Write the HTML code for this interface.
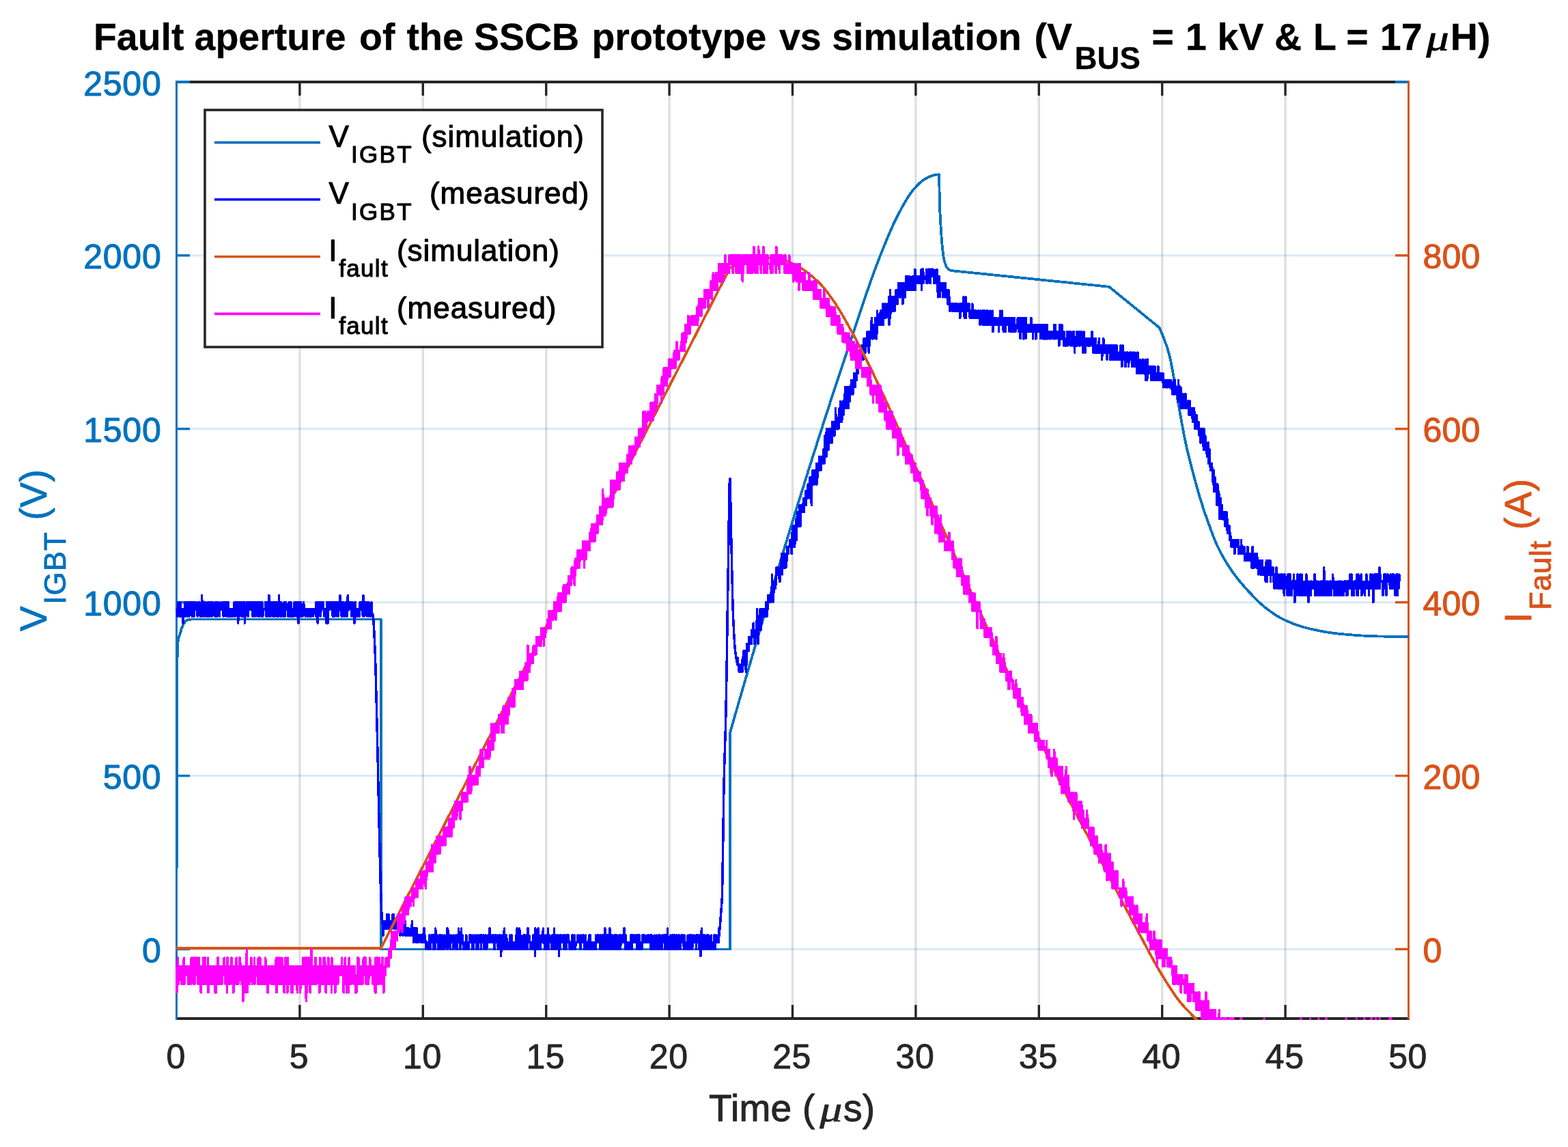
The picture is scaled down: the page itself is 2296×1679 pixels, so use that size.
<!DOCTYPE html>
<html lang="en"><head><meta charset="utf-8">
<title>Fault aperture of the SSCB prototype vs simulation</title>
<style>
html,body{margin:0;padding:0;background:#fff;}
body{width:2296px;height:1679px;overflow:hidden;}
svg{display:block;}
text{font-family:'Liberation Sans', Arial, Helvetica, sans-serif;stroke-linejoin:round;}
.mu{font-family:'Liberation Serif', 'DejaVu Serif', serif;font-style:italic;font-weight:normal;stroke-width:0.6px;}
</style></head><body>
<svg xmlns="http://www.w3.org/2000/svg" width="2296" height="1679" viewBox="0 0 2296 1679">
<rect x="0" y="0" width="2296" height="1679" fill="#ffffff"/>
<defs><clipPath id="ax"><rect x="257" y="118" width="1807" height="1375"/></clipPath></defs>
<g stroke="#262626" stroke-opacity="0.15" stroke-width="3.4">
<line x1="438.9" y1="120" x2="438.9" y2="1491"/>
<line x1="619.3" y1="120" x2="619.3" y2="1491"/>
<line x1="799.7" y1="120" x2="799.7" y2="1491"/>
<line x1="980.1" y1="120" x2="980.1" y2="1491"/>
<line x1="1160.5" y1="120" x2="1160.5" y2="1491"/>
<line x1="1340.9" y1="120" x2="1340.9" y2="1491"/>
<line x1="1521.3" y1="120" x2="1521.3" y2="1491"/>
<line x1="1701.7" y1="120" x2="1701.7" y2="1491"/>
<line x1="1882.1" y1="120" x2="1882.1" y2="1491"/>
</g>
<g stroke="#0072bd" stroke-opacity="0.15" stroke-width="3.0">
<line x1="258.5" y1="1389.4" x2="2062.5" y2="1389.4"/>
<line x1="258.5" y1="1135.6" x2="2062.5" y2="1135.6"/>
<line x1="258.5" y1="881.7" x2="2062.5" y2="881.7"/>
<line x1="258.5" y1="627.8" x2="2062.5" y2="627.8"/>
<line x1="258.5" y1="373.9" x2="2062.5" y2="373.9"/>
</g>
<g>
<rect x="257" y="118" width="1807" height="4" fill="#262626"/>
<rect x="257" y="1489" width="1807" height="4" fill="#262626"/>
<g stroke="#262626" stroke-width="3.4">
<line x1="438.9" y1="1491" x2="438.9" y2="1471"/>
<line x1="438.9" y1="120" x2="438.9" y2="140"/>
<line x1="619.3" y1="1491" x2="619.3" y2="1471"/>
<line x1="619.3" y1="120" x2="619.3" y2="140"/>
<line x1="799.7" y1="1491" x2="799.7" y2="1471"/>
<line x1="799.7" y1="120" x2="799.7" y2="140"/>
<line x1="980.1" y1="1491" x2="980.1" y2="1471"/>
<line x1="980.1" y1="120" x2="980.1" y2="140"/>
<line x1="1160.5" y1="1491" x2="1160.5" y2="1471"/>
<line x1="1160.5" y1="120" x2="1160.5" y2="140"/>
<line x1="1340.9" y1="1491" x2="1340.9" y2="1471"/>
<line x1="1340.9" y1="120" x2="1340.9" y2="140"/>
<line x1="1521.3" y1="1491" x2="1521.3" y2="1471"/>
<line x1="1521.3" y1="120" x2="1521.3" y2="140"/>
<line x1="1701.7" y1="1491" x2="1701.7" y2="1471"/>
<line x1="1701.7" y1="120" x2="1701.7" y2="140"/>
<line x1="1882.1" y1="1491" x2="1882.1" y2="1471"/>
<line x1="1882.1" y1="120" x2="1882.1" y2="140"/>
</g>
<rect x="257" y="118" width="3" height="1375" fill="#0072bd"/>
<rect x="257" y="118" width="21" height="4" fill="#0072bd"/>
<g stroke="#0072bd" stroke-width="3.4">
<line x1="258.5" y1="1389.4" x2="278" y2="1389.4"/>
<line x1="258.5" y1="1135.6" x2="278" y2="1135.6"/>
<line x1="258.5" y1="881.7" x2="278" y2="881.7"/>
<line x1="258.5" y1="627.8" x2="278" y2="627.8"/>
<line x1="258.5" y1="373.9" x2="278" y2="373.9"/>
</g>
<rect x="2043" y="118" width="18" height="4" fill="#0072bd"/>
<rect x="2061" y="118" width="3" height="1374" fill="#d95319"/>
<g stroke="#d95319" stroke-width="3.4">
<line x1="2062.5" y1="1389.4" x2="2043" y2="1389.4"/>
<line x1="2062.5" y1="1135.6" x2="2043" y2="1135.6"/>
<line x1="2062.5" y1="881.7" x2="2043" y2="881.7"/>
<line x1="2062.5" y1="627.8" x2="2043" y2="627.8"/>
<line x1="2062.5" y1="373.9" x2="2043" y2="373.9"/>
</g>
</g>
<g clip-path="url(#ax)" fill="none" stroke-linejoin="round" stroke-linecap="butt">
<path stroke="#0072bd" stroke-width="3.8" shape-rendering="crispEdges" d="M258.5,1389.4L258.8,1100L259.2,990L259.8,950L260.6,938.5L261.8,933L263.3,929L265.9,920L268.6,913.7L272.1,908.6L275.7,906.8L282,906.5L300,906.5L557.7,906.5L557.7,1389.4L1069,1389.4L1069,1072.5L1071,1065.5L1074,1055.1L1077,1044.7L1080,1034.3L1083,1023.9L1086,1013.6L1089,1003.3L1092,992.9L1095,982.7L1098,972.4L1101,962.2L1104,952L1107,941.8L1110,931.6L1113,921.5L1116,911.3L1119,901.2L1122,891.1L1125,881L1128,871L1131,860.9L1134,850.9L1137,840.9L1140,830.9L1143,820.9L1146,811L1149,801.1L1152,791.2L1155,781.3L1158,771.5L1161,761.7L1164,752L1167,742.3L1170,732.6L1173,723L1176,713.3L1179,703.8L1182,694.2L1185,684.7L1188,675.2L1191,665.7L1194,656.3L1197,646.9L1200,637.5L1203,628.2L1206,618.9L1209,609.6L1212,600.4L1215,591.1L1218,581.9L1221,572.7L1224,563.6L1227,554.4L1230,545.3L1233,536.3L1236,527.2L1239,518.2L1242,509.3L1245,500.4L1248,491.5L1251,482.6L1254,473.6L1257,464.7L1260,455.7L1263,446.7L1266,437.8L1269,428.9L1272,420.2L1275,411.6L1278,403.2L1281,395L1284,387L1287,379.2L1290,371.6L1293,364.1L1296,356.7L1299,349.4L1302,342.4L1305,335.5L1308,328.8L1311,322.5L1314,316.4L1317,310.7L1320,305.1L1323,299.7L1326,294.5L1329,289.6L1332,285L1335,280.8L1338,277.1L1341,273.7L1344,270.6L1347,267.7L1350,265.1L1353,262.9L1356,261.2L1359,259.6L1362,258.2L1365,257.1L1368,256.3L1371,255.7L1374,255.4L1374.9,255.3L1375.6,280L1376.3,309L1377.6,332L1379,352.5L1380.3,366L1381.7,377L1383.6,385L1385.8,390.6L1389,394.5L1392.6,396.1L1624.1,419.8L1697.6,479.6L1699,482.6L1702,489.6L1705,497.4L1708,505.8L1711,515.1L1714,527L1717,542.7L1720,559.3L1723,576.5L1726,594L1729,610.8L1732,627.4L1735,642.9L1738,656.6L1741,669.1L1744,680.9L1747,692.4L1750,703.7L1753,714.5L1756,724.9L1759,734.7L1762,744.1L1765,753.1L1768,761.6L1771,769.9L1774,778L1777,785.9L1780,793.3L1783,800L1786,806.1L1789,811.8L1792,817.1L1795,822.2L1798,827L1801,831.6L1804,836L1807,840.2L1810,844.2L1813,848.1L1816,851.8L1819,855.3L1822,858.8L1825,862.1L1828,865.4L1831,868.6L1834,871.7L1837,874.8L1840,877.8L1843,880.8L1846,883.6L1849,886.2L1852,888.8L1855,891.1L1858,893.4L1861,895.5L1864,897.6L1867,899.7L1870,901.6L1873,903.4L1876,905L1879,906.6L1882,908L1885,909.3L1888,910.6L1891,911.9L1894,913.1L1897,914.2L1900,915.3L1903,916.3L1906,917.2L1909,918.1L1912,918.9L1915,919.6L1918,920.4L1921,921L1924,921.7L1927,922.3L1930,923L1933,923.6L1936,924.1L1939,924.7L1942,925.2L1945,925.7L1948,926.1L1951,926.6L1954,927L1957,927.3L1960,927.7L1963,928L1966,928.3L1969,928.5L1972,928.8L1975,929.1L1978,929.3L1981,929.5L1984,929.8L1987,930L1990,930.2L1993,930.4L1996,930.5L1999,930.7L2002,930.8L2005,931L2008,931.1L2011,931.2L2014,931.3L2017,931.4L2020,931.5L2023,931.5L2026,931.6L2029,931.7L2032,931.8L2035,931.8L2038,931.9L2041,932L2044,932L2047,932.1L2050,932.1L2053,932.2L2056,932.2L2059,932.2L2062,932.2L2062.5,932.2"/>
<path stroke="#0000ff" stroke-width="3.5" shape-rendering="crispEdges" d="M258.5,891.8L258.9,891.8L259.2,891.8L259.6,902L259.9,891.8L260.3,902L260.7,891.8L261,881.7L261.4,891.8L261.7,891.8L262.1,891.8L262.5,891.8L262.8,891.8L263.2,902L263.6,891.8L263.9,881.7L264.3,902L264.6,891.8L265,902L265.4,902L265.7,902L266.1,891.8L266.4,902L266.8,891.8L267.2,891.8L267.5,891.8L267.9,912.1L268.2,891.8L268.6,891.8L269,891.8L269.3,902L269.7,891.8L270,902L270.4,902L270.8,881.7L271.1,902L271.5,891.8L271.8,881.7L272.2,891.8L272.6,891.8L272.9,891.8L273.3,891.8L273.7,902L274,891.8L274.4,881.7L274.7,902L275.1,881.7L275.5,891.8L275.8,891.8L276.2,881.7L276.5,881.7L276.9,902L277.3,891.8L277.6,891.8L278,891.8L278.3,881.7L278.7,891.8L279.1,881.7L279.4,881.7L279.8,891.8L280.1,891.8L280.5,891.8L280.9,891.8L281.2,902L281.6,891.8L282,891.8L282.3,881.7L282.7,881.7L283,902L283.4,902L283.8,881.7L284.1,902L284.5,891.8L284.8,891.8L285.2,881.7L285.6,881.7L285.9,891.8L286.3,891.8L286.6,891.8L287,881.7L287.4,891.8L287.7,891.8L288.1,891.8L288.4,891.8L288.8,891.8L289.2,902L289.5,891.8L289.9,891.8L290.3,881.7L290.6,881.7L291,891.8L291.3,881.7L291.7,891.8L292.1,881.7L292.4,891.8L292.8,891.8L293.1,902L293.5,891.8L293.9,902L294.2,902L294.6,891.8L294.9,902L295.3,891.8L295.7,871.5L296,902L296.4,891.8L296.7,891.8L297.1,891.8L297.5,891.8L297.8,891.8L298.2,881.7L298.5,891.8L298.9,902L299.3,891.8L299.6,891.8L300,902L300.4,891.8L300.7,902L301.1,881.7L301.4,891.8L301.8,891.8L302.2,891.8L302.5,891.8L302.9,902L303.2,902L303.6,891.8L304,902L304.3,881.7L304.7,902L305,881.7L305.4,902L305.8,881.7L306.1,891.8L306.5,902L306.8,881.7L307.2,881.7L307.6,891.8L307.9,891.8L308.3,891.8L308.7,902L309,881.7L309.4,891.8L309.7,891.8L310.1,902L310.5,891.8L310.8,902L311.2,881.7L311.5,891.8L311.9,881.7L312.3,891.8L312.6,891.8L313,891.8L313.3,891.8L313.7,891.8L314.1,891.8L314.4,891.8L314.8,902L315.1,902L315.5,881.7L315.9,891.8L316.2,902L316.6,891.8L316.9,881.7L317.3,902L317.7,891.8L318,891.8L318.4,902L318.8,881.7L319.1,891.8L319.5,891.8L319.8,891.8L320.2,891.8L320.6,891.8L320.9,891.8L321.3,902L321.6,902L322,881.7L322.4,891.8L322.7,891.8L323.1,891.8L323.4,891.8L323.8,891.8L324.2,891.8L324.5,891.8L324.9,891.8L325.2,891.8L325.6,881.7L326,881.7L326.3,891.8L326.7,891.8L327.1,902L327.4,881.7L327.8,881.7L328.1,891.8L328.5,891.8L328.9,881.7L329.2,881.7L329.6,881.7L329.9,891.8L330.3,881.7L330.7,902L331,881.7L331.4,891.8L331.7,881.7L332.1,881.7L332.5,881.7L332.8,902L333.2,902L333.5,881.7L333.9,902L334.3,891.8L334.6,881.7L335,902L335.4,902L335.7,891.8L336.1,891.8L336.4,891.8L336.8,891.8L337.2,902L337.5,902L337.9,891.8L338.2,902L338.6,902L339,891.8L339.3,891.8L339.7,891.8L340,902L340.4,891.8L340.8,902L341.1,902L341.5,891.8L341.8,891.8L342.2,891.8L342.6,891.8L342.9,881.7L343.3,902L343.6,881.7L344,891.8L344.4,891.8L344.7,902L345.1,891.8L345.5,881.7L345.8,891.8L346.2,891.8L346.5,891.8L346.9,881.7L347.3,891.8L347.6,902L348,891.8L348.3,902L348.7,912.1L349.1,891.8L349.4,881.7L349.8,891.8L350.1,902L350.5,902L350.9,881.7L351.2,891.8L351.6,891.8L351.9,891.8L352.3,891.8L352.7,881.7L353,891.8L353.4,891.8L353.8,902L354.1,891.8L354.5,891.8L354.8,881.7L355.2,902L355.6,891.8L355.9,891.8L356.3,902L356.6,881.7L357,881.7L357.4,891.8L357.7,881.7L358.1,891.8L358.4,912.1L358.8,891.8L359.2,891.8L359.5,891.8L359.9,902L360.2,891.8L360.6,891.8L361,881.7L361.3,891.8L361.7,891.8L362,881.7L362.4,891.8L362.8,891.8L363.1,902L363.5,881.7L363.9,881.7L364.2,881.7L364.6,881.7L364.9,891.8L365.3,891.8L365.7,891.8L366,891.8L366.4,891.8L366.7,881.7L367.1,891.8L367.5,891.8L367.8,891.8L368.2,891.8L368.5,881.7L368.9,891.8L369.3,891.8L369.6,891.8L370,902L370.3,891.8L370.7,881.7L371.1,891.8L371.4,891.8L371.8,891.8L372.2,891.8L372.5,902L372.9,891.8L373.2,902L373.6,881.7L374,891.8L374.3,891.8L374.7,881.7L375,891.8L375.4,891.8L375.8,891.8L376.1,891.8L376.5,902L376.8,891.8L377.2,881.7L377.6,891.8L377.9,891.8L378.3,902L378.6,891.8L379,902L379.4,902L379.7,881.7L380.1,902L380.5,881.7L380.8,881.7L381.2,891.8L381.5,891.8L381.9,881.7L382.3,891.8L382.6,891.8L383,902L383.3,891.8L383.7,881.7L384.1,881.7L384.4,902L384.8,902L385.1,891.8L385.5,891.8L385.9,891.8L386.2,891.8L386.6,891.8L386.9,891.8L387.3,891.8L387.7,891.8L388,891.8L388.4,891.8L388.7,881.7L389.1,891.8L389.5,891.8L389.8,902L390.2,891.8L390.6,902L390.9,902L391.3,881.7L391.6,881.7L392,891.8L392.4,902L392.7,891.8L393.1,891.8L393.4,891.8L393.8,871.5L394.2,891.8L394.5,891.8L394.9,902L395.2,891.8L395.6,891.8L396,902L396.3,891.8L396.7,902L397,881.7L397.4,881.7L397.8,881.7L398.1,891.8L398.5,891.8L398.9,891.8L399.2,891.8L399.6,891.8L399.9,902L400.3,902L400.7,881.7L401,891.8L401.4,891.8L401.7,881.7L402.1,902L402.5,891.8L402.8,891.8L403.2,891.8L403.5,891.8L403.9,881.7L404.3,891.8L404.6,902L405,902L405.3,881.7L405.7,891.8L406.1,902L406.4,881.7L406.8,891.8L407.1,881.7L407.5,891.8L407.9,891.8L408.2,902L408.6,871.5L409,891.8L409.3,881.7L409.7,891.8L410,891.8L410.4,902L410.8,891.8L411.1,881.7L411.5,902L411.8,881.7L412.2,891.8L412.6,902L412.9,891.8L413.3,891.8L413.6,891.8L414,891.8L414.4,902L414.7,891.8L415.1,902L415.4,902L415.8,891.8L416.2,881.7L416.5,902L416.9,891.8L417.3,891.8L417.6,902L418,881.7L418.3,891.8L418.7,881.7L419.1,891.8L419.4,891.8L419.8,891.8L420.1,891.8L420.5,891.8L420.9,891.8L421.2,891.8L421.6,891.8L421.9,902L422.3,891.8L422.7,891.8L423,881.7L423.4,902L423.7,891.8L424.1,902L424.5,881.7L424.8,902L425.2,902L425.6,891.8L425.9,881.7L426.3,902L426.6,902L427,891.8L427.4,902L427.7,891.8L428.1,902L428.4,891.8L428.8,891.8L429.2,891.8L429.5,891.8L429.9,902L430.2,902L430.6,902L431,881.7L431.3,891.8L431.7,891.8L432,891.8L432.4,891.8L432.8,891.8L433.1,881.7L433.5,902L433.8,902L434.2,902L434.6,902L434.9,881.7L435.3,881.7L435.7,902L436,902L436.4,891.8L436.7,881.7L437.1,912.1L437.5,891.8L437.8,902L438.2,881.7L438.5,902L438.9,891.8L439.3,902L439.6,902L440,881.7L440.3,881.7L440.7,891.8L441.1,902L441.4,902L441.8,891.8L442.1,891.8L442.5,891.8L442.9,891.8L443.2,902L443.6,891.8L444,891.8L444.3,881.7L444.7,881.7L445,891.8L445.4,891.8L445.8,891.8L446.1,891.8L446.5,891.8L446.8,891.8L447.2,902L447.6,891.8L447.9,891.8L448.3,891.8L448.6,891.8L449,891.8L449.4,902L449.7,891.8L450.1,891.8L450.4,891.8L450.8,891.8L451.2,902L451.5,891.8L451.9,902L452.2,891.8L452.6,891.8L453,902L453.3,891.8L453.7,891.8L454.1,891.8L454.4,891.8L454.8,891.8L455.1,902L455.5,891.8L455.9,891.8L456.2,891.8L456.6,902L456.9,891.8L457.3,891.8L457.7,891.8L458,891.8L458.4,891.8L458.7,902L459.1,891.8L459.5,891.8L459.8,891.8L460.2,891.8L460.5,891.8L460.9,891.8L461.3,891.8L461.6,891.8L462,891.8L462.4,902L462.7,891.8L463.1,881.7L463.4,881.7L463.8,891.8L464.2,902L464.5,881.7L464.9,891.8L465.2,912.1L465.6,891.8L466,902L466.3,902L466.7,891.8L467,881.7L467.4,891.8L467.8,891.8L468.1,881.7L468.5,881.7L468.8,891.8L469.2,891.8L469.6,902L469.9,891.8L470.3,891.8L470.7,891.8L471,891.8L471.4,881.7L471.7,891.8L472.1,891.8L472.5,881.7L472.8,891.8L473.2,881.7L473.5,891.8L473.9,891.8L474.3,891.8L474.6,902L475,902L475.3,891.8L475.7,891.8L476.1,891.8L476.4,902L476.8,891.8L477.1,891.8L477.5,902L477.9,912.1L478.2,891.8L478.6,881.7L478.9,891.8L479.3,891.8L479.7,891.8L480,881.7L480.4,912.1L480.8,891.8L481.1,891.8L481.5,881.7L481.8,881.7L482.2,881.7L482.6,891.8L482.9,891.8L483.3,881.7L483.6,891.8L484,891.8L484.4,881.7L484.7,881.7L485.1,891.8L485.4,891.8L485.8,891.8L486.2,881.7L486.5,891.8L486.9,881.7L487.2,902L487.6,891.8L488,891.8L488.3,881.7L488.7,881.7L489.1,902L489.4,902L489.8,891.8L490.1,891.8L490.5,902L490.9,881.7L491.2,891.8L491.6,891.8L491.9,891.8L492.3,881.7L492.7,891.8L493,881.7L493.4,902L493.7,902L494.1,891.8L494.5,891.8L494.8,881.7L495.2,891.8L495.5,902L495.9,891.8L496.3,891.8L496.6,881.7L497,891.8L497.3,891.8L497.7,881.7L498.1,871.5L498.4,881.7L498.8,891.8L499.2,891.8L499.5,881.7L499.9,891.8L500.2,902L500.6,891.8L501,891.8L501.3,902L501.7,902L502,902L502.4,881.7L502.8,891.8L503.1,891.8L503.5,891.8L503.8,891.8L504.2,891.8L504.6,891.8L504.9,902L505.3,891.8L505.6,902L506,881.7L506.4,891.8L506.7,891.8L507.1,891.8L507.5,891.8L507.8,881.7L508.2,902L508.5,902L508.9,891.8L509.3,871.5L509.6,881.7L510,891.8L510.3,881.7L510.7,881.7L511.1,891.8L511.4,891.8L511.8,881.7L512.1,891.8L512.5,881.7L512.9,891.8L513.2,881.7L513.6,881.7L513.9,891.8L514.3,881.7L514.7,902L515,891.8L515.4,891.8L515.8,891.8L516.1,881.7L516.5,891.8L516.8,902L517.2,891.8L517.6,891.8L517.9,891.8L518.3,891.8L518.6,891.8L519,912.1L519.4,881.7L519.7,891.8L520.1,881.7L520.4,881.7L520.8,891.8L521.2,902L521.5,902L521.9,902L522.2,891.8L522.6,891.8L523,902L523.3,891.8L523.7,902L524,891.8L524.4,891.8L524.8,891.8L525.1,891.8L525.5,891.8L525.9,891.8L526.2,902L526.6,891.8L526.9,881.7L527.3,881.7L527.7,881.7L528,881.7L528.4,891.8L528.7,881.7L529.1,891.8L529.5,891.8L529.8,891.8L530.2,891.8L530.5,891.8L530.9,891.8L531.3,902L531.6,891.8L532,871.5L532.3,891.8L532.7,891.8L533.1,891.8L533.4,881.7L533.8,902L534.2,891.8L534.5,881.7L534.9,891.8L535.2,891.8L535.6,881.7L536,891.8L536.3,891.8L536.7,891.8L537,881.7L537.4,902L537.8,891.8L538.1,891.8L538.5,881.7L538.8,891.8L539.2,881.7L539.6,902L539.9,881.7L540.3,891.8L540.6,891.8L541,891.8L541.4,902L541.7,902L542.1,891.8L542.4,902L542.8,891.8L543.2,891.8L543.5,891.8L543.9,881.7L544.3,891.8L544.6,902L545,902L545.3,898.1L545.7,899.1L546.1,900.3L546.4,903L546.8,907L547.1,912.2L547.5,918.3L547.9,925.1L548.2,932.6L548.6,940.5L548.9,948.7L549.3,957.7L549.7,968.4L550,980.5L550.4,993.8L550.7,1008L551.1,1022.8L551.5,1037.9L551.8,1053L552.2,1068L552.6,1084L552.9,1100.8L553.3,1118.2L553.6,1135.9L554,1153.5L554.4,1170.8L554.7,1187.5L555.1,1203.4L555.4,1219.2L555.8,1235.3L556.2,1251L556.5,1266.1L556.9,1280L557.2,1292.4L557.6,1302.9L558,1313.1L558.3,1323.4L558.7,1333L559,1341.2L559.4,1347.6L559.8,1351.3L560.1,1352L560.5,1352L560.9,1352L561.2,1369.1L561.6,1359L561.9,1359L562.3,1348.8L562.7,1348.8L563,1359L563.4,1359L563.7,1348.8L564.1,1348.8L564.5,1348.8L564.8,1359L565.2,1348.8L565.5,1359L565.9,1359L566.3,1359L566.6,1338.7L567,1348.8L567.3,1348.8L567.7,1359L568.1,1348.8L568.4,1359L568.8,1348.8L569.1,1338.7L569.5,1348.8L569.9,1359L570.2,1348.8L570.6,1348.8L571,1348.8L571.3,1359L571.7,1359L572,1359L572.4,1348.8L572.8,1348.8L573.1,1348.8L573.5,1348.8L573.8,1348.8L574.2,1359L574.6,1348.8L574.9,1338.7L575.3,1348.8L575.6,1348.8L576,1348.8L576.4,1338.7L576.7,1359L577.1,1359L577.4,1348.8L577.8,1348.8L578.2,1359L578.5,1348.8L578.9,1359L579.3,1348.8L579.6,1359L580,1359L580.3,1359L580.7,1348.8L581.1,1359L581.4,1359L581.8,1348.8L582.1,1359L582.5,1359L582.9,1359L583.2,1348.8L583.6,1338.7L583.9,1338.7L584.3,1359L584.7,1348.8L585,1359L585.4,1359L585.7,1348.8L586.1,1369.1L586.5,1348.8L586.8,1359L587.2,1348.8L587.5,1359L587.9,1359L588.3,1359L588.6,1348.8L589,1359L589.4,1359L589.7,1359L590.1,1369.1L590.4,1348.8L590.8,1359L591.2,1359L591.5,1359L591.9,1348.8L592.2,1359L592.6,1369.1L593,1359L593.3,1348.8L593.7,1369.1L594,1359L594.4,1369.1L594.8,1369.1L595.1,1359L595.5,1359L595.8,1369.1L596.2,1369.1L596.6,1359L596.9,1359L597.3,1369.1L597.7,1359L598,1359L598.4,1369.1L598.7,1359L599.1,1369.1L599.5,1369.1L599.8,1369.1L600.2,1369.1L600.5,1369.1L600.9,1369.1L601.3,1369.1L601.6,1359L602,1369.1L602.3,1359L602.7,1359L603.1,1359L603.4,1348.8L603.8,1369.1L604.1,1359L604.5,1369.1L604.9,1359L605.2,1359L605.6,1379.3L606,1369.1L606.3,1359L606.7,1359L607,1359L607.4,1369.1L607.8,1369.1L608.1,1369.1L608.5,1369.1L608.8,1359L609.2,1379.3L609.6,1369.1L609.9,1379.3L610.3,1359L610.6,1369.1L611,1379.3L611.4,1369.1L611.7,1379.3L612.1,1379.3L612.4,1379.3L612.8,1369.1L613.2,1369.1L613.5,1369.1L613.9,1369.1L614.2,1369.1L614.6,1369.1L615,1369.1L615.3,1369.1L615.7,1369.1L616.1,1379.3L616.4,1379.3L616.8,1369.1L617.1,1369.1L617.5,1379.3L617.9,1369.1L618.2,1379.3L618.6,1369.1L618.9,1379.3L619.3,1369.1L619.7,1369.1L620,1379.3L620.4,1359L620.7,1369.1L621.1,1359L621.5,1369.1L621.8,1379.3L622.2,1379.3L622.5,1369.1L622.9,1379.3L623.3,1379.3L623.6,1379.3L624,1389.4L624.4,1379.3L624.7,1389.4L625.1,1379.3L625.4,1379.3L625.8,1379.3L626.2,1379.3L626.5,1379.3L626.9,1389.4L627.2,1389.4L627.6,1379.3L628,1389.4L628.3,1379.3L628.7,1369.1L629,1379.3L629.4,1369.1L629.8,1389.4L630.1,1379.3L630.5,1379.3L630.8,1379.3L631.2,1369.1L631.6,1369.1L631.9,1379.3L632.3,1379.3L632.6,1379.3L633,1369.1L633.4,1379.3L633.7,1369.1L634.1,1379.3L634.5,1369.1L634.8,1389.4L635.2,1379.3L635.5,1369.1L635.9,1379.3L636.3,1379.3L636.6,1379.3L637,1389.4L637.3,1379.3L637.7,1359L638.1,1369.1L638.4,1379.3L638.8,1379.3L639.1,1379.3L639.5,1369.1L639.9,1379.3L640.2,1379.3L640.6,1369.1L640.9,1369.1L641.3,1379.3L641.7,1389.4L642,1389.4L642.4,1379.3L642.8,1389.4L643.1,1369.1L643.5,1379.3L643.8,1379.3L644.2,1369.1L644.6,1369.1L644.9,1389.4L645.3,1369.1L645.6,1369.1L646,1379.3L646.4,1379.3L646.7,1379.3L647.1,1389.4L647.4,1369.1L647.8,1389.4L648.2,1389.4L648.5,1379.3L648.9,1379.3L649.2,1379.3L649.6,1379.3L650,1379.3L650.3,1369.1L650.7,1389.4L651.1,1379.3L651.4,1379.3L651.8,1379.3L652.1,1379.3L652.5,1379.3L652.9,1379.3L653.2,1369.1L653.6,1379.3L653.9,1379.3L654.3,1369.1L654.7,1359L655,1389.4L655.4,1379.3L655.7,1359L656.1,1369.1L656.5,1379.3L656.8,1379.3L657.2,1379.3L657.5,1379.3L657.9,1379.3L658.3,1369.1L658.6,1379.3L659,1379.3L659.3,1389.4L659.7,1379.3L660.1,1379.3L660.4,1379.3L660.8,1369.1L661.2,1379.3L661.5,1379.3L661.9,1379.3L662.2,1379.3L662.6,1379.3L663,1379.3L663.3,1369.1L663.7,1389.4L664,1369.1L664.4,1379.3L664.8,1379.3L665.1,1379.3L665.5,1379.3L665.8,1379.3L666.2,1379.3L666.6,1369.1L666.9,1379.3L667.3,1389.4L667.6,1379.3L668,1389.4L668.4,1379.3L668.7,1369.1L669.1,1369.1L669.5,1389.4L669.8,1379.3L670.2,1369.1L670.5,1379.3L670.9,1379.3L671.3,1369.1L671.6,1359L672,1369.1L672.3,1379.3L672.7,1379.3L673.1,1369.1L673.4,1379.3L673.8,1389.4L674.1,1379.3L674.5,1379.3L674.9,1379.3L675.2,1379.3L675.6,1359L675.9,1379.3L676.3,1379.3L676.7,1379.3L677,1379.3L677.4,1369.1L677.7,1379.3L678.1,1379.3L678.5,1389.4L678.8,1379.3L679.2,1379.3L679.6,1379.3L679.9,1389.4L680.3,1379.3L680.6,1379.3L681,1379.3L681.4,1379.3L681.7,1379.3L682.1,1389.4L682.4,1389.4L682.8,1369.1L683.2,1389.4L683.5,1379.3L683.9,1379.3L684.2,1379.3L684.6,1379.3L685,1379.3L685.3,1379.3L685.7,1379.3L686,1389.4L686.4,1379.3L686.8,1379.3L687.1,1379.3L687.5,1379.3L687.9,1369.1L688.2,1369.1L688.6,1379.3L688.9,1369.1L689.3,1369.1L689.7,1369.1L690,1369.1L690.4,1379.3L690.7,1379.3L691.1,1369.1L691.5,1389.4L691.8,1379.3L692.2,1379.3L692.5,1379.3L692.9,1389.4L693.3,1379.3L693.6,1379.3L694,1369.1L694.3,1369.1L694.7,1379.3L695.1,1379.3L695.4,1379.3L695.8,1379.3L696.2,1379.3L696.5,1379.3L696.9,1369.1L697.2,1379.3L697.6,1389.4L698,1379.3L698.3,1389.4L698.7,1389.4L699,1369.1L699.4,1379.3L699.8,1389.4L700.1,1369.1L700.5,1369.1L700.8,1379.3L701.2,1379.3L701.6,1379.3L701.9,1379.3L702.3,1369.1L702.6,1369.1L703,1369.1L703.4,1369.1L703.7,1369.1L704.1,1369.1L704.4,1389.4L704.8,1379.3L705.2,1379.3L705.5,1379.3L705.9,1369.1L706.3,1379.3L706.6,1379.3L707,1369.1L707.3,1369.1L707.7,1379.3L708.1,1369.1L708.4,1369.1L708.8,1379.3L709.1,1389.4L709.5,1379.3L709.9,1379.3L710.2,1389.4L710.6,1379.3L710.9,1369.1L711.3,1379.3L711.7,1389.4L712,1369.1L712.4,1379.3L712.7,1389.4L713.1,1379.3L713.5,1379.3L713.8,1379.3L714.2,1369.1L714.6,1379.3L714.9,1379.3L715.3,1379.3L715.6,1369.1L716,1379.3L716.4,1379.3L716.7,1379.3L717.1,1359L717.4,1379.3L717.8,1369.1L718.2,1379.3L718.5,1379.3L718.9,1369.1L719.2,1369.1L719.6,1369.1L720,1379.3L720.3,1379.3L720.7,1379.3L721,1379.3L721.4,1379.3L721.8,1369.1L722.1,1379.3L722.5,1369.1L722.8,1369.1L723.2,1379.3L723.6,1389.4L723.9,1389.4L724.3,1389.4L724.7,1369.1L725,1379.3L725.4,1369.1L725.7,1379.3L726.1,1369.1L726.5,1369.1L726.8,1379.3L727.2,1379.3L727.5,1379.3L727.9,1379.3L728.3,1379.3L728.6,1379.3L729,1369.1L729.3,1389.4L729.7,1379.3L730.1,1379.3L730.4,1379.3L730.8,1369.1L731.1,1379.3L731.5,1369.1L731.9,1389.4L732.2,1369.1L732.6,1379.3L733,1379.3L733.3,1379.3L733.7,1399.6L734,1379.3L734.4,1379.3L734.8,1369.1L735.1,1379.3L735.5,1379.3L735.8,1389.4L736.2,1369.1L736.6,1369.1L736.9,1379.3L737.3,1379.3L737.6,1389.4L738,1369.1L738.4,1359L738.7,1369.1L739.1,1369.1L739.4,1379.3L739.8,1389.4L740.2,1369.1L740.5,1389.4L740.9,1379.3L741.3,1379.3L741.6,1369.1L742,1379.3L742.3,1379.3L742.7,1379.3L743.1,1389.4L743.4,1379.3L743.8,1379.3L744.1,1389.4L744.5,1389.4L744.9,1379.3L745.2,1389.4L745.6,1389.4L745.9,1389.4L746.3,1379.3L746.7,1379.3L747,1369.1L747.4,1389.4L747.7,1379.3L748.1,1369.1L748.5,1379.3L748.8,1379.3L749.2,1369.1L749.5,1379.3L749.9,1389.4L750.3,1389.4L750.6,1379.3L751,1379.3L751.4,1389.4L751.7,1389.4L752.1,1379.3L752.4,1379.3L752.8,1379.3L753.2,1379.3L753.5,1379.3L753.9,1389.4L754.2,1379.3L754.6,1379.3L755,1379.3L755.3,1389.4L755.7,1379.3L756,1369.1L756.4,1369.1L756.8,1389.4L757.1,1359L757.5,1389.4L757.8,1369.1L758.2,1369.1L758.6,1369.1L758.9,1379.3L759.3,1389.4L759.7,1369.1L760,1379.3L760.4,1389.4L760.7,1359L761.1,1369.1L761.5,1369.1L761.8,1379.3L762.2,1369.1L762.5,1369.1L762.9,1369.1L763.3,1379.3L763.6,1389.4L764,1379.3L764.3,1389.4L764.7,1389.4L765.1,1379.3L765.4,1389.4L765.8,1379.3L766.1,1379.3L766.5,1369.1L766.9,1369.1L767.2,1379.3L767.6,1369.1L767.9,1379.3L768.3,1379.3L768.7,1369.1L769,1389.4L769.4,1379.3L769.8,1389.4L770.1,1379.3L770.5,1369.1L770.8,1379.3L771.2,1379.3L771.6,1379.3L771.9,1389.4L772.3,1389.4L772.6,1369.1L773,1359L773.4,1379.3L773.7,1379.3L774.1,1369.1L774.4,1379.3L774.8,1369.1L775.2,1379.3L775.5,1379.3L775.9,1379.3L776.2,1379.3L776.6,1379.3L777,1389.4L777.3,1379.3L777.7,1389.4L778.1,1379.3L778.4,1379.3L778.8,1379.3L779.1,1379.3L779.5,1389.4L779.9,1379.3L780.2,1379.3L780.6,1369.1L780.9,1369.1L781.3,1369.1L781.7,1379.3L782,1369.1L782.4,1389.4L782.7,1369.1L783.1,1379.3L783.5,1399.6L783.8,1359L784.2,1369.1L784.5,1389.4L784.9,1379.3L785.3,1379.3L785.6,1379.3L786,1389.4L786.4,1379.3L786.7,1379.3L787.1,1379.3L787.4,1369.1L787.8,1379.3L788.2,1359L788.5,1379.3L788.9,1379.3L789.2,1389.4L789.6,1389.4L790,1369.1L790.3,1379.3L790.7,1379.3L791,1379.3L791.4,1389.4L791.8,1379.3L792.1,1379.3L792.5,1379.3L792.8,1369.1L793.2,1369.1L793.6,1379.3L793.9,1379.3L794.3,1379.3L794.6,1379.3L795,1369.1L795.4,1359L795.7,1369.1L796.1,1379.3L796.5,1379.3L796.8,1379.3L797.2,1379.3L797.5,1389.4L797.9,1379.3L798.3,1379.3L798.6,1369.1L799,1379.3L799.3,1379.3L799.7,1389.4L800.1,1369.1L800.4,1379.3L800.8,1369.1L801.1,1369.1L801.5,1369.1L801.9,1379.3L802.2,1369.1L802.6,1359L802.9,1389.4L803.3,1369.1L803.7,1369.1L804,1379.3L804.4,1369.1L804.8,1369.1L805.1,1379.3L805.5,1379.3L805.8,1379.3L806.2,1379.3L806.6,1379.3L806.9,1379.3L807.3,1379.3L807.6,1379.3L808,1389.4L808.4,1369.1L808.7,1369.1L809.1,1369.1L809.4,1379.3L809.8,1379.3L810.2,1379.3L810.5,1379.3L810.9,1389.4L811.2,1369.1L811.6,1359L812,1389.4L812.3,1369.1L812.7,1379.3L813,1379.3L813.4,1369.1L813.8,1389.4L814.1,1379.3L814.5,1369.1L814.9,1379.3L815.2,1379.3L815.6,1379.3L815.9,1379.3L816.3,1369.1L816.7,1379.3L817,1369.1L817.4,1389.4L817.7,1369.1L818.1,1379.3L818.5,1399.6L818.8,1379.3L819.2,1389.4L819.5,1379.3L819.9,1369.1L820.3,1389.4L820.6,1389.4L821,1369.1L821.3,1379.3L821.7,1369.1L822.1,1379.3L822.4,1379.3L822.8,1379.3L823.2,1369.1L823.5,1369.1L823.9,1379.3L824.2,1379.3L824.6,1379.3L825,1379.3L825.3,1369.1L825.7,1379.3L826,1389.4L826.4,1379.3L826.8,1369.1L827.1,1369.1L827.5,1379.3L827.8,1379.3L828.2,1379.3L828.6,1389.4L828.9,1389.4L829.3,1369.1L829.6,1379.3L830,1379.3L830.4,1369.1L830.7,1369.1L831.1,1379.3L831.5,1369.1L831.8,1369.1L832.2,1379.3L832.5,1369.1L832.9,1379.3L833.3,1379.3L833.6,1379.3L834,1379.3L834.3,1389.4L834.7,1379.3L835.1,1379.3L835.4,1379.3L835.8,1389.4L836.1,1379.3L836.5,1379.3L836.9,1379.3L837.2,1389.4L837.6,1369.1L837.9,1389.4L838.3,1379.3L838.7,1369.1L839,1379.3L839.4,1379.3L839.7,1369.1L840.1,1379.3L840.5,1379.3L840.8,1379.3L841.2,1369.1L841.6,1389.4L841.9,1379.3L842.3,1389.4L842.6,1389.4L843,1379.3L843.4,1379.3L843.7,1379.3L844.1,1379.3L844.4,1379.3L844.8,1379.3L845.2,1379.3L845.5,1379.3L845.9,1369.1L846.2,1379.3L846.6,1379.3L847,1379.3L847.3,1379.3L847.7,1379.3L848,1369.1L848.4,1379.3L848.8,1379.3L849.1,1369.1L849.5,1379.3L849.9,1379.3L850.2,1389.4L850.6,1379.3L850.9,1379.3L851.3,1369.1L851.7,1379.3L852,1379.3L852.4,1379.3L852.7,1379.3L853.1,1369.1L853.5,1379.3L853.8,1369.1L854.2,1379.3L854.5,1369.1L854.9,1379.3L855.3,1379.3L855.6,1389.4L856,1379.3L856.3,1379.3L856.7,1379.3L857.1,1389.4L857.4,1369.1L857.8,1379.3L858.1,1379.3L858.5,1379.3L858.9,1379.3L859.2,1379.3L859.6,1389.4L860,1379.3L860.3,1379.3L860.7,1379.3L861,1379.3L861.4,1379.3L861.8,1379.3L862.1,1379.3L862.5,1369.1L862.8,1389.4L863.2,1369.1L863.6,1369.1L863.9,1379.3L864.3,1369.1L864.6,1389.4L865,1389.4L865.4,1389.4L865.7,1379.3L866.1,1379.3L866.4,1379.3L866.8,1379.3L867.2,1389.4L867.5,1379.3L867.9,1389.4L868.3,1379.3L868.6,1379.3L869,1389.4L869.3,1389.4L869.7,1389.4L870.1,1379.3L870.4,1379.3L870.8,1379.3L871.1,1389.4L871.5,1379.3L871.9,1379.3L872.2,1379.3L872.6,1389.4L872.9,1369.1L873.3,1379.3L873.7,1379.3L874,1379.3L874.4,1369.1L874.7,1379.3L875.1,1369.1L875.5,1379.3L875.8,1369.1L876.2,1369.1L876.6,1379.3L876.9,1369.1L877.3,1379.3L877.6,1379.3L878,1379.3L878.4,1379.3L878.7,1369.1L879.1,1389.4L879.4,1369.1L879.8,1379.3L880.2,1379.3L880.5,1389.4L880.9,1379.3L881.2,1369.1L881.6,1379.3L882,1379.3L882.3,1389.4L882.7,1369.1L883,1379.3L883.4,1369.1L883.8,1389.4L884.1,1369.1L884.5,1379.3L884.8,1369.1L885.2,1379.3L885.6,1379.3L885.9,1359L886.3,1379.3L886.7,1379.3L887,1379.3L887.4,1389.4L887.7,1369.1L888.1,1369.1L888.5,1379.3L888.8,1389.4L889.2,1369.1L889.5,1369.1L889.9,1369.1L890.3,1369.1L890.6,1379.3L891,1379.3L891.3,1389.4L891.7,1389.4L892.1,1369.1L892.4,1379.3L892.8,1359L893.1,1379.3L893.5,1379.3L893.9,1369.1L894.2,1369.1L894.6,1379.3L895,1389.4L895.3,1379.3L895.7,1369.1L896,1379.3L896.4,1379.3L896.8,1369.1L897.1,1379.3L897.5,1389.4L897.8,1379.3L898.2,1379.3L898.6,1379.3L898.9,1379.3L899.3,1369.1L899.6,1369.1L900,1389.4L900.4,1379.3L900.7,1369.1L901.1,1379.3L901.4,1369.1L901.8,1379.3L902.2,1379.3L902.5,1369.1L902.9,1389.4L903.2,1389.4L903.6,1369.1L904,1379.3L904.3,1379.3L904.7,1389.4L905.1,1389.4L905.4,1389.4L905.8,1379.3L906.1,1379.3L906.5,1389.4L906.9,1369.1L907.2,1389.4L907.6,1389.4L907.9,1369.1L908.3,1379.3L908.7,1389.4L909,1369.1L909.4,1379.3L909.7,1379.3L910.1,1379.3L910.5,1369.1L910.8,1379.3L911.2,1369.1L911.5,1379.3L911.9,1369.1L912.3,1379.3L912.6,1379.3L913,1369.1L913.4,1379.3L913.7,1379.3L914.1,1359L914.4,1379.3L914.8,1379.3L915.2,1369.1L915.5,1389.4L915.9,1369.1L916.2,1369.1L916.6,1379.3L917,1379.3L917.3,1379.3L917.7,1379.3L918,1389.4L918.4,1379.3L918.8,1389.4L919.1,1379.3L919.5,1379.3L919.8,1379.3L920.2,1379.3L920.6,1389.4L920.9,1379.3L921.3,1379.3L921.7,1379.3L922,1389.4L922.4,1389.4L922.7,1379.3L923.1,1389.4L923.5,1379.3L923.8,1369.1L924.2,1369.1L924.5,1369.1L924.9,1379.3L925.3,1389.4L925.6,1369.1L926,1379.3L926.3,1369.1L926.7,1379.3L927.1,1369.1L927.4,1369.1L927.8,1369.1L928.1,1379.3L928.5,1379.3L928.9,1379.3L929.2,1379.3L929.6,1369.1L929.9,1379.3L930.3,1369.1L930.7,1379.3L931,1369.1L931.4,1379.3L931.8,1379.3L932.1,1369.1L932.5,1379.3L932.8,1389.4L933.2,1379.3L933.6,1379.3L933.9,1369.1L934.3,1379.3L934.6,1369.1L935,1389.4L935.4,1379.3L935.7,1369.1L936.1,1369.1L936.4,1379.3L936.8,1379.3L937.2,1379.3L937.5,1389.4L937.9,1379.3L938.2,1379.3L938.6,1389.4L939,1379.3L939.3,1379.3L939.7,1379.3L940.1,1389.4L940.4,1369.1L940.8,1379.3L941.1,1369.1L941.5,1369.1L941.9,1379.3L942.2,1369.1L942.6,1379.3L942.9,1379.3L943.3,1379.3L943.7,1379.3L944,1369.1L944.4,1379.3L944.7,1379.3L945.1,1379.3L945.5,1379.3L945.8,1379.3L946.2,1379.3L946.5,1379.3L946.9,1379.3L947.3,1379.3L947.6,1379.3L948,1369.1L948.3,1369.1L948.7,1379.3L949.1,1379.3L949.4,1369.1L949.8,1379.3L950.2,1379.3L950.5,1379.3L950.9,1379.3L951.2,1369.1L951.6,1379.3L952,1369.1L952.3,1379.3L952.7,1369.1L953,1389.4L953.4,1369.1L953.8,1379.3L954.1,1379.3L954.5,1369.1L954.8,1369.1L955.2,1389.4L955.6,1379.3L955.9,1389.4L956.3,1379.3L956.6,1379.3L957,1379.3L957.4,1379.3L957.7,1379.3L958.1,1379.3L958.5,1379.3L958.8,1369.1L959.2,1389.4L959.5,1379.3L959.9,1379.3L960.3,1379.3L960.6,1379.3L961,1379.3L961.3,1389.4L961.7,1369.1L962.1,1379.3L962.4,1379.3L962.8,1379.3L963.1,1379.3L963.5,1389.4L963.9,1379.3L964.2,1379.3L964.6,1379.3L964.9,1369.1L965.3,1369.1L965.7,1389.4L966,1379.3L966.4,1369.1L966.8,1369.1L967.1,1379.3L967.5,1389.4L967.8,1379.3L968.2,1379.3L968.6,1389.4L968.9,1379.3L969.3,1389.4L969.6,1389.4L970,1369.1L970.4,1379.3L970.7,1379.3L971.1,1369.1L971.4,1369.1L971.8,1379.3L972.2,1379.3L972.5,1379.3L972.9,1369.1L973.2,1369.1L973.6,1389.4L974,1379.3L974.3,1369.1L974.7,1379.3L975,1369.1L975.4,1369.1L975.8,1379.3L976.1,1379.3L976.5,1389.4L976.9,1379.3L977.2,1379.3L977.6,1359L977.9,1379.3L978.3,1389.4L978.7,1379.3L979,1379.3L979.4,1389.4L979.7,1379.3L980.1,1379.3L980.5,1379.3L980.8,1379.3L981.2,1379.3L981.5,1369.1L981.9,1379.3L982.3,1379.3L982.6,1389.4L983,1379.3L983.3,1369.1L983.7,1389.4L984.1,1379.3L984.4,1369.1L984.8,1379.3L985.2,1379.3L985.5,1389.4L985.9,1369.1L986.2,1369.1L986.6,1379.3L987,1389.4L987.3,1389.4L987.7,1369.1L988,1369.1L988.4,1379.3L988.8,1369.1L989.1,1379.3L989.5,1379.3L989.8,1379.3L990.2,1379.3L990.6,1389.4L990.9,1369.1L991.3,1369.1L991.6,1389.4L992,1389.4L992.4,1379.3L992.7,1379.3L993.1,1389.4L993.4,1369.1L993.8,1379.3L994.2,1379.3L994.5,1369.1L994.9,1379.3L995.3,1379.3L995.6,1379.3L996,1389.4L996.3,1379.3L996.7,1379.3L997.1,1379.3L997.4,1379.3L997.8,1369.1L998.1,1369.1L998.5,1369.1L998.9,1379.3L999.2,1379.3L999.6,1369.1L999.9,1379.3L1000.3,1369.1L1000.7,1379.3L1001,1379.3L1001.4,1389.4L1001.7,1379.3L1002.1,1379.3L1002.5,1369.1L1002.8,1379.3L1003.2,1379.3L1003.6,1379.3L1003.9,1379.3L1004.3,1389.4L1004.6,1379.3L1005,1389.4L1005.4,1379.3L1005.7,1379.3L1006.1,1379.3L1006.4,1389.4L1006.8,1389.4L1007.2,1369.1L1007.5,1389.4L1007.9,1369.1L1008.2,1379.3L1008.6,1379.3L1009,1389.4L1009.3,1369.1L1009.7,1369.1L1010,1379.3L1010.4,1379.3L1010.8,1369.1L1011.1,1379.3L1011.5,1369.1L1011.9,1379.3L1012.2,1379.3L1012.6,1389.4L1012.9,1369.1L1013.3,1379.3L1013.7,1389.4L1014,1379.3L1014.4,1379.3L1014.7,1369.1L1015.1,1379.3L1015.5,1379.3L1015.8,1379.3L1016.2,1369.1L1016.5,1379.3L1016.9,1369.1L1017.3,1379.3L1017.6,1379.3L1018,1379.3L1018.3,1379.3L1018.7,1379.3L1019.1,1369.1L1019.4,1389.4L1019.8,1369.1L1020.1,1369.1L1020.5,1379.3L1020.9,1379.3L1021.2,1379.3L1021.6,1379.3L1022,1369.1L1022.3,1379.3L1022.7,1369.1L1023,1379.3L1023.4,1379.3L1023.8,1389.4L1024.1,1369.1L1024.5,1379.3L1024.8,1379.3L1025.2,1369.1L1025.6,1369.1L1025.9,1399.6L1026.3,1379.3L1026.6,1389.4L1027,1369.1L1027.4,1359L1027.7,1379.3L1028.1,1379.3L1028.4,1379.3L1028.8,1379.3L1029.2,1369.1L1029.5,1369.1L1029.9,1389.4L1030.3,1369.1L1030.6,1379.3L1031,1379.3L1031.3,1369.1L1031.7,1369.1L1032.1,1379.3L1032.4,1379.3L1032.8,1379.3L1033.1,1379.3L1033.5,1369.1L1033.9,1389.4L1034.2,1379.3L1034.6,1379.3L1034.9,1379.3L1035.3,1379.3L1035.7,1369.1L1036,1379.3L1036.4,1369.1L1036.7,1379.3L1037.1,1369.1L1037.5,1389.4L1037.8,1369.1L1038.2,1379.3L1038.5,1379.3L1038.9,1389.4L1039.3,1389.4L1039.6,1379.3L1040,1379.3L1040.4,1379.3L1040.7,1389.4L1041.1,1369.1L1041.4,1379.3L1041.8,1379.3L1042.2,1379.3L1042.5,1379.3L1042.9,1389.4L1043.2,1379.3L1043.6,1379.3L1044,1379.3L1044.3,1389.4L1044.7,1379.3L1045,1379.3L1045.4,1379.3L1045.8,1369.1L1046.1,1369.1L1046.5,1379.3L1046.8,1389.4L1047.2,1389.4L1047.6,1389.4L1047.9,1369.1L1048.3,1379.3L1048.7,1379.3L1049,1379.3L1049.4,1379.3L1049.7,1369.1L1050.1,1379.3L1050.5,1379.3L1050.8,1379.3L1051.2,1369.1L1051.5,1379.3L1051.9,1379.3L1052.3,1379.3L1052.6,1379.3L1053,1359L1053.3,1364L1053.7,1361.8L1054.1,1359.1L1054.4,1354.2L1054.8,1349.2L1055.1,1344.3L1055.5,1339.3L1055.9,1334.4L1056.2,1329.4L1056.6,1324.5L1057,1319.5L1057.3,1314.6L1057.7,1300.8L1058,1277.3L1058.4,1253.7L1058.8,1230.2L1059.1,1206.7L1059.5,1183.2L1059.8,1159.6L1060.2,1140.1L1060.6,1125.6L1060.9,1112.8L1061.3,1101.1L1061.6,1089.8L1062,1078.3L1062.4,1065.9L1062.7,1052.1L1063.1,1036L1063.4,1017.1L1063.8,995.7L1064.2,972.4L1064.5,948L1064.9,923L1065.2,898.2L1065.6,874.2L1066,851.8L1066.3,828.7L1066.7,802.9L1067.1,776.2L1067.4,750.7L1067.8,728.5L1068.1,711.4L1068.5,701.6L1068.9,700.9L1069.2,709.2L1069.6,724L1069.9,743L1070.3,763.7L1070.7,783.8L1071,800.9L1071.4,816.5L1071.7,832.7L1072.1,848.9L1072.5,864.4L1072.8,878.7L1073.2,891.1L1073.5,901.2L1073.9,909.8L1074.3,917.9L1074.6,925.4L1075,932.1L1075.4,938.2L1075.7,943.4L1076.1,947.7L1076.4,951.2L1076.8,954.4L1077.2,957.3L1077.5,960.1L1077.9,962.6L1078.2,964.9L1078.6,966.9L1079,968.6L1079.3,970.1L1079.7,971.3L1080,973.1L1080.4,962.9L1080.8,973.1L1081.1,973.1L1081.5,973.1L1081.8,973.1L1082.2,983.2L1082.6,983.2L1082.9,973.1L1083.3,973.1L1083.6,973.1L1084,983.2L1084.4,983.2L1084.7,983.2L1085.1,973.1L1085.5,983.2L1085.8,983.2L1086.2,973.1L1086.5,973.1L1086.9,983.2L1087.3,962.9L1087.6,962.9L1088,973.1L1088.3,962.9L1088.7,973.1L1089.1,952.8L1089.4,962.9L1089.8,973.1L1090.1,962.9L1090.5,973.1L1090.9,962.9L1091.2,952.8L1091.6,952.8L1091.9,962.9L1092.3,983.2L1092.7,952.8L1093,973.1L1093.4,952.8L1093.8,942.6L1094.1,952.8L1094.5,952.8L1094.8,952.8L1095.2,952.8L1095.6,952.8L1095.9,952.8L1096.3,952.8L1096.6,932.4L1097,942.6L1097.4,932.4L1097.7,942.6L1098.1,942.6L1098.4,942.6L1098.8,932.4L1099.2,932.4L1099.5,932.4L1099.9,942.6L1100.2,942.6L1100.6,922.3L1101,932.4L1101.3,932.4L1101.7,922.3L1102.1,922.3L1102.4,922.3L1102.8,932.4L1103.1,912.1L1103.5,922.3L1103.9,922.3L1104.2,932.4L1104.6,942.6L1104.9,942.6L1105.3,922.3L1105.7,922.3L1106,922.3L1106.4,932.4L1106.7,932.4L1107.1,922.3L1107.5,932.4L1107.8,912.1L1108.2,912.1L1108.5,891.8L1108.9,912.1L1109.3,922.3L1109.6,922.3L1110,942.6L1110.3,922.3L1110.7,912.1L1111.1,902L1111.4,902L1111.8,902L1112.2,912.1L1112.5,902L1112.9,891.8L1113.2,912.1L1113.6,912.1L1114,922.3L1114.3,891.8L1114.7,891.8L1115,902L1115.4,912.1L1115.8,902L1116.1,902L1116.5,902L1116.8,902L1117.2,891.8L1117.6,902L1117.9,891.8L1118.3,891.8L1118.6,902L1119,891.8L1119.4,902L1119.7,891.8L1120.1,891.8L1120.5,891.8L1120.8,891.8L1121.2,902L1121.5,881.7L1121.9,902L1122.3,881.7L1122.6,881.7L1123,902L1123.3,891.8L1123.7,891.8L1124.1,891.8L1124.4,891.8L1124.8,871.5L1125.1,881.7L1125.5,881.7L1125.9,881.7L1126.2,881.7L1126.6,881.7L1126.9,881.7L1127.3,871.5L1127.7,871.5L1128,881.7L1128.4,881.7L1128.7,871.5L1129.1,871.5L1129.5,871.5L1129.8,871.5L1130.2,861.4L1130.6,841L1130.9,871.5L1131.3,861.4L1131.6,861.4L1132,881.7L1132.4,861.4L1132.7,871.5L1133.1,851.2L1133.4,861.4L1133.8,861.4L1134.2,861.4L1134.5,851.2L1134.9,861.4L1135.2,851.2L1135.6,861.4L1136,851.2L1136.3,841L1136.7,830.9L1137,841L1137.4,841L1137.8,830.9L1138.1,841L1138.5,830.9L1138.9,830.9L1139.2,841L1139.6,841L1139.9,841L1140.3,841L1140.7,841L1141,841L1141.4,851.2L1141.7,841L1142.1,851.2L1142.5,830.9L1142.8,830.9L1143.2,841L1143.5,820.7L1143.9,820.7L1144.3,830.9L1144.6,810.6L1145,810.6L1145.3,841L1145.7,820.7L1146.1,820.7L1146.4,820.7L1146.8,810.6L1147.2,830.9L1147.5,830.9L1147.9,830.9L1148.2,830.9L1148.6,820.7L1149,830.9L1149.3,830.9L1149.7,810.6L1150,820.7L1150.4,810.6L1150.8,830.9L1151.1,820.7L1151.5,820.7L1151.8,810.6L1152.2,820.7L1152.6,800.4L1152.9,810.6L1153.3,810.6L1153.6,810.6L1154,800.4L1154.4,810.6L1154.7,800.4L1155.1,800.4L1155.4,800.4L1155.8,800.4L1156.2,800.4L1156.5,790.3L1156.9,790.3L1157.3,800.4L1157.6,790.3L1158,800.4L1158.3,790.3L1158.7,790.3L1159.1,810.6L1159.4,780.1L1159.8,790.3L1160.1,800.4L1160.5,790.3L1160.9,800.4L1161.2,770L1161.6,780.1L1161.9,800.4L1162.3,780.1L1162.7,790.3L1163,770L1163.4,790.3L1163.7,800.4L1164.1,780.1L1164.5,780.1L1164.8,780.1L1165.2,790.3L1165.6,770L1165.9,759.8L1166.3,790.3L1166.6,759.8L1167,770L1167.4,749.6L1167.7,759.8L1168.1,770L1168.4,749.6L1168.8,759.8L1169.2,770L1169.5,749.6L1169.9,759.8L1170.2,770L1170.6,739.5L1171,759.8L1171.3,759.8L1171.7,749.6L1172,770L1172.4,759.8L1172.8,749.6L1173.1,749.6L1173.5,749.6L1173.8,739.5L1174.2,749.6L1174.6,739.5L1174.9,739.5L1175.3,749.6L1175.7,739.5L1176,749.6L1176.4,729.3L1176.7,739.5L1177.1,739.5L1177.5,749.6L1177.8,739.5L1178.2,739.5L1178.5,729.3L1178.9,739.5L1179.3,739.5L1179.6,719.2L1180,729.3L1180.3,739.5L1180.7,719.2L1181.1,729.3L1181.4,729.3L1181.8,729.3L1182.1,729.3L1182.5,729.3L1182.9,729.3L1183.2,709L1183.6,709L1184,719.2L1184.3,709L1184.7,719.2L1185,719.2L1185.4,709L1185.8,719.2L1186.1,698.9L1186.5,709L1186.8,729.3L1187.2,698.9L1187.6,719.2L1187.9,709L1188.3,739.5L1188.6,698.9L1189,698.9L1189.4,698.9L1189.7,698.9L1190.1,688.7L1190.4,709L1190.8,698.9L1191.2,709L1191.5,709L1191.9,688.7L1192.3,698.9L1192.6,709L1193,698.9L1193.3,698.9L1193.7,698.9L1194.1,688.7L1194.4,698.9L1194.8,709L1195.1,698.9L1195.5,678.6L1195.9,709L1196.2,688.7L1196.6,688.7L1196.9,678.6L1197.3,698.9L1197.7,688.7L1198,688.7L1198.4,678.6L1198.7,688.7L1199.1,688.7L1199.5,668.4L1199.8,668.4L1200.2,678.6L1200.5,688.7L1200.9,678.6L1201.3,678.6L1201.6,668.4L1202,688.7L1202.4,668.4L1202.7,678.6L1203.1,678.6L1203.4,668.4L1203.8,668.4L1204.2,668.4L1204.5,668.4L1204.9,678.6L1205.2,668.4L1205.6,658.2L1206,658.2L1206.3,658.2L1206.7,678.6L1207,678.6L1207.4,658.2L1207.8,658.2L1208.1,637.9L1208.5,658.2L1208.8,668.4L1209.2,648.1L1209.6,658.2L1209.9,668.4L1210.3,627.8L1210.7,648.1L1211,648.1L1211.4,648.1L1211.7,637.9L1212.1,648.1L1212.5,637.9L1212.8,658.2L1213.2,658.2L1213.5,637.9L1213.9,627.8L1214.3,637.9L1214.6,637.9L1215,637.9L1215.3,648.1L1215.7,627.8L1216.1,637.9L1216.4,637.9L1216.8,637.9L1217.1,627.8L1217.5,627.8L1217.9,627.8L1218.2,648.1L1218.6,627.8L1218.9,617.6L1219.3,637.9L1219.7,627.8L1220,617.6L1220.4,617.6L1220.8,627.8L1221.1,637.9L1221.5,617.6L1221.8,637.9L1222.2,627.8L1222.6,617.6L1222.9,627.8L1223.3,617.6L1223.6,597.3L1224,617.6L1224.4,617.6L1224.7,627.8L1225.1,627.8L1225.4,627.8L1225.8,617.6L1226.2,627.8L1226.5,617.6L1226.9,617.6L1227.2,617.6L1227.6,627.8L1228,627.8L1228.3,607.5L1228.7,607.5L1229.1,597.3L1229.4,597.3L1229.8,607.5L1230.1,597.3L1230.5,617.6L1230.9,587.2L1231.2,597.3L1231.6,607.5L1231.9,607.5L1232.3,597.3L1232.7,617.6L1233,607.5L1233.4,597.3L1233.7,597.3L1234.1,597.3L1234.5,587.2L1234.8,607.5L1235.2,587.2L1235.5,597.3L1235.9,597.3L1236.3,587.2L1236.6,597.3L1237,577L1237.4,597.3L1237.7,566.8L1238.1,597.3L1238.4,577L1238.8,597.3L1239.2,597.3L1239.5,587.2L1239.9,577L1240.2,597.3L1240.6,566.8L1241,587.2L1241.3,577L1241.7,577L1242,577L1242.4,597.3L1242.8,566.8L1243.1,566.8L1243.5,577L1243.8,587.2L1244.2,587.2L1244.6,587.2L1244.9,566.8L1245.3,577L1245.6,577L1246,577L1246.4,556.7L1246.7,566.8L1247.1,566.8L1247.5,556.7L1247.8,556.7L1248.2,566.8L1248.5,566.8L1248.9,577L1249.3,566.8L1249.6,566.8L1250,556.7L1250.3,556.7L1250.7,546.5L1251.1,556.7L1251.4,546.5L1251.8,556.7L1252.1,566.8L1252.5,556.7L1252.9,556.7L1253.2,556.7L1253.6,546.5L1253.9,556.7L1254.3,556.7L1254.7,546.5L1255,536.4L1255.4,546.5L1255.8,536.4L1256.1,536.4L1256.5,546.5L1256.8,536.4L1257.2,516.1L1257.6,536.4L1257.9,516.1L1258.3,516.1L1258.6,516.1L1259,536.4L1259.4,505.9L1259.7,526.2L1260.1,526.2L1260.4,526.2L1260.8,516.1L1261.2,516.1L1261.5,516.1L1261.9,505.9L1262.2,526.2L1262.6,526.2L1263,505.9L1263.3,505.9L1263.7,505.9L1264,526.2L1264.4,505.9L1264.8,505.9L1265.1,495.8L1265.5,516.1L1265.9,505.9L1266.2,505.9L1266.6,516.1L1266.9,516.1L1267.3,495.8L1267.7,505.9L1268,505.9L1268.4,495.8L1268.7,495.8L1269.1,495.8L1269.5,505.9L1269.8,495.8L1270.2,485.6L1270.5,505.9L1270.9,505.9L1271.3,485.6L1271.6,485.6L1272,505.9L1272.3,516.1L1272.7,505.9L1273.1,505.9L1273.4,495.8L1273.8,485.6L1274.2,495.8L1274.5,495.8L1274.9,485.6L1275.2,495.8L1275.6,485.6L1276,495.8L1276.3,465.3L1276.7,475.4L1277,495.8L1277.4,495.8L1277.8,485.6L1278.1,495.8L1278.5,485.6L1278.8,485.6L1279.2,475.4L1279.6,485.6L1279.9,485.6L1280.3,495.8L1280.6,485.6L1281,475.4L1281.4,475.4L1281.7,465.3L1282.1,485.6L1282.5,465.3L1282.8,475.4L1283.2,475.4L1283.5,495.8L1283.9,485.6L1284.3,465.3L1284.6,455.1L1285,465.3L1285.3,465.3L1285.7,475.4L1286.1,475.4L1286.4,475.4L1286.8,465.3L1287.1,465.3L1287.5,465.3L1287.9,465.3L1288.2,465.3L1288.6,465.3L1288.9,475.4L1289.3,455.1L1289.7,465.3L1290,465.3L1290.4,455.1L1290.7,455.1L1291.1,465.3L1291.5,455.1L1291.8,475.4L1292.2,465.3L1292.6,475.4L1292.9,445L1293.3,475.4L1293.6,455.1L1294,465.3L1294.4,465.3L1294.7,455.1L1295.1,455.1L1295.4,455.1L1295.8,445L1296.2,455.1L1296.5,445L1296.9,465.3L1297.2,445L1297.6,455.1L1298,455.1L1298.3,455.1L1298.7,455.1L1299,455.1L1299.4,445L1299.8,455.1L1300.1,455.1L1300.5,445L1300.9,465.3L1301.2,455.1L1301.6,434.8L1301.9,475.4L1302.3,455.1L1302.7,445L1303,465.3L1303.4,424.7L1303.7,465.3L1304.1,434.8L1304.5,434.8L1304.8,434.8L1305.2,445L1305.5,445L1305.9,455.1L1306.3,434.8L1306.6,455.1L1307,445L1307.3,434.8L1307.7,455.1L1308.1,445L1308.4,434.8L1308.8,455.1L1309.1,434.8L1309.5,434.8L1309.9,455.1L1310.2,434.8L1310.6,445L1311,445L1311.3,434.8L1311.7,445L1312,424.7L1312.4,445L1312.8,424.7L1313.1,434.8L1313.5,424.7L1313.8,434.8L1314.2,434.8L1314.6,445L1314.9,424.7L1315.3,424.7L1315.6,414.5L1316,424.7L1316.4,424.7L1316.7,434.8L1317.1,424.7L1317.4,434.8L1317.8,414.5L1318.2,424.7L1318.5,434.8L1318.9,434.8L1319.3,414.5L1319.6,424.7L1320,424.7L1320.3,414.5L1320.7,424.7L1321.1,424.7L1321.4,424.7L1321.8,445L1322.1,414.5L1322.5,434.8L1322.9,424.7L1323.2,424.7L1323.6,414.5L1323.9,424.7L1324.3,424.7L1324.7,434.8L1325,424.7L1325.4,434.8L1325.7,414.5L1326.1,414.5L1326.5,424.7L1326.8,404.4L1327.2,414.5L1327.6,414.5L1327.9,414.5L1328.3,424.7L1328.6,414.5L1329,404.4L1329.4,424.7L1329.7,404.4L1330.1,414.5L1330.4,414.5L1330.8,414.5L1331.2,424.7L1331.5,424.7L1331.9,404.4L1332.2,414.5L1332.6,424.7L1333,414.5L1333.3,414.5L1333.7,424.7L1334,424.7L1334.4,424.7L1334.8,414.5L1335.1,414.5L1335.5,414.5L1335.8,414.5L1336.2,404.4L1336.6,424.7L1336.9,414.5L1337.3,414.5L1337.7,414.5L1338,414.5L1338.4,414.5L1338.7,414.5L1339.1,424.7L1339.5,414.5L1339.8,394.2L1340.2,414.5L1340.5,424.7L1340.9,404.4L1341.3,404.4L1341.6,404.4L1342,414.5L1342.3,404.4L1342.7,414.5L1343.1,414.5L1343.4,414.5L1343.8,404.4L1344.1,404.4L1344.5,404.4L1344.9,404.4L1345.2,404.4L1345.6,404.4L1346,404.4L1346.3,414.5L1346.7,414.5L1347,404.4L1347.4,414.5L1347.8,404.4L1348.1,404.4L1348.5,404.4L1348.8,404.4L1349.2,394.2L1349.6,424.7L1349.9,404.4L1350.3,394.2L1350.6,404.4L1351,404.4L1351.4,404.4L1351.7,394.2L1352.1,414.5L1352.4,404.4L1352.8,404.4L1353.2,404.4L1353.5,404.4L1353.9,404.4L1354.2,404.4L1354.6,404.4L1355,404.4L1355.3,404.4L1355.7,404.4L1356.1,404.4L1356.4,414.5L1356.8,394.2L1357.1,404.4L1357.5,414.5L1357.9,394.2L1358.2,404.4L1358.6,404.4L1358.9,404.4L1359.3,404.4L1359.7,404.4L1360,404.4L1360.4,404.4L1360.7,394.2L1361.1,414.5L1361.5,404.4L1361.8,404.4L1362.2,414.5L1362.5,414.5L1362.9,394.2L1363.3,404.4L1363.6,394.2L1364,404.4L1364.4,404.4L1364.7,404.4L1365.1,404.4L1365.4,394.2L1365.8,404.4L1366.2,404.4L1366.5,404.4L1366.9,394.2L1367.2,404.4L1367.6,414.5L1368,414.5L1368.3,404.4L1368.7,414.5L1369,414.5L1369.4,414.5L1369.8,414.5L1370.1,404.4L1370.5,404.4L1370.8,414.5L1371.2,394.2L1371.6,414.5L1371.9,394.2L1372.3,404.4L1372.7,404.4L1373,414.5L1373.4,434.8L1373.7,414.5L1374.1,414.5L1374.5,404.4L1374.8,424.7L1375.2,404.4L1375.5,414.5L1375.9,414.5L1376.3,434.8L1376.6,414.5L1377,414.5L1377.3,414.5L1377.7,414.5L1378.1,424.7L1378.4,414.5L1378.8,414.5L1379.1,414.5L1379.5,414.5L1379.9,414.5L1380.2,424.7L1380.6,434.8L1380.9,434.8L1381.3,414.5L1381.7,424.7L1382,424.7L1382.4,424.7L1382.8,424.7L1383.1,424.7L1383.5,434.8L1383.8,434.8L1384.2,414.5L1384.6,424.7L1384.9,434.8L1385.3,434.8L1385.6,434.8L1386,424.7L1386.4,424.7L1386.7,434.8L1387.1,434.8L1387.4,434.8L1387.8,445L1388.2,424.7L1388.5,434.8L1388.9,424.7L1389.2,445L1389.6,445L1390,434.8L1390.3,445L1390.7,455.1L1391.1,445L1391.4,445L1391.8,445L1392.1,445L1392.5,445L1392.9,445L1393.2,445L1393.6,445L1393.9,455.1L1394.3,445L1394.7,445L1395,445L1395.4,445L1395.7,455.1L1396.1,455.1L1396.5,455.1L1396.8,445L1397.2,445L1397.5,445L1397.9,455.1L1398.3,445L1398.6,445L1399,445L1399.3,455.1L1399.7,455.1L1400.1,455.1L1400.4,455.1L1400.8,445L1401.2,445L1401.5,455.1L1401.9,445L1402.2,455.1L1402.6,455.1L1403,455.1L1403.3,455.1L1403.7,455.1L1404,455.1L1404.4,445L1404.8,445L1405.1,455.1L1405.5,455.1L1405.8,465.3L1406.2,455.1L1406.6,455.1L1406.9,445L1407.3,455.1L1407.6,445L1408,445L1408.4,445L1408.7,455.1L1409.1,455.1L1409.5,455.1L1409.8,445L1410.2,455.1L1410.5,455.1L1410.9,434.8L1411.3,455.1L1411.6,455.1L1412,455.1L1412.3,465.3L1412.7,445L1413.1,455.1L1413.4,455.1L1413.8,445L1414.1,434.8L1414.5,465.3L1414.9,445L1415.2,455.1L1415.6,455.1L1415.9,455.1L1416.3,455.1L1416.7,445L1417,455.1L1417.4,455.1L1417.8,445L1418.1,455.1L1418.5,455.1L1418.8,455.1L1419.2,445L1419.6,455.1L1419.9,455.1L1420.3,465.3L1420.6,455.1L1421,465.3L1421.4,455.1L1421.7,455.1L1422.1,465.3L1422.4,455.1L1422.8,455.1L1423.2,455.1L1423.5,465.3L1423.9,445L1424.2,465.3L1424.6,465.3L1425,465.3L1425.3,455.1L1425.7,455.1L1426,455.1L1426.4,455.1L1426.8,465.3L1427.1,465.3L1427.5,465.3L1427.9,455.1L1428.2,465.3L1428.6,455.1L1428.9,455.1L1429.3,455.1L1429.7,455.1L1430,465.3L1430.4,465.3L1430.7,465.3L1431.1,455.1L1431.5,455.1L1431.8,465.3L1432.2,455.1L1432.5,465.3L1432.9,455.1L1433.3,455.1L1433.6,465.3L1434,455.1L1434.3,465.3L1434.7,465.3L1435.1,475.4L1435.4,455.1L1435.8,465.3L1436.2,465.3L1436.5,465.3L1436.9,455.1L1437.2,465.3L1437.6,465.3L1438,455.1L1438.3,455.1L1438.7,465.3L1439,475.4L1439.4,465.3L1439.8,455.1L1440.1,465.3L1440.5,455.1L1440.8,475.4L1441.2,455.1L1441.6,465.3L1441.9,455.1L1442.3,465.3L1442.6,455.1L1443,465.3L1443.4,475.4L1443.7,475.4L1444.1,465.3L1444.4,475.4L1444.8,455.1L1445.2,455.1L1445.5,465.3L1445.9,475.4L1446.3,465.3L1446.6,475.4L1447,455.1L1447.3,465.3L1447.7,465.3L1448.1,465.3L1448.4,475.4L1448.8,475.4L1449.1,475.4L1449.5,465.3L1449.9,465.3L1450.2,475.4L1450.6,475.4L1450.9,455.1L1451.3,475.4L1451.7,475.4L1452,465.3L1452.4,475.4L1452.7,475.4L1453.1,465.3L1453.5,455.1L1453.8,485.6L1454.2,465.3L1454.6,465.3L1454.9,465.3L1455.3,475.4L1455.6,475.4L1456,465.3L1456.4,475.4L1456.7,475.4L1457.1,475.4L1457.4,465.3L1457.8,475.4L1458.2,465.3L1458.5,475.4L1458.9,465.3L1459.2,475.4L1459.6,475.4L1460,475.4L1460.3,475.4L1460.7,475.4L1461,475.4L1461.4,475.4L1461.8,475.4L1462.1,465.3L1462.5,485.6L1462.9,465.3L1463.2,475.4L1463.6,475.4L1463.9,465.3L1464.3,475.4L1464.7,475.4L1465,455.1L1465.4,475.4L1465.7,475.4L1466.1,465.3L1466.5,475.4L1466.8,475.4L1467.2,475.4L1467.5,455.1L1467.9,475.4L1468.3,475.4L1468.6,465.3L1469,475.4L1469.3,485.6L1469.7,475.4L1470.1,475.4L1470.4,475.4L1470.8,465.3L1471.1,465.3L1471.5,475.4L1471.9,475.4L1472.2,485.6L1472.6,475.4L1473,475.4L1473.3,475.4L1473.7,475.4L1474,475.4L1474.4,465.3L1474.8,465.3L1475.1,475.4L1475.5,475.4L1475.8,475.4L1476.2,465.3L1476.6,475.4L1476.9,475.4L1477.3,475.4L1477.6,475.4L1478,485.6L1478.4,475.4L1478.7,475.4L1479.1,475.4L1479.4,475.4L1479.8,465.3L1480.2,475.4L1480.5,465.3L1480.9,485.6L1481.3,475.4L1481.6,475.4L1482,475.4L1482.3,475.4L1482.7,465.3L1483.1,485.6L1483.4,475.4L1483.8,485.6L1484.1,465.3L1484.5,485.6L1484.9,485.6L1485.2,485.6L1485.6,465.3L1485.9,485.6L1486.3,475.4L1486.7,475.4L1487,485.6L1487.4,475.4L1487.7,475.4L1488.1,475.4L1488.5,475.4L1488.8,475.4L1489.2,475.4L1489.5,475.4L1489.9,475.4L1490.3,465.3L1490.6,475.4L1491,475.4L1491.4,485.6L1491.7,485.6L1492.1,465.3L1492.4,485.6L1492.8,485.6L1493.2,475.4L1493.5,485.6L1493.9,465.3L1494.2,495.8L1494.6,475.4L1495,475.4L1495.3,485.6L1495.7,485.6L1496,475.4L1496.4,465.3L1496.8,485.6L1497.1,485.6L1497.5,475.4L1497.8,465.3L1498.2,485.6L1498.6,495.8L1498.9,465.3L1499.3,475.4L1499.7,475.4L1500,475.4L1500.4,485.6L1500.7,485.6L1501.1,465.3L1501.5,465.3L1501.8,495.8L1502.2,485.6L1502.5,465.3L1502.9,485.6L1503.3,485.6L1503.6,475.4L1504,475.4L1504.3,475.4L1504.7,485.6L1505.1,485.6L1505.4,485.6L1505.8,475.4L1506.1,485.6L1506.5,485.6L1506.9,485.6L1507.2,475.4L1507.6,475.4L1508,485.6L1508.3,475.4L1508.7,475.4L1509,475.4L1509.4,475.4L1509.8,465.3L1510.1,475.4L1510.5,485.6L1510.8,485.6L1511.2,475.4L1511.6,475.4L1511.9,485.6L1512.3,485.6L1512.6,495.8L1513,475.4L1513.4,475.4L1513.7,475.4L1514.1,485.6L1514.4,475.4L1514.8,485.6L1515.2,475.4L1515.5,475.4L1515.9,485.6L1516.2,485.6L1516.6,495.8L1517,485.6L1517.3,495.8L1517.7,475.4L1518.1,485.6L1518.4,475.4L1518.8,475.4L1519.1,485.6L1519.5,475.4L1519.9,485.6L1520.2,475.4L1520.6,485.6L1520.9,485.6L1521.3,485.6L1521.7,485.6L1522,485.6L1522.4,475.4L1522.7,475.4L1523.1,485.6L1523.5,485.6L1523.8,495.8L1524.2,485.6L1524.5,485.6L1524.9,495.8L1525.3,485.6L1525.6,475.4L1526,485.6L1526.4,485.6L1526.7,485.6L1527.1,475.4L1527.4,495.8L1527.8,485.6L1528.2,475.4L1528.5,485.6L1528.9,485.6L1529.2,485.6L1529.6,495.8L1530,485.6L1530.3,485.6L1530.7,495.8L1531,485.6L1531.4,475.4L1531.8,475.4L1532.1,495.8L1532.5,495.8L1532.8,495.8L1533.2,475.4L1533.6,485.6L1533.9,485.6L1534.3,495.8L1534.6,495.8L1535,485.6L1535.4,485.6L1535.7,495.8L1536.1,485.6L1536.5,485.6L1536.8,485.6L1537.2,495.8L1537.5,495.8L1537.9,485.6L1538.3,485.6L1538.6,485.6L1539,485.6L1539.3,495.8L1539.7,485.6L1540.1,485.6L1540.4,485.6L1540.8,495.8L1541.1,495.8L1541.5,485.6L1541.9,495.8L1542.2,495.8L1542.6,485.6L1542.9,485.6L1543.3,485.6L1543.7,475.4L1544,485.6L1544.4,495.8L1544.8,495.8L1545.1,495.8L1545.5,475.4L1545.8,485.6L1546.2,485.6L1546.6,485.6L1546.9,485.6L1547.3,495.8L1547.6,485.6L1548,485.6L1548.4,485.6L1548.7,485.6L1549.1,485.6L1549.4,495.8L1549.8,495.8L1550.2,495.8L1550.5,485.6L1550.9,505.9L1551.2,495.8L1551.6,475.4L1552,495.8L1552.3,495.8L1552.7,495.8L1553.1,485.6L1553.4,495.8L1553.8,485.6L1554.1,495.8L1554.5,495.8L1554.9,475.4L1555.2,495.8L1555.6,495.8L1555.9,495.8L1556.3,485.6L1556.7,485.6L1557,485.6L1557.4,495.8L1557.7,505.9L1558.1,485.6L1558.5,495.8L1558.8,495.8L1559.2,505.9L1559.5,495.8L1559.9,495.8L1560.3,495.8L1560.6,505.9L1561,495.8L1561.3,495.8L1561.7,505.9L1562.1,495.8L1562.4,495.8L1562.8,485.6L1563.2,505.9L1563.5,495.8L1563.9,505.9L1564.2,495.8L1564.6,485.6L1565,495.8L1565.3,495.8L1565.7,495.8L1566,485.6L1566.4,485.6L1566.8,485.6L1567.1,505.9L1567.5,505.9L1567.8,485.6L1568.2,495.8L1568.6,495.8L1568.9,495.8L1569.3,505.9L1569.6,495.8L1570,495.8L1570.4,495.8L1570.7,495.8L1571.1,495.8L1571.5,505.9L1571.8,485.6L1572.2,485.6L1572.5,495.8L1572.9,495.8L1573.3,495.8L1573.6,516.1L1574,495.8L1574.3,495.8L1574.7,495.8L1575.1,495.8L1575.4,505.9L1575.8,505.9L1576.1,495.8L1576.5,485.6L1576.9,505.9L1577.2,505.9L1577.6,485.6L1577.9,505.9L1578.3,485.6L1578.7,495.8L1579,505.9L1579.4,495.8L1579.7,485.6L1580.1,505.9L1580.5,485.6L1580.8,505.9L1581.2,485.6L1581.6,505.9L1581.9,505.9L1582.3,495.8L1582.6,495.8L1583,485.6L1583.4,485.6L1583.7,495.8L1584.1,505.9L1584.4,505.9L1584.8,505.9L1585.2,505.9L1585.5,505.9L1585.9,516.1L1586.2,495.8L1586.6,505.9L1587,485.6L1587.3,495.8L1587.7,505.9L1588,495.8L1588.4,505.9L1588.8,505.9L1589.1,516.1L1589.5,495.8L1589.9,495.8L1590.2,505.9L1590.6,505.9L1590.9,495.8L1591.3,495.8L1591.7,495.8L1592,505.9L1592.4,505.9L1592.7,505.9L1593.1,495.8L1593.5,505.9L1593.8,505.9L1594.2,495.8L1594.5,505.9L1594.9,495.8L1595.3,505.9L1595.6,495.8L1596,495.8L1596.3,495.8L1596.7,495.8L1597.1,505.9L1597.4,505.9L1597.8,495.8L1598.2,495.8L1598.5,495.8L1598.9,485.6L1599.2,505.9L1599.6,505.9L1600,495.8L1600.3,505.9L1600.7,505.9L1601,516.1L1601.4,495.8L1601.8,516.1L1602.1,505.9L1602.5,516.1L1602.8,495.8L1603.2,516.1L1603.6,495.8L1603.9,516.1L1604.3,505.9L1604.6,495.8L1605,516.1L1605.4,505.9L1605.7,505.9L1606.1,516.1L1606.4,505.9L1606.8,505.9L1607.2,516.1L1607.5,505.9L1607.9,516.1L1608.3,516.1L1608.6,505.9L1609,516.1L1609.3,495.8L1609.7,516.1L1610.1,505.9L1610.4,505.9L1610.8,516.1L1611.1,516.1L1611.5,505.9L1611.9,516.1L1612.2,505.9L1612.6,505.9L1612.9,505.9L1613.3,516.1L1613.7,526.2L1614,505.9L1614.4,516.1L1614.7,505.9L1615.1,505.9L1615.5,516.1L1615.8,495.8L1616.2,505.9L1616.6,505.9L1616.9,516.1L1617.3,516.1L1617.6,516.1L1618,516.1L1618.4,516.1L1618.7,505.9L1619.1,505.9L1619.4,505.9L1619.8,516.1L1620.2,505.9L1620.5,505.9L1620.9,526.2L1621.2,516.1L1621.6,516.1L1622,505.9L1622.3,516.1L1622.7,516.1L1623,516.1L1623.4,505.9L1623.8,516.1L1624.1,516.1L1624.5,516.1L1624.8,505.9L1625.2,516.1L1625.6,526.2L1625.9,505.9L1626.3,516.1L1626.7,505.9L1627,505.9L1627.4,505.9L1627.7,505.9L1628.1,516.1L1628.5,516.1L1628.8,526.2L1629.2,505.9L1629.5,516.1L1629.9,505.9L1630.3,516.1L1630.6,526.2L1631,505.9L1631.3,516.1L1631.7,516.1L1632.1,516.1L1632.4,516.1L1632.8,516.1L1633.1,526.2L1633.5,505.9L1633.9,516.1L1634.2,516.1L1634.6,505.9L1635,505.9L1635.3,516.1L1635.7,526.2L1636,516.1L1636.4,516.1L1636.8,516.1L1637.1,526.2L1637.5,526.2L1637.8,526.2L1638.2,516.1L1638.6,516.1L1638.9,516.1L1639.3,526.2L1639.6,516.1L1640,516.1L1640.4,526.2L1640.7,516.1L1641.1,505.9L1641.4,516.1L1641.8,516.1L1642.2,526.2L1642.5,516.1L1642.9,536.4L1643.3,516.1L1643.6,516.1L1644,505.9L1644.3,516.1L1644.7,516.1L1645.1,526.2L1645.4,526.2L1645.8,526.2L1646.1,516.1L1646.5,526.2L1646.9,516.1L1647.2,526.2L1647.6,536.4L1647.9,526.2L1648.3,536.4L1648.7,536.4L1649,516.1L1649.4,526.2L1649.7,526.2L1650.1,516.1L1650.5,516.1L1650.8,526.2L1651.2,516.1L1651.5,526.2L1651.9,526.2L1652.3,526.2L1652.6,536.4L1653,526.2L1653.4,526.2L1653.7,526.2L1654.1,526.2L1654.4,526.2L1654.8,516.1L1655.2,516.1L1655.5,526.2L1655.9,516.1L1656.2,526.2L1656.6,526.2L1657,526.2L1657.3,526.2L1657.7,536.4L1658,516.1L1658.4,526.2L1658.8,536.4L1659.1,526.2L1659.5,516.1L1659.8,526.2L1660.2,526.2L1660.6,536.4L1660.9,536.4L1661.3,536.4L1661.7,536.4L1662,516.1L1662.4,536.4L1662.7,526.2L1663.1,536.4L1663.5,536.4L1663.8,526.2L1664.2,526.2L1664.5,526.2L1664.9,546.5L1665.3,526.2L1665.6,536.4L1666,516.1L1666.3,536.4L1666.7,536.4L1667.1,546.5L1667.4,536.4L1667.8,546.5L1668.1,526.2L1668.5,536.4L1668.9,536.4L1669.2,536.4L1669.6,536.4L1669.9,526.2L1670.3,546.5L1670.7,546.5L1671,536.4L1671.4,546.5L1671.8,536.4L1672.1,536.4L1672.5,546.5L1672.8,536.4L1673.2,546.5L1673.6,526.2L1673.9,526.2L1674.3,546.5L1674.6,536.4L1675,546.5L1675.4,536.4L1675.7,536.4L1676.1,546.5L1676.4,536.4L1676.8,546.5L1677.2,546.5L1677.5,556.7L1677.9,526.2L1678.2,536.4L1678.6,536.4L1679,546.5L1679.3,536.4L1679.7,556.7L1680.1,546.5L1680.4,526.2L1680.8,546.5L1681.1,546.5L1681.5,536.4L1681.9,546.5L1682.2,546.5L1682.6,536.4L1682.9,546.5L1683.3,546.5L1683.7,546.5L1684,546.5L1684.4,546.5L1684.7,536.4L1685.1,536.4L1685.5,546.5L1685.8,556.7L1686.2,536.4L1686.5,536.4L1686.9,556.7L1687.3,556.7L1687.6,556.7L1688,536.4L1688.4,556.7L1688.7,546.5L1689.1,546.5L1689.4,536.4L1689.8,546.5L1690.2,546.5L1690.5,556.7L1690.9,536.4L1691.2,546.5L1691.6,546.5L1692,556.7L1692.3,556.7L1692.7,546.5L1693,556.7L1693.4,546.5L1693.8,546.5L1694.1,546.5L1694.5,546.5L1694.8,546.5L1695.2,556.7L1695.6,556.7L1695.9,536.4L1696.3,556.7L1696.6,556.7L1697,546.5L1697.4,556.7L1697.7,556.7L1698.1,556.7L1698.5,546.5L1698.8,546.5L1699.2,546.5L1699.5,556.7L1699.9,546.5L1700.3,556.7L1700.6,556.7L1701,556.7L1701.3,556.7L1701.7,546.5L1702.1,546.5L1702.4,556.7L1702.8,546.5L1703.1,556.7L1703.5,566.8L1703.9,556.7L1704.2,566.8L1704.6,556.7L1704.9,556.7L1705.3,556.7L1705.7,556.7L1706,556.7L1706.4,556.7L1706.8,566.8L1707.1,556.7L1707.5,566.8L1707.8,566.8L1708.2,556.7L1708.6,556.7L1708.9,566.8L1709.3,566.8L1709.6,566.8L1710,556.7L1710.4,556.7L1710.7,556.7L1711.1,556.7L1711.4,556.7L1711.8,566.8L1712.2,566.8L1712.5,566.8L1712.9,566.8L1713.2,566.8L1713.6,566.8L1714,566.8L1714.3,566.8L1714.7,556.7L1715,566.8L1715.4,566.8L1715.8,566.8L1716.1,566.8L1716.5,577L1716.9,566.8L1717.2,566.8L1717.6,566.8L1717.9,566.8L1718.3,556.7L1718.7,577L1719,566.8L1719.4,566.8L1719.7,577L1720.1,566.8L1720.5,556.7L1720.8,566.8L1721.2,566.8L1721.5,566.8L1721.9,566.8L1722.3,566.8L1722.6,577L1723,577L1723.3,577L1723.7,566.8L1724.1,577L1724.4,566.8L1724.8,587.2L1725.2,566.8L1725.5,556.7L1725.9,566.8L1726.2,577L1726.6,587.2L1727,577L1727.3,587.2L1727.7,577L1728,587.2L1728.4,577L1728.8,566.8L1729.1,597.3L1729.5,577L1729.8,587.2L1730.2,587.2L1730.6,587.2L1730.9,587.2L1731.3,577L1731.6,597.3L1732,577L1732.4,577L1732.7,577L1733.1,587.2L1733.5,587.2L1733.8,597.3L1734.2,587.2L1734.5,587.2L1734.9,587.2L1735.3,577L1735.6,587.2L1736,587.2L1736.3,577L1736.7,597.3L1737.1,597.3L1737.4,597.3L1737.8,597.3L1738.1,587.2L1738.5,597.3L1738.9,587.2L1739.2,587.2L1739.6,587.2L1739.9,597.3L1740.3,597.3L1740.7,587.2L1741,607.5L1741.4,597.3L1741.7,597.3L1742.1,597.3L1742.5,587.2L1742.8,597.3L1743.2,607.5L1743.6,597.3L1743.9,607.5L1744.3,597.3L1744.6,607.5L1745,597.3L1745.4,597.3L1745.7,597.3L1746.1,607.5L1746.4,617.6L1746.8,597.3L1747.2,607.5L1747.5,597.3L1747.9,607.5L1748.2,607.5L1748.6,597.3L1749,607.5L1749.3,607.5L1749.7,627.8L1750,607.5L1750.4,617.6L1750.8,617.6L1751.1,617.6L1751.5,617.6L1751.9,607.5L1752.2,627.8L1752.6,617.6L1752.9,627.8L1753.3,617.6L1753.7,627.8L1754,617.6L1754.4,627.8L1754.7,617.6L1755.1,617.6L1755.5,627.8L1755.8,627.8L1756.2,637.9L1756.5,627.8L1756.9,627.8L1757.3,637.9L1757.6,627.8L1758,648.1L1758.3,648.1L1758.7,637.9L1759.1,637.9L1759.4,637.9L1759.8,637.9L1760.1,637.9L1760.5,627.8L1760.9,637.9L1761.2,648.1L1761.6,648.1L1762,627.8L1762.3,658.2L1762.7,637.9L1763,627.8L1763.4,637.9L1763.8,648.1L1764.1,648.1L1764.5,637.9L1764.8,637.9L1765.2,658.2L1765.6,648.1L1765.9,648.1L1766.3,648.1L1766.6,648.1L1767,658.2L1767.4,668.4L1767.7,658.2L1768.1,648.1L1768.4,658.2L1768.8,658.2L1769.2,648.1L1769.5,678.6L1769.9,658.2L1770.3,678.6L1770.6,668.4L1771,668.4L1771.3,658.2L1771.7,678.6L1772.1,678.6L1772.4,688.7L1772.8,678.6L1773.1,688.7L1773.5,678.6L1773.9,688.7L1774.2,688.7L1774.6,678.6L1774.9,688.7L1775.3,688.7L1775.7,688.7L1776,698.9L1776.4,709L1776.7,688.7L1777.1,698.9L1777.5,688.7L1777.8,719.2L1778.2,719.2L1778.6,719.2L1778.9,709L1779.3,698.9L1779.6,709L1780,709L1780.4,709L1780.7,709L1781.1,719.2L1781.4,709L1781.8,719.2L1782.2,739.5L1782.5,719.2L1782.9,709L1783.2,729.3L1783.6,729.3L1784,729.3L1784.3,729.3L1784.7,719.2L1785,729.3L1785.4,739.5L1785.8,759.8L1786.1,739.5L1786.5,749.6L1786.8,749.6L1787.2,729.3L1787.6,739.5L1787.9,759.8L1788.3,739.5L1788.7,739.5L1789,749.6L1789.4,739.5L1789.7,759.8L1790.1,759.8L1790.5,759.8L1790.8,759.8L1791.2,749.6L1791.5,759.8L1791.9,759.8L1792.3,759.8L1792.6,759.8L1793,759.8L1793.3,749.6L1793.7,770L1794.1,770L1794.4,770L1794.8,759.8L1795.1,770L1795.5,759.8L1795.9,749.6L1796.2,770L1796.6,770L1797,759.8L1797.3,780.1L1797.7,780.1L1798,780.1L1798.4,770L1798.8,770L1799.1,780.1L1799.5,780.1L1799.8,770L1800.2,770L1800.6,790.3L1800.9,780.1L1801.3,780.1L1801.6,780.1L1802,790.3L1802.4,790.3L1802.7,790.3L1803.1,800.4L1803.4,790.3L1803.8,790.3L1804.2,790.3L1804.5,800.4L1804.9,790.3L1805.2,800.4L1805.6,800.4L1806,790.3L1806.3,800.4L1806.7,790.3L1807.1,800.4L1807.4,790.3L1807.8,810.6L1808.1,800.4L1808.5,800.4L1808.9,790.3L1809.2,800.4L1809.6,800.4L1809.9,790.3L1810.3,800.4L1810.7,790.3L1811,790.3L1811.4,800.4L1811.7,800.4L1812.1,800.4L1812.5,800.4L1812.8,800.4L1813.2,790.3L1813.5,800.4L1813.9,810.6L1814.3,810.6L1814.6,800.4L1815,800.4L1815.4,800.4L1815.7,810.6L1816.1,810.6L1816.4,800.4L1816.8,810.6L1817.2,810.6L1817.5,790.3L1817.9,800.4L1818.2,800.4L1818.6,810.6L1819,810.6L1819.3,800.4L1819.7,810.6L1820,810.6L1820.4,810.6L1820.8,810.6L1821.1,810.6L1821.5,810.6L1821.8,800.4L1822.2,810.6L1822.6,820.7L1822.9,820.7L1823.3,820.7L1823.7,820.7L1824,810.6L1824.4,810.6L1824.7,820.7L1825.1,810.6L1825.5,820.7L1825.8,820.7L1826.2,820.7L1826.5,820.7L1826.9,800.4L1827.3,820.7L1827.6,810.6L1828,810.6L1828.3,820.7L1828.7,820.7L1829.1,820.7L1829.4,820.7L1829.8,810.6L1830.1,820.7L1830.5,810.6L1830.9,810.6L1831.2,820.7L1831.6,820.7L1831.9,820.7L1832.3,820.7L1832.7,830.9L1833,820.7L1833.4,820.7L1833.8,830.9L1834.1,800.4L1834.5,830.9L1834.8,830.9L1835.2,820.7L1835.6,830.9L1835.9,830.9L1836.3,830.9L1836.6,830.9L1837,820.7L1837.4,820.7L1837.7,810.6L1838.1,820.7L1838.4,810.6L1838.8,820.7L1839.2,830.9L1839.5,820.7L1839.9,830.9L1840.2,830.9L1840.6,810.6L1841,820.7L1841.3,820.7L1841.7,820.7L1842.1,820.7L1842.4,841L1842.8,830.9L1843.1,830.9L1843.5,830.9L1843.9,830.9L1844.2,820.7L1844.6,820.7L1844.9,830.9L1845.3,830.9L1845.7,841L1846,830.9L1846.4,820.7L1846.7,830.9L1847.1,841L1847.5,830.9L1847.8,830.9L1848.2,830.9L1848.5,820.7L1848.9,841L1849.3,830.9L1849.6,841L1850,830.9L1850.3,830.9L1850.7,830.9L1851.1,841L1851.4,830.9L1851.8,841L1852.2,841L1852.5,830.9L1852.9,830.9L1853.2,851.2L1853.6,841L1854,830.9L1854.3,820.7L1854.7,830.9L1855,830.9L1855.4,851.2L1855.8,841L1856.1,830.9L1856.5,830.9L1856.8,830.9L1857.2,841L1857.6,820.7L1857.9,830.9L1858.3,841L1858.6,841L1859,820.7L1859.4,841L1859.7,830.9L1860.1,820.7L1860.5,851.2L1860.8,841L1861.2,841L1861.5,841L1861.9,841L1862.3,830.9L1862.6,841L1863,841L1863.3,830.9L1863.7,841L1864.1,841L1864.4,830.9L1864.8,851.2L1865.1,851.2L1865.5,841L1865.9,851.2L1866.2,861.4L1866.6,841L1866.9,851.2L1867.3,851.2L1867.7,851.2L1868,851.2L1868.4,851.2L1868.8,841L1869.1,830.9L1869.5,841L1869.8,841L1870.2,861.4L1870.6,851.2L1870.9,851.2L1871.3,841L1871.6,851.2L1872,851.2L1872.4,851.2L1872.7,851.2L1873.1,861.4L1873.4,841L1873.8,861.4L1874.2,861.4L1874.5,851.2L1874.9,851.2L1875.2,851.2L1875.6,841L1876,851.2L1876.3,851.2L1876.7,851.2L1877,841L1877.4,861.4L1877.8,851.2L1878.1,861.4L1878.5,861.4L1878.9,851.2L1879.2,851.2L1879.6,851.2L1879.9,841L1880.3,871.5L1880.7,851.2L1881,841L1881.4,851.2L1881.7,841L1882.1,851.2L1882.5,861.4L1882.8,861.4L1883.2,851.2L1883.5,851.2L1883.9,861.4L1884.3,861.4L1884.6,851.2L1885,871.5L1885.3,861.4L1885.7,841L1886.1,841L1886.4,861.4L1886.8,841L1887.2,861.4L1887.5,861.4L1887.9,871.5L1888.2,851.2L1888.6,861.4L1889,841L1889.3,851.2L1889.7,851.2L1890,871.5L1890.4,851.2L1890.8,861.4L1891.1,861.4L1891.5,871.5L1891.8,851.2L1892.2,851.2L1892.6,861.4L1892.9,861.4L1893.3,851.2L1893.6,851.2L1894,861.4L1894.4,841L1894.7,861.4L1895.1,861.4L1895.4,861.4L1895.8,881.7L1896.2,861.4L1896.5,851.2L1896.9,851.2L1897.3,861.4L1897.6,851.2L1898,871.5L1898.3,861.4L1898.7,851.2L1899.1,851.2L1899.4,861.4L1899.8,851.2L1900.1,841L1900.5,861.4L1900.9,851.2L1901.2,871.5L1901.6,871.5L1901.9,851.2L1902.3,861.4L1902.7,861.4L1903,861.4L1903.4,861.4L1903.7,851.2L1904.1,841L1904.5,861.4L1904.8,871.5L1905.2,851.2L1905.6,851.2L1905.9,851.2L1906.3,861.4L1906.6,841L1907,861.4L1907.4,851.2L1907.7,871.5L1908.1,861.4L1908.4,861.4L1908.8,861.4L1909.2,861.4L1909.5,861.4L1909.9,851.2L1910.2,871.5L1910.6,861.4L1911,861.4L1911.3,871.5L1911.7,851.2L1912,851.2L1912.4,861.4L1912.8,841L1913.1,861.4L1913.5,861.4L1913.9,861.4L1914.2,871.5L1914.6,861.4L1914.9,861.4L1915.3,861.4L1915.7,851.2L1916,881.7L1916.4,871.5L1916.7,871.5L1917.1,851.2L1917.5,861.4L1917.8,861.4L1918.2,871.5L1918.5,851.2L1918.9,861.4L1919.3,861.4L1919.6,871.5L1920,851.2L1920.3,861.4L1920.7,851.2L1921.1,851.2L1921.4,861.4L1921.8,861.4L1922.1,851.2L1922.5,861.4L1922.9,861.4L1923.2,861.4L1923.6,861.4L1924,851.2L1924.3,851.2L1924.7,861.4L1925,841L1925.4,871.5L1925.8,861.4L1926.1,851.2L1926.5,861.4L1926.8,871.5L1927.2,851.2L1927.6,851.2L1927.9,871.5L1928.3,851.2L1928.6,871.5L1929,871.5L1929.4,861.4L1929.7,861.4L1930.1,871.5L1930.4,861.4L1930.8,871.5L1931.2,861.4L1931.5,861.4L1931.9,851.2L1932.3,861.4L1932.6,871.5L1933,871.5L1933.3,861.4L1933.7,851.2L1934.1,851.2L1934.4,861.4L1934.8,851.2L1935.1,871.5L1935.5,851.2L1935.9,861.4L1936.2,851.2L1936.6,851.2L1936.9,861.4L1937.3,861.4L1937.7,871.5L1938,861.4L1938.4,851.2L1938.7,830.9L1939.1,851.2L1939.5,861.4L1939.8,871.5L1940.2,851.2L1940.5,871.5L1940.9,861.4L1941.3,861.4L1941.6,871.5L1942,851.2L1942.4,851.2L1942.7,861.4L1943.1,861.4L1943.4,871.5L1943.8,871.5L1944.2,861.4L1944.5,851.2L1944.9,861.4L1945.2,861.4L1945.6,861.4L1946,861.4L1946.3,871.5L1946.7,861.4L1947,851.2L1947.4,851.2L1947.8,861.4L1948.1,861.4L1948.5,851.2L1948.8,851.2L1949.2,871.5L1949.6,861.4L1949.9,861.4L1950.3,851.2L1950.7,861.4L1951,851.2L1951.4,861.4L1951.7,841L1952.1,861.4L1952.5,861.4L1952.8,861.4L1953.2,851.2L1953.5,851.2L1953.9,871.5L1954.3,861.4L1954.6,871.5L1955,861.4L1955.3,871.5L1955.7,871.5L1956.1,861.4L1956.4,871.5L1956.8,851.2L1957.1,851.2L1957.5,861.4L1957.9,871.5L1958.2,851.2L1958.6,871.5L1959,871.5L1959.3,851.2L1959.7,851.2L1960,851.2L1960.4,861.4L1960.8,871.5L1961.1,861.4L1961.5,851.2L1961.8,861.4L1962.2,861.4L1962.6,871.5L1962.9,871.5L1963.3,851.2L1963.6,851.2L1964,871.5L1964.4,871.5L1964.7,861.4L1965.1,851.2L1965.4,871.5L1965.8,861.4L1966.2,871.5L1966.5,871.5L1966.9,851.2L1967.2,851.2L1967.6,871.5L1968,861.4L1968.3,851.2L1968.7,861.4L1969.1,861.4L1969.4,851.2L1969.8,861.4L1970.1,851.2L1970.5,851.2L1970.9,861.4L1971.2,861.4L1971.6,861.4L1971.9,871.5L1972.3,861.4L1972.7,851.2L1973,871.5L1973.4,851.2L1973.7,861.4L1974.1,861.4L1974.5,851.2L1974.8,851.2L1975.2,851.2L1975.5,861.4L1975.9,861.4L1976.3,861.4L1976.6,841L1977,851.2L1977.4,861.4L1977.7,861.4L1978.1,861.4L1978.4,861.4L1978.8,861.4L1979.2,841L1979.5,871.5L1979.9,851.2L1980.2,851.2L1980.6,861.4L1981,861.4L1981.3,861.4L1981.7,861.4L1982,851.2L1982.4,871.5L1982.8,851.2L1983.1,861.4L1983.5,851.2L1983.8,851.2L1984.2,851.2L1984.6,851.2L1984.9,851.2L1985.3,861.4L1985.6,861.4L1986,851.2L1986.4,851.2L1986.7,841L1987.1,871.5L1987.5,861.4L1987.8,851.2L1988.2,871.5L1988.5,861.4L1988.9,841L1989.3,851.2L1989.6,861.4L1990,851.2L1990.3,851.2L1990.7,851.2L1991.1,851.2L1991.4,851.2L1991.8,861.4L1992.1,861.4L1992.5,851.2L1992.9,861.4L1993.2,841L1993.6,861.4L1993.9,871.5L1994.3,861.4L1994.7,851.2L1995,851.2L1995.4,861.4L1995.8,861.4L1996.1,851.2L1996.5,861.4L1996.8,851.2L1997.2,861.4L1997.6,861.4L1997.9,851.2L1998.3,871.5L1998.6,861.4L1999,851.2L1999.4,861.4L1999.7,851.2L2000.1,861.4L2000.4,861.4L2000.8,841L2001.2,861.4L2001.5,861.4L2001.9,861.4L2002.2,861.4L2002.6,851.2L2003,851.2L2003.3,861.4L2003.7,861.4L2004.1,851.2L2004.4,871.5L2004.8,861.4L2005.1,861.4L2005.5,861.4L2005.9,851.2L2006.2,861.4L2006.6,861.4L2006.9,841L2007.3,851.2L2007.7,851.2L2008,851.2L2008.4,851.2L2008.7,851.2L2009.1,851.2L2009.5,841L2009.8,861.4L2010.2,851.2L2010.5,851.2L2010.9,881.7L2011.3,861.4L2011.6,851.2L2012,851.2L2012.3,861.4L2012.7,851.2L2013.1,841L2013.4,861.4L2013.8,841L2014.2,841L2014.5,851.2L2014.9,861.4L2015.2,841L2015.6,851.2L2016,861.4L2016.3,851.2L2016.7,861.4L2017,841L2017.4,851.2L2017.8,841L2018.1,851.2L2018.5,861.4L2018.8,851.2L2019.2,851.2L2019.6,861.4L2019.9,830.9L2020.3,851.2L2020.6,861.4L2021,841L2021.4,851.2L2021.7,851.2L2022.1,851.2L2022.5,851.2L2022.8,851.2L2023.2,851.2L2023.5,851.2L2023.9,851.2L2024.3,851.2L2024.6,851.2L2025,871.5L2025.3,861.4L2025.7,861.4L2026.1,851.2L2026.4,851.2L2026.8,841L2027.1,851.2L2027.5,851.2L2027.9,851.2L2028.2,841L2028.6,861.4L2028.9,851.2L2029.3,841L2029.7,851.2L2030,871.5L2030.4,851.2L2030.7,851.2L2031.1,851.2L2031.5,841L2031.8,851.2L2032.2,851.2L2032.6,841L2032.9,851.2L2033.3,851.2L2033.6,851.2L2034,851.2L2034.4,851.2L2034.7,851.2L2035.1,851.2L2035.4,861.4L2035.8,861.4L2036.2,841L2036.5,851.2L2036.9,851.2L2037.2,851.2L2037.6,851.2L2038,851.2L2038.3,851.2L2038.7,861.4L2039,841L2039.4,861.4L2039.8,841L2040.1,861.4L2040.5,861.4L2040.9,841L2041.2,851.2L2041.6,861.4L2041.9,851.2L2042.3,861.4L2042.7,851.2L2043,871.5L2043.4,851.2L2043.7,861.4L2044.1,851.2L2044.5,841L2044.8,861.4L2045.2,841L2045.5,851.2L2045.9,871.5L2046.3,871.5L2046.6,841L2047,851.2L2047.3,851.2L2047.7,861.4L2048.1,861.4L2048.4,841L2048.8,851.2L2049.2,841"/>
<path stroke="#d95319" stroke-width="3.8" shape-rendering="crispEdges" d="M257,1388.2L557.7,1388.2L1069,392L1072,390.3L1075,388.7L1078,387.2L1081,385.9L1084,384.6L1087,383.5L1090,382.5L1093,381.6L1096,380.7L1099,379.9L1102,379.2L1105,378.6L1108,378.2L1111,377.9L1114,377.8L1117,377.7L1120,377.6L1123,377.5L1126,377.5L1129,377.7L1132,377.9L1135,378.4L1138,378.9L1141,379.5L1144,380.1L1147,380.8L1150,381.6L1153,382.5L1156,383.7L1159,385.1L1162,386.5L1165,388.1L1168,389.6L1171,391.4L1174,393.2L1177,395.2L1180,397.3L1183,399.6L1186,402L1189,404.4L1192,407L1195,409.7L1198,412.6L1201,415.5L1204,418.7L1207,422.2L1210,426L1213,429.9L1216,434.1L1219,438.3L1222,442.6L1225,447.1L1228,451.9L1231,456.8L1234,461.9L1237,467.2L1240,472.5L1243,477.9L1246,483.4L1249,488.8L1252,494.3L1255,500L1258,505.7L1261,511.5L1264,517.4L1267,523.4L1270,529.4L1273,535.4L1276,541.6L1279,547.7L1282,554L1285,560.3L1288,566.6L1291,573L1294,579.4L1297,585.9L1300,592.5L1303,599.2L1306,605.9L1309,612.7L1312,619.5L1315,626.3L1318,633.1L1321,639.8L1324,646.4L1327,653L1330,659.6L1333,666.1L1336,672.7L1339,679.3L1342,686L1345,692.7L1348,699.5L1351,706.2L1354,713L1357,719.8L1360,726.7L1363,733.5L1366,740.3L1369,747.2L1372,754L1375,760.8L1378,767.7L1381,774.5L1384,781.2L1387,788L1390,794.9L1393,801.7L1396,808.5L1399,815.3L1402,822.1L1405,828.8L1408,835.6L1411,842.3L1414,849.1L1417,855.8L1420,862.5L1423,869.1L1426,875.8L1429,882.5L1432,889.1L1435,895.8L1438,902.4L1441,909L1444,915.6L1447,922.2L1450,928.7L1453,935.3L1456,941.8L1459,948.3L1462,954.8L1465,961.3L1468,967.8L1471,974.2L1474,980.7L1477,987.1L1480,993.5L1483,999.9L1486,1006.3L1489,1012.7L1492,1019L1495,1025.4L1498,1031.7L1501,1038.1L1504,1044.4L1507,1050.7L1510,1057L1513,1063.3L1516,1069.6L1519,1075.8L1522,1082.1L1525,1088.4L1528,1094.6L1531,1100.9L1534,1107.2L1537,1113.4L1540,1119.6L1543,1125.8L1546,1132L1549,1138.2L1552,1144.3L1555,1150.4L1558,1156.4L1561,1162.4L1564,1168.4L1567,1174.3L1570,1180.2L1573,1186L1576,1191.7L1579,1197.5L1582,1203.2L1585,1208.8L1588,1214.5L1591,1220.2L1594,1225.8L1597,1231.5L1600,1237.2L1603,1242.9L1606,1248.6L1609,1254.3L1612,1260L1615,1265.7L1618,1271.4L1621,1277.1L1624,1282.8L1627,1288.5L1630,1294.2L1633,1299.9L1636,1305.6L1639,1311.3L1642,1317.1L1645,1322.8L1648,1328.5L1651,1334.3L1654,1340L1657,1345.7L1660,1351.3L1663,1357L1666,1362.6L1669,1368.2L1672,1373.8L1675,1379.5L1678,1385.1L1681,1390.7L1684,1396.3L1687,1401.8L1690,1407.3L1693,1412.6L1696,1417.9L1699,1423L1702,1428L1705,1432.8L1708,1437.7L1711,1442.4L1714,1447.1L1717,1451.6L1720,1456L1723,1460.2L1726,1464.2L1729,1468L1732,1471.5L1735,1474.9L1738,1478.1L1741,1481.3L1744,1484.3L1747,1487.4L1750,1490.4L1753,1493.4L1756,1496.3L1759,1499.1"/>
<path stroke="#ff00ff" stroke-width="3.5" shape-rendering="crispEdges" d="M258.5,1427.5L258.9,1452.9L259.2,1414.8L259.6,1427.5L259.9,1427.5L260.3,1402.1L260.7,1427.5L261,1414.8L261.4,1427.5L261.7,1440.2L262.1,1414.8L262.5,1427.5L262.8,1414.8L263.2,1414.8L263.6,1427.5L263.9,1414.8L264.3,1414.8L264.6,1427.5L265,1414.8L265.4,1427.5L265.7,1414.8L266.1,1440.2L266.4,1427.5L266.8,1414.8L267.2,1440.2L267.5,1427.5L267.9,1427.5L268.2,1414.8L268.6,1440.2L269,1414.8L269.3,1402.1L269.7,1427.5L270,1440.2L270.4,1427.5L270.8,1414.8L271.1,1427.5L271.5,1414.8L271.8,1414.8L272.2,1414.8L272.6,1427.5L272.9,1427.5L273.3,1427.5L273.7,1427.5L274,1414.8L274.4,1414.8L274.7,1427.5L275.1,1427.5L275.5,1414.8L275.8,1440.2L276.2,1440.2L276.5,1440.2L276.9,1427.5L277.3,1427.5L277.6,1427.5L278,1440.2L278.3,1414.8L278.7,1427.5L279.1,1440.2L279.4,1427.5L279.8,1440.2L280.1,1402.1L280.5,1427.5L280.9,1427.5L281.2,1427.5L281.6,1427.5L282,1427.5L282.3,1402.1L282.7,1427.5L283,1414.8L283.4,1414.8L283.8,1440.2L284.1,1402.1L284.5,1414.8L284.8,1414.8L285.2,1440.2L285.6,1414.8L285.9,1414.8L286.3,1427.5L286.6,1402.1L287,1414.8L287.4,1427.5L287.7,1427.5L288.1,1414.8L288.4,1414.8L288.8,1414.8L289.2,1414.8L289.5,1402.1L289.9,1440.2L290.3,1427.5L290.6,1440.2L291,1427.5L291.3,1402.1L291.7,1414.8L292.1,1440.2L292.4,1427.5L292.8,1414.8L293.1,1427.5L293.5,1427.5L293.9,1427.5L294.2,1452.9L294.6,1414.8L294.9,1427.5L295.3,1414.8L295.7,1440.2L296,1440.2L296.4,1427.5L296.7,1427.5L297.1,1427.5L297.5,1427.5L297.8,1402.1L298.2,1414.8L298.5,1440.2L298.9,1427.5L299.3,1402.1L299.6,1427.5L300,1414.8L300.4,1402.1L300.7,1427.5L301.1,1427.5L301.4,1427.5L301.8,1440.2L302.2,1440.2L302.5,1427.5L302.9,1414.8L303.2,1427.5L303.6,1427.5L304,1427.5L304.3,1440.2L304.7,1402.1L305,1452.9L305.4,1427.5L305.8,1414.8L306.1,1440.2L306.5,1414.8L306.8,1414.8L307.2,1440.2L307.6,1427.5L307.9,1440.2L308.3,1414.8L308.7,1427.5L309,1427.5L309.4,1414.8L309.7,1414.8L310.1,1414.8L310.5,1414.8L310.8,1440.2L311.2,1427.5L311.5,1414.8L311.9,1440.2L312.3,1414.8L312.6,1427.5L313,1414.8L313.3,1440.2L313.7,1427.5L314.1,1427.5L314.4,1427.5L314.8,1427.5L315.1,1452.9L315.5,1414.8L315.9,1440.2L316.2,1452.9L316.6,1440.2L316.9,1440.2L317.3,1414.8L317.7,1440.2L318,1427.5L318.4,1440.2L318.8,1402.1L319.1,1414.8L319.5,1402.1L319.8,1440.2L320.2,1414.8L320.6,1440.2L320.9,1414.8L321.3,1414.8L321.6,1440.2L322,1440.2L322.4,1440.2L322.7,1440.2L323.1,1440.2L323.4,1440.2L323.8,1440.2L324.2,1427.5L324.5,1414.8L324.9,1440.2L325.2,1427.5L325.6,1427.5L326,1427.5L326.3,1427.5L326.7,1414.8L327.1,1414.8L327.4,1414.8L327.8,1427.5L328.1,1402.1L328.5,1402.1L328.9,1427.5L329.2,1427.5L329.6,1414.8L329.9,1440.2L330.3,1414.8L330.7,1427.5L331,1440.2L331.4,1427.5L331.7,1440.2L332.1,1427.5L332.5,1452.9L332.8,1402.1L333.2,1402.1L333.5,1414.8L333.9,1427.5L334.3,1414.8L334.6,1414.8L335,1414.8L335.4,1414.8L335.7,1440.2L336.1,1414.8L336.4,1427.5L336.8,1440.2L337.2,1440.2L337.5,1414.8L337.9,1414.8L338.2,1440.2L338.6,1402.1L339,1402.1L339.3,1427.5L339.7,1427.5L340,1427.5L340.4,1414.8L340.8,1427.5L341.1,1440.2L341.5,1427.5L341.8,1452.9L342.2,1427.5L342.6,1414.8L342.9,1427.5L343.3,1414.8L343.6,1414.8L344,1414.8L344.4,1427.5L344.7,1440.2L345.1,1427.5L345.5,1427.5L345.8,1414.8L346.2,1402.1L346.5,1414.8L346.9,1440.2L347.3,1440.2L347.6,1427.5L348,1414.8L348.3,1427.5L348.7,1427.5L349.1,1440.2L349.4,1414.8L349.8,1427.5L350.1,1427.5L350.5,1427.5L350.9,1402.1L351.2,1427.5L351.6,1402.1L351.9,1414.8L352.3,1427.5L352.7,1414.8L353,1427.5L353.4,1440.2L353.8,1427.5L354.1,1440.2L354.5,1414.8L354.8,1427.5L355.2,1414.8L355.6,1414.8L355.9,1465.6L356.3,1427.5L356.6,1452.9L357,1427.5L357.4,1440.2L357.7,1427.5L358.1,1414.8L358.4,1440.2L358.8,1427.5L359.2,1427.5L359.5,1452.9L359.9,1414.8L360.2,1427.5L360.6,1427.5L361,1440.2L361.3,1389.4L361.7,1427.5L362,1452.9L362.4,1440.2L362.8,1427.5L363.1,1427.5L363.5,1427.5L363.9,1440.2L364.2,1414.8L364.6,1427.5L364.9,1440.2L365.3,1440.2L365.7,1427.5L366,1414.8L366.4,1414.8L366.7,1427.5L367.1,1427.5L367.5,1427.5L367.8,1402.1L368.2,1427.5L368.5,1414.8L368.9,1414.8L369.3,1440.2L369.6,1427.5L370,1427.5L370.3,1427.5L370.7,1414.8L371.1,1414.8L371.4,1414.8L371.8,1427.5L372.2,1427.5L372.5,1402.1L372.9,1440.2L373.2,1427.5L373.6,1414.8L374,1427.5L374.3,1414.8L374.7,1427.5L375,1414.8L375.4,1414.8L375.8,1427.5L376.1,1427.5L376.5,1427.5L376.8,1427.5L377.2,1427.5L377.6,1440.2L377.9,1414.8L378.3,1402.1L378.6,1402.1L379,1414.8L379.4,1440.2L379.7,1402.1L380.1,1440.2L380.5,1427.5L380.8,1402.1L381.2,1440.2L381.5,1414.8L381.9,1427.5L382.3,1427.5L382.6,1440.2L383,1414.8L383.3,1427.5L383.7,1414.8L384.1,1414.8L384.4,1440.2L384.8,1427.5L385.1,1427.5L385.5,1440.2L385.9,1440.2L386.2,1427.5L386.6,1427.5L386.9,1440.2L387.3,1427.5L387.7,1414.8L388,1440.2L388.4,1440.2L388.7,1402.1L389.1,1414.8L389.5,1440.2L389.8,1440.2L390.2,1427.5L390.6,1440.2L390.9,1427.5L391.3,1427.5L391.6,1414.8L392,1452.9L392.4,1452.9L392.7,1440.2L393.1,1414.8L393.4,1427.5L393.8,1440.2L394.2,1414.8L394.5,1414.8L394.9,1427.5L395.2,1427.5L395.6,1414.8L396,1414.8L396.3,1427.5L396.7,1414.8L397,1427.5L397.4,1427.5L397.8,1440.2L398.1,1427.5L398.5,1427.5L398.9,1427.5L399.2,1414.8L399.6,1414.8L399.9,1414.8L400.3,1440.2L400.7,1414.8L401,1427.5L401.4,1440.2L401.7,1440.2L402.1,1414.8L402.5,1414.8L402.8,1440.2L403.2,1440.2L403.5,1427.5L403.9,1427.5L404.3,1402.1L404.6,1440.2L405,1452.9L405.3,1427.5L405.7,1427.5L406.1,1427.5L406.4,1414.8L406.8,1402.1L407.1,1427.5L407.5,1427.5L407.9,1440.2L408.2,1427.5L408.6,1414.8L409,1427.5L409.3,1414.8L409.7,1427.5L410,1402.1L410.4,1427.5L410.8,1440.2L411.1,1427.5L411.5,1440.2L411.8,1440.2L412.2,1427.5L412.6,1414.8L412.9,1402.1L413.3,1427.5L413.6,1427.5L414,1440.2L414.4,1414.8L414.7,1414.8L415.1,1427.5L415.4,1414.8L415.8,1414.8L416.2,1452.9L416.5,1414.8L416.9,1427.5L417.3,1427.5L417.6,1427.5L418,1402.1L418.3,1402.1L418.7,1402.1L419.1,1440.2L419.4,1427.5L419.8,1414.8L420.1,1440.2L420.5,1440.2L420.9,1452.9L421.2,1402.1L421.6,1414.8L421.9,1414.8L422.3,1427.5L422.7,1427.5L423,1427.5L423.4,1414.8L423.7,1440.2L424.1,1414.8L424.5,1427.5L424.8,1440.2L425.2,1414.8L425.6,1427.5L425.9,1414.8L426.3,1427.5L426.6,1452.9L427,1414.8L427.4,1440.2L427.7,1414.8L428.1,1440.2L428.4,1452.9L428.8,1427.5L429.2,1414.8L429.5,1427.5L429.9,1440.2L430.2,1414.8L430.6,1440.2L431,1427.5L431.3,1440.2L431.7,1427.5L432,1414.8L432.4,1427.5L432.8,1414.8L433.1,1414.8L433.5,1440.2L433.8,1440.2L434.2,1427.5L434.6,1427.5L434.9,1427.5L435.3,1452.9L435.7,1414.8L436,1414.8L436.4,1427.5L436.7,1440.2L437.1,1427.5L437.5,1427.5L437.8,1414.8L438.2,1427.5L438.5,1414.8L438.9,1427.5L439.3,1414.8L439.6,1452.9L440,1440.2L440.3,1414.8L440.7,1440.2L441.1,1414.8L441.4,1440.2L441.8,1427.5L442.1,1440.2L442.5,1427.5L442.9,1427.5L443.2,1427.5L443.6,1427.5L444,1402.1L444.3,1427.5L444.7,1440.2L445,1414.8L445.4,1414.8L445.8,1414.8L446.1,1402.1L446.5,1440.2L446.8,1414.8L447.2,1414.8L447.6,1427.5L447.9,1427.5L448.3,1465.6L448.6,1427.5L449,1402.1L449.4,1452.9L449.7,1427.5L450.1,1427.5L450.4,1414.8L450.8,1402.1L451.2,1440.2L451.5,1427.5L451.9,1414.8L452.2,1440.2L452.6,1427.5L453,1402.1L453.3,1414.8L453.7,1414.8L454.1,1452.9L454.4,1427.5L454.8,1414.8L455.1,1427.5L455.5,1427.5L455.9,1389.4L456.2,1427.5L456.6,1440.2L456.9,1427.5L457.3,1427.5L457.7,1427.5L458,1427.5L458.4,1414.8L458.7,1427.5L459.1,1440.2L459.5,1427.5L459.8,1414.8L460.2,1427.5L460.5,1414.8L460.9,1414.8L461.3,1440.2L461.6,1427.5L462,1402.1L462.4,1402.1L462.7,1427.5L463.1,1414.8L463.4,1427.5L463.8,1440.2L464.2,1414.8L464.5,1427.5L464.9,1414.8L465.2,1427.5L465.6,1427.5L466,1427.5L466.3,1414.8L466.7,1414.8L467,1427.5L467.4,1414.8L467.8,1452.9L468.1,1440.2L468.5,1414.8L468.8,1402.1L469.2,1427.5L469.6,1427.5L469.9,1440.2L470.3,1427.5L470.7,1414.8L471,1440.2L471.4,1414.8L471.7,1414.8L472.1,1414.8L472.5,1440.2L472.8,1414.8L473.2,1440.2L473.5,1402.1L473.9,1427.5L474.3,1440.2L474.6,1414.8L475,1414.8L475.3,1427.5L475.7,1402.1L476.1,1440.2L476.4,1427.5L476.8,1414.8L477.1,1452.9L477.5,1414.8L477.9,1427.5L478.2,1427.5L478.6,1440.2L478.9,1427.5L479.3,1440.2L479.7,1440.2L480,1427.5L480.4,1440.2L480.8,1402.1L481.1,1440.2L481.5,1440.2L481.8,1427.5L482.2,1427.5L482.6,1414.8L482.9,1414.8L483.3,1427.5L483.6,1427.5L484,1427.5L484.4,1414.8L484.7,1414.8L485.1,1427.5L485.4,1452.9L485.8,1402.1L486.2,1414.8L486.5,1427.5L486.9,1427.5L487.2,1427.5L487.6,1440.2L488,1427.5L488.3,1427.5L488.7,1427.5L489.1,1440.2L489.4,1427.5L489.8,1414.8L490.1,1427.5L490.5,1427.5L490.9,1452.9L491.2,1427.5L491.6,1427.5L491.9,1440.2L492.3,1440.2L492.7,1414.8L493,1440.2L493.4,1414.8L493.7,1427.5L494.1,1414.8L494.5,1427.5L494.8,1440.2L495.2,1427.5L495.5,1427.5L495.9,1414.8L496.3,1427.5L496.6,1427.5L497,1414.8L497.3,1414.8L497.7,1414.8L498.1,1414.8L498.4,1414.8L498.8,1414.8L499.2,1414.8L499.5,1414.8L499.9,1427.5L500.2,1427.5L500.6,1402.1L501,1427.5L501.3,1427.5L501.7,1427.5L502,1427.5L502.4,1427.5L502.8,1440.2L503.1,1452.9L503.5,1427.5L503.8,1440.2L504.2,1427.5L504.6,1427.5L504.9,1414.8L505.3,1402.1L505.6,1427.5L506,1427.5L506.4,1440.2L506.7,1440.2L507.1,1427.5L507.5,1452.9L507.8,1427.5L508.2,1427.5L508.5,1414.8L508.9,1427.5L509.3,1427.5L509.6,1440.2L510,1427.5L510.3,1452.9L510.7,1427.5L511.1,1402.1L511.4,1427.5L511.8,1427.5L512.1,1440.2L512.5,1414.8L512.9,1440.2L513.2,1414.8L513.6,1427.5L513.9,1440.2L514.3,1414.8L514.7,1427.5L515,1427.5L515.4,1414.8L515.8,1427.5L516.1,1427.5L516.5,1414.8L516.8,1427.5L517.2,1427.5L517.6,1427.5L517.9,1440.2L518.3,1427.5L518.6,1427.5L519,1427.5L519.4,1414.8L519.7,1440.2L520.1,1427.5L520.4,1452.9L520.8,1440.2L521.2,1427.5L521.5,1452.9L521.9,1452.9L522.2,1427.5L522.6,1427.5L523,1427.5L523.3,1440.2L523.7,1402.1L524,1427.5L524.4,1440.2L524.8,1402.1L525.1,1414.8L525.5,1427.5L525.9,1414.8L526.2,1427.5L526.6,1414.8L526.9,1427.5L527.3,1440.2L527.7,1414.8L528,1427.5L528.4,1440.2L528.7,1440.2L529.1,1414.8L529.5,1427.5L529.8,1427.5L530.2,1414.8L530.5,1427.5L530.9,1440.2L531.3,1414.8L531.6,1414.8L532,1414.8L532.3,1402.1L532.7,1427.5L533.1,1414.8L533.4,1402.1L533.8,1427.5L534.2,1402.1L534.5,1402.1L534.9,1414.8L535.2,1402.1L535.6,1414.8L536,1440.2L536.3,1414.8L536.7,1427.5L537,1414.8L537.4,1427.5L537.8,1414.8L538.1,1414.8L538.5,1440.2L538.8,1414.8L539.2,1414.8L539.6,1440.2L539.9,1427.5L540.3,1427.5L540.6,1427.5L541,1427.5L541.4,1414.8L541.7,1402.1L542.1,1414.8L542.4,1414.8L542.8,1414.8L543.2,1414.8L543.5,1427.5L543.9,1414.8L544.3,1427.5L544.6,1427.5L545,1427.5L545.3,1427.5L545.7,1427.5L546.1,1440.2L546.4,1414.8L546.8,1427.5L547.1,1427.5L547.5,1427.5L547.9,1414.8L548.2,1427.5L548.6,1427.5L548.9,1440.2L549.3,1452.9L549.7,1452.9L550,1402.1L550.4,1452.9L550.7,1414.8L551.1,1402.1L551.5,1427.5L551.8,1402.1L552.2,1402.1L552.6,1414.8L552.9,1402.1L553.3,1414.8L553.6,1440.2L554,1414.8L554.4,1427.5L554.7,1440.2L555.1,1440.2L555.4,1402.1L555.8,1427.5L556.2,1427.5L556.5,1427.5L556.9,1427.5L557.2,1427.5L557.6,1427.5L558,1440.2L558.3,1440.2L558.7,1440.2L559,1427.5L559.4,1402.1L559.8,1414.8L560.1,1402.1L560.5,1414.8L560.9,1427.5L561.2,1440.2L561.6,1427.5L561.9,1452.9L562.3,1427.5L562.7,1414.8L563,1414.8L563.4,1414.8L563.7,1427.5L564.1,1427.5L564.5,1427.5L564.8,1414.8L565.2,1402.1L565.5,1402.1L565.9,1414.8L566.3,1414.8L566.6,1414.8L567,1414.8L567.3,1414.8L567.7,1402.1L568.1,1402.1L568.4,1402.1L568.8,1414.8L569.1,1402.1L569.5,1414.8L569.9,1389.4L570.2,1402.1L570.6,1402.1L571,1402.1L571.3,1402.1L571.7,1402.1L572,1402.1L572.4,1376.8L572.8,1389.4L573.1,1389.4L573.5,1364.1L573.8,1389.4L574.2,1376.8L574.6,1376.8L574.9,1376.8L575.3,1376.8L575.6,1376.8L576,1376.8L576.4,1376.8L576.7,1364.1L577.1,1389.4L577.4,1376.8L577.8,1376.8L578.2,1376.8L578.5,1389.4L578.9,1364.1L579.3,1376.8L579.6,1364.1L580,1364.1L580.3,1376.8L580.7,1364.1L581.1,1376.8L581.4,1364.1L581.8,1364.1L582.1,1364.1L582.5,1364.1L582.9,1364.1L583.2,1338.7L583.6,1351.4L583.9,1364.1L584.3,1364.1L584.7,1364.1L585,1351.4L585.4,1351.4L585.7,1351.4L586.1,1338.7L586.5,1351.4L586.8,1351.4L587.2,1351.4L587.5,1351.4L587.9,1338.7L588.3,1338.7L588.6,1338.7L589,1364.1L589.4,1338.7L589.7,1338.7L590.1,1326L590.4,1338.7L590.8,1351.4L591.2,1338.7L591.5,1338.7L591.9,1351.4L592.2,1338.7L592.6,1326L593,1326L593.3,1326L593.7,1338.7L594,1313.3L594.4,1338.7L594.8,1326L595.1,1338.7L595.5,1313.3L595.8,1326L596.2,1326L596.6,1326L596.9,1326L597.3,1326L597.7,1338.7L598,1313.3L598.4,1313.3L598.7,1326L599.1,1326L599.5,1313.3L599.8,1313.3L600.2,1313.3L600.5,1313.3L600.9,1326L601.3,1326L601.6,1326L602,1313.3L602.3,1313.3L602.7,1313.3L603.1,1313.3L603.4,1313.3L603.8,1313.3L604.1,1300.6L604.5,1313.3L604.9,1313.3L605.2,1300.6L605.6,1326L606,1300.6L606.3,1313.3L606.7,1300.6L607,1300.6L607.4,1300.6L607.8,1300.6L608.1,1313.3L608.5,1300.6L608.8,1300.6L609.2,1300.6L609.6,1300.6L609.9,1287.9L610.3,1287.9L610.6,1300.6L611,1313.3L611.4,1300.6L611.7,1300.6L612.1,1287.9L612.4,1287.9L612.8,1300.6L613.2,1287.9L613.5,1300.6L613.9,1287.9L614.2,1287.9L614.6,1300.6L615,1287.9L615.3,1287.9L615.7,1287.9L616.1,1300.6L616.4,1287.9L616.8,1275.2L617.1,1287.9L617.5,1300.6L617.9,1287.9L618.2,1300.6L618.6,1300.6L618.9,1287.9L619.3,1287.9L619.7,1287.9L620,1287.9L620.4,1275.2L620.7,1287.9L621.1,1287.9L621.5,1287.9L621.8,1275.2L622.2,1275.2L622.5,1275.2L622.9,1275.2L623.3,1300.6L623.6,1287.9L624,1275.2L624.4,1275.2L624.7,1287.9L625.1,1262.5L625.4,1275.2L625.8,1275.2L626.2,1275.2L626.5,1275.2L626.9,1275.2L627.2,1262.5L627.6,1275.2L628,1275.2L628.3,1275.2L628.7,1262.5L629,1275.2L629.4,1249.8L629.8,1275.2L630.1,1249.8L630.5,1249.8L630.8,1275.2L631.2,1262.5L631.6,1249.8L631.9,1262.5L632.3,1262.5L632.6,1262.5L633,1237.1L633.4,1275.2L633.7,1249.8L634.1,1249.8L634.5,1249.8L634.8,1262.5L635.2,1249.8L635.5,1249.8L635.9,1249.8L636.3,1262.5L636.6,1237.1L637,1262.5L637.3,1249.8L637.7,1249.8L638.1,1237.1L638.4,1249.8L638.8,1237.1L639.1,1249.8L639.5,1237.1L639.9,1237.1L640.2,1224.4L640.6,1249.8L640.9,1237.1L641.3,1237.1L641.7,1237.1L642,1249.8L642.4,1237.1L642.8,1249.8L643.1,1249.8L643.5,1237.1L643.8,1249.8L644.2,1224.4L644.6,1237.1L644.9,1237.1L645.3,1237.1L645.6,1224.4L646,1237.1L646.4,1237.1L646.7,1237.1L647.1,1224.4L647.4,1224.4L647.8,1224.4L648.2,1224.4L648.5,1224.4L648.9,1237.1L649.2,1224.4L649.6,1224.4L650,1224.4L650.3,1211.7L650.7,1211.7L651.1,1224.4L651.4,1211.7L651.8,1224.4L652.1,1237.1L652.5,1224.4L652.9,1224.4L653.2,1211.7L653.6,1224.4L653.9,1224.4L654.3,1224.4L654.7,1211.7L655,1211.7L655.4,1211.7L655.7,1211.7L656.1,1211.7L656.5,1211.7L656.8,1211.7L657.2,1211.7L657.5,1199L657.9,1224.4L658.3,1211.7L658.6,1199L659,1199L659.3,1211.7L659.7,1199L660.1,1199L660.4,1211.7L660.8,1224.4L661.2,1211.7L661.5,1211.7L661.9,1199L662.2,1211.7L662.6,1186.3L663,1199L663.3,1199L663.7,1199L664,1211.7L664.4,1199L664.8,1186.3L665.1,1199L665.5,1186.3L665.8,1199L666.2,1186.3L666.6,1173.6L666.9,1199L667.3,1186.3L667.6,1186.3L668,1199L668.4,1199L668.7,1199L669.1,1173.6L669.5,1186.3L669.8,1186.3L670.2,1173.6L670.5,1186.3L670.9,1186.3L671.3,1186.3L671.6,1173.6L672,1186.3L672.3,1173.6L672.7,1186.3L673.1,1186.3L673.4,1173.6L673.8,1173.6L674.1,1199L674.5,1173.6L674.9,1186.3L675.2,1186.3L675.6,1173.6L675.9,1186.3L676.3,1173.6L676.7,1173.6L677,1160.9L677.4,1173.6L677.7,1173.6L678.1,1173.6L678.5,1173.6L678.8,1160.9L679.2,1173.6L679.6,1160.9L679.9,1160.9L680.3,1160.9L680.6,1160.9L681,1160.9L681.4,1160.9L681.7,1160.9L682.1,1160.9L682.4,1160.9L682.8,1173.6L683.2,1160.9L683.5,1160.9L683.9,1173.6L684.2,1160.9L684.6,1148.2L685,1160.9L685.3,1160.9L685.7,1135.6L686,1148.2L686.4,1160.9L686.8,1135.6L687.1,1135.6L687.5,1160.9L687.9,1122.9L688.2,1160.9L688.6,1148.2L688.9,1160.9L689.3,1148.2L689.7,1160.9L690,1148.2L690.4,1135.6L690.7,1148.2L691.1,1148.2L691.5,1135.6L691.8,1148.2L692.2,1135.6L692.5,1148.2L692.9,1135.6L693.3,1135.6L693.6,1135.6L694,1135.6L694.3,1148.2L694.7,1135.6L695.1,1135.6L695.4,1135.6L695.8,1148.2L696.2,1135.6L696.5,1135.6L696.9,1135.6L697.2,1135.6L697.6,1135.6L698,1135.6L698.3,1122.9L698.7,1135.6L699,1148.2L699.4,1122.9L699.8,1135.6L700.1,1135.6L700.5,1135.6L700.8,1122.9L701.2,1135.6L701.6,1122.9L701.9,1122.9L702.3,1135.6L702.6,1135.6L703,1110.2L703.4,1110.2L703.7,1110.2L704.1,1097.5L704.4,1110.2L704.8,1110.2L705.2,1110.2L705.5,1110.2L705.9,1110.2L706.3,1122.9L706.6,1097.5L707,1122.9L707.3,1110.2L707.7,1110.2L708.1,1110.2L708.4,1110.2L708.8,1110.2L709.1,1110.2L709.5,1110.2L709.9,1110.2L710.2,1110.2L710.6,1110.2L710.9,1097.5L711.3,1110.2L711.7,1097.5L712,1110.2L712.4,1097.5L712.7,1097.5L713.1,1097.5L713.5,1110.2L713.8,1097.5L714.2,1097.5L714.6,1097.5L714.9,1084.8L715.3,1084.8L715.6,1097.5L716,1097.5L716.4,1110.2L716.7,1110.2L717.1,1097.5L717.4,1097.5L717.8,1097.5L718.2,1097.5L718.5,1084.8L718.9,1097.5L719.2,1097.5L719.6,1059.4L720,1084.8L720.3,1084.8L720.7,1072.1L721,1084.8L721.4,1072.1L721.8,1097.5L722.1,1084.8L722.5,1084.8L722.8,1084.8L723.2,1059.4L723.6,1084.8L723.9,1084.8L724.3,1072.1L724.7,1072.1L725,1059.4L725.4,1072.1L725.7,1059.4L726.1,1072.1L726.5,1072.1L726.8,1059.4L727.2,1072.1L727.5,1072.1L727.9,1072.1L728.3,1072.1L728.6,1072.1L729,1072.1L729.3,1072.1L729.7,1059.4L730.1,1072.1L730.4,1046.7L730.8,1046.7L731.1,1046.7L731.5,1059.4L731.9,1059.4L732.2,1046.7L732.6,1059.4L733,1046.7L733.3,1059.4L733.7,1046.7L734,1059.4L734.4,1046.7L734.8,1072.1L735.1,1059.4L735.5,1046.7L735.8,1059.4L736.2,1059.4L736.6,1046.7L736.9,1046.7L737.3,1034L737.6,1072.1L738,1046.7L738.4,1046.7L738.7,1059.4L739.1,1059.4L739.4,1034L739.8,1046.7L740.2,1046.7L740.5,1034L740.9,1046.7L741.3,1034L741.6,1046.7L742,1034L742.3,1034L742.7,1034L743.1,1059.4L743.4,1034L743.8,1034L744.1,1046.7L744.5,1021.3L744.9,1046.7L745.2,1021.3L745.6,1034L745.9,1021.3L746.3,1034L746.7,1034L747,1021.3L747.4,1021.3L747.7,1021.3L748.1,1021.3L748.5,1034L748.8,1021.3L749.2,1021.3L749.5,1021.3L749.9,1034L750.3,1034L750.6,1008.6L751,1008.6L751.4,1021.3L751.7,1034L752.1,1008.6L752.4,1034L752.8,1008.6L753.2,1021.3L753.5,1034L753.9,1008.6L754.2,1008.6L754.6,995.9L755,995.9L755.3,1008.6L755.7,995.9L756,995.9L756.4,1008.6L756.8,1008.6L757.1,995.9L757.5,1008.6L757.8,1008.6L758.2,1008.6L758.6,1008.6L758.9,1008.6L759.3,995.9L759.7,995.9L760,1008.6L760.4,1008.6L760.7,995.9L761.1,1008.6L761.5,1008.6L761.8,983.2L762.2,983.2L762.5,995.9L762.9,1008.6L763.3,983.2L763.6,1008.6L764,995.9L764.3,983.2L764.7,983.2L765.1,995.9L765.4,1008.6L765.8,983.2L766.1,983.2L766.5,995.9L766.9,983.2L767.2,995.9L767.6,995.9L767.9,983.2L768.3,983.2L768.7,995.9L769,995.9L769.4,983.2L769.8,983.2L770.1,970.5L770.5,983.2L770.8,970.5L771.2,983.2L771.6,983.2L771.9,995.9L772.3,983.2L772.6,970.5L773,945.1L773.4,983.2L773.7,983.2L774.1,970.5L774.4,970.5L774.8,970.5L775.2,970.5L775.5,983.2L775.9,970.5L776.2,957.8L776.6,957.8L777,970.5L777.3,970.5L777.7,957.8L778.1,957.8L778.4,957.8L778.8,970.5L779.1,957.8L779.5,957.8L779.9,970.5L780.2,970.5L780.6,957.8L780.9,957.8L781.3,945.1L781.7,957.8L782,957.8L782.4,957.8L782.7,957.8L783.1,957.8L783.5,957.8L783.8,957.8L784.2,945.1L784.5,957.8L784.9,945.1L785.3,957.8L785.6,932.4L786,945.1L786.4,945.1L786.7,945.1L787.1,945.1L787.4,945.1L787.8,932.4L788.2,932.4L788.5,932.4L788.9,932.4L789.2,932.4L789.6,945.1L790,945.1L790.3,932.4L790.7,932.4L791,932.4L791.4,932.4L791.8,945.1L792.1,945.1L792.5,932.4L792.8,919.8L793.2,932.4L793.6,932.4L793.9,919.8L794.3,932.4L794.6,932.4L795,932.4L795.4,919.8L795.7,919.8L796.1,932.4L796.5,945.1L796.8,932.4L797.2,919.8L797.5,932.4L797.9,932.4L798.3,919.8L798.6,932.4L799,919.8L799.3,919.8L799.7,919.8L800.1,919.8L800.4,919.8L800.8,919.8L801.1,919.8L801.5,919.8L801.9,907.1L802.2,919.8L802.6,919.8L802.9,907.1L803.3,907.1L803.7,894.4L804,919.8L804.4,907.1L804.8,907.1L805.1,907.1L805.5,907.1L805.8,894.4L806.2,894.4L806.6,919.8L806.9,894.4L807.3,907.1L807.6,907.1L808,894.4L808.4,894.4L808.7,907.1L809.1,907.1L809.4,894.4L809.8,907.1L810.2,894.4L810.5,894.4L810.9,894.4L811.2,894.4L811.6,881.7L812,894.4L812.3,894.4L812.7,881.7L813,894.4L813.4,894.4L813.8,907.1L814.1,881.7L814.5,881.7L814.9,881.7L815.2,881.7L815.6,894.4L815.9,894.4L816.3,894.4L816.7,881.7L817,881.7L817.4,869L817.7,894.4L818.1,881.7L818.5,894.4L818.8,869L819.2,894.4L819.5,869L819.9,869L820.3,881.7L820.6,869L821,894.4L821.3,881.7L821.7,881.7L822.1,869L822.4,869L822.8,881.7L823.2,869L823.5,869L823.9,869L824.2,869L824.6,881.7L825,869L825.3,856.3L825.7,869L826,856.3L826.4,869L826.8,856.3L827.1,856.3L827.5,869L827.8,881.7L828.2,869L828.6,856.3L828.9,856.3L829.3,856.3L829.6,856.3L830,869L830.4,856.3L830.7,856.3L831.1,856.3L831.5,856.3L831.8,856.3L832.2,856.3L832.5,843.6L832.9,856.3L833.3,869L833.6,856.3L834,856.3L834.3,856.3L834.7,843.6L835.1,856.3L835.4,843.6L835.8,843.6L836.1,843.6L836.5,856.3L836.9,843.6L837.2,830.9L837.6,843.6L837.9,843.6L838.3,843.6L838.7,830.9L839,843.6L839.4,830.9L839.7,843.6L840.1,843.6L840.5,843.6L840.8,830.9L841.2,856.3L841.6,830.9L841.9,843.6L842.3,818.2L842.6,818.2L843,818.2L843.4,818.2L843.7,830.9L844.1,818.2L844.4,830.9L844.8,818.2L845.2,830.9L845.5,830.9L845.9,818.2L846.2,805.5L846.6,818.2L847,805.5L847.3,805.5L847.7,830.9L848,818.2L848.4,830.9L848.8,818.2L849.1,818.2L849.5,818.2L849.9,805.5L850.2,805.5L850.6,818.2L850.9,818.2L851.3,818.2L851.7,818.2L852,805.5L852.4,818.2L852.7,805.5L853.1,818.2L853.5,805.5L853.8,792.8L854.2,805.5L854.5,818.2L854.9,792.8L855.3,805.5L855.6,830.9L856,805.5L856.3,805.5L856.7,805.5L857.1,792.8L857.4,792.8L857.8,805.5L858.1,818.2L858.5,805.5L858.9,792.8L859.2,792.8L859.6,805.5L860,805.5L860.3,792.8L860.7,805.5L861,805.5L861.4,792.8L861.8,792.8L862.1,792.8L862.5,805.5L862.8,792.8L863.2,805.5L863.6,780.1L863.9,792.8L864.3,780.1L864.6,780.1L865,792.8L865.4,780.1L865.7,780.1L866.1,780.1L866.4,767.4L866.8,792.8L867.2,780.1L867.5,780.1L867.9,792.8L868.3,780.1L868.6,780.1L869,780.1L869.3,780.1L869.7,767.4L870.1,780.1L870.4,780.1L870.8,792.8L871.1,767.4L871.5,767.4L871.9,767.4L872.2,767.4L872.6,780.1L872.9,780.1L873.3,767.4L873.7,780.1L874,780.1L874.4,754.7L874.7,780.1L875.1,754.7L875.5,780.1L875.8,754.7L876.2,767.4L876.6,767.4L876.9,767.4L877.3,767.4L877.6,767.4L878,767.4L878.4,754.7L878.7,742L879.1,767.4L879.4,754.7L879.8,754.7L880.2,754.7L880.5,742L880.9,767.4L881.2,754.7L881.6,767.4L882,754.7L882.3,754.7L882.7,716.6L883,742L883.4,729.3L883.8,742L884.1,754.7L884.5,742L884.8,729.3L885.2,742L885.6,742L885.9,742L886.3,754.7L886.7,754.7L887,742L887.4,742L887.7,742L888.1,742L888.5,742L888.8,742L889.2,729.3L889.5,729.3L889.9,729.3L890.3,742L890.6,742L891,729.3L891.3,742L891.7,729.3L892.1,742L892.4,742L892.8,729.3L893.1,729.3L893.5,729.3L893.9,729.3L894.2,729.3L894.6,703.9L895,742L895.3,729.3L895.7,729.3L896,716.6L896.4,729.3L896.8,742L897.1,703.9L897.5,729.3L897.8,716.6L898.2,729.3L898.6,729.3L898.9,716.6L899.3,703.9L899.6,703.9L900,716.6L900.4,703.9L900.7,716.6L901.1,716.6L901.4,716.6L901.8,703.9L902.2,716.6L902.5,716.6L902.9,703.9L903.2,703.9L903.6,716.6L904,691.2L904.3,703.9L904.7,703.9L905.1,703.9L905.4,691.2L905.8,716.6L906.1,691.2L906.5,703.9L906.9,716.6L907.2,703.9L907.6,678.6L907.9,691.2L908.3,703.9L908.7,703.9L909,691.2L909.4,703.9L909.7,691.2L910.1,691.2L910.5,678.6L910.8,691.2L911.2,678.6L911.5,691.2L911.9,691.2L912.3,678.6L912.6,678.6L913,703.9L913.4,678.6L913.7,678.6L914.1,691.2L914.4,678.6L914.8,678.6L915.2,691.2L915.5,691.2L915.9,691.2L916.2,678.6L916.6,691.2L917,678.6L917.3,691.2L917.7,678.6L918,678.6L918.4,691.2L918.8,665.9L919.1,665.9L919.5,665.9L919.8,678.6L920.2,665.9L920.6,665.9L920.9,665.9L921.3,678.6L921.7,665.9L922,653.2L922.4,665.9L922.7,665.9L923.1,678.6L923.5,665.9L923.8,665.9L924.2,653.2L924.5,678.6L924.9,665.9L925.3,665.9L925.6,665.9L926,653.2L926.3,653.2L926.7,665.9L927.1,665.9L927.4,653.2L927.8,653.2L928.1,653.2L928.5,665.9L928.9,653.2L929.2,653.2L929.6,653.2L929.9,665.9L930.3,653.2L930.7,640.5L931,653.2L931.4,640.5L931.8,640.5L932.1,653.2L932.5,653.2L932.8,653.2L933.2,640.5L933.6,640.5L933.9,653.2L934.3,653.2L934.6,640.5L935,640.5L935.4,640.5L935.7,640.5L936.1,627.8L936.4,653.2L936.8,627.8L937.2,640.5L937.5,627.8L937.9,627.8L938.2,640.5L938.6,627.8L939,640.5L939.3,640.5L939.7,627.8L940.1,640.5L940.4,640.5L940.8,627.8L941.1,627.8L941.5,627.8L941.9,640.5L942.2,602.4L942.6,615.1L942.9,627.8L943.3,627.8L943.7,627.8L944,615.1L944.4,627.8L944.7,602.4L945.1,615.1L945.5,615.1L945.8,627.8L946.2,627.8L946.5,627.8L946.9,615.1L947.3,615.1L947.6,615.1L948,615.1L948.3,615.1L948.7,602.4L949.1,615.1L949.4,615.1L949.8,615.1L950.2,602.4L950.5,615.1L950.9,602.4L951.2,615.1L951.6,602.4L952,602.4L952.3,615.1L952.7,602.4L953,589.7L953.4,589.7L953.8,589.7L954.1,589.7L954.5,602.4L954.8,602.4L955.2,589.7L955.6,602.4L955.9,602.4L956.3,615.1L956.6,602.4L957,602.4L957.4,602.4L957.7,589.7L958.1,602.4L958.5,589.7L958.8,589.7L959.2,589.7L959.5,577L959.9,589.7L960.3,589.7L960.6,602.4L961,589.7L961.3,589.7L961.7,589.7L962.1,589.7L962.4,577L962.8,564.3L963.1,577L963.5,577L963.9,577L964.2,564.3L964.6,564.3L964.9,577L965.3,564.3L965.7,577L966,577L966.4,577L966.8,577L967.1,577L967.5,577L967.8,564.3L968.2,564.3L968.6,589.7L968.9,564.3L969.3,551.6L969.6,577L970,564.3L970.4,577L970.7,551.6L971.1,577L971.4,577L971.8,564.3L972.2,538.9L972.5,564.3L972.9,564.3L973.2,551.6L973.6,551.6L974,538.9L974.3,564.3L974.7,564.3L975,551.6L975.4,551.6L975.8,551.6L976.1,538.9L976.5,564.3L976.9,551.6L977.2,551.6L977.6,538.9L977.9,538.9L978.3,551.6L978.7,551.6L979,538.9L979.4,538.9L979.7,526.2L980.1,538.9L980.5,526.2L980.8,551.6L981.2,538.9L981.5,538.9L981.9,538.9L982.3,538.9L982.6,538.9L983,538.9L983.3,538.9L983.7,526.2L984.1,538.9L984.4,538.9L984.8,526.2L985.2,526.2L985.5,526.2L985.9,526.2L986.2,526.2L986.6,526.2L987,538.9L987.3,513.5L987.7,513.5L988,513.5L988.4,526.2L988.8,538.9L989.1,526.2L989.5,526.2L989.8,513.5L990.2,526.2L990.6,526.2L990.9,500.8L991.3,526.2L991.6,513.5L992,513.5L992.4,526.2L992.7,513.5L993.1,513.5L993.4,526.2L993.8,526.2L994.2,526.2L994.5,513.5L994.9,513.5L995.3,513.5L995.6,513.5L996,513.5L996.3,513.5L996.7,513.5L997.1,513.5L997.4,500.8L997.8,500.8L998.1,513.5L998.5,500.8L998.9,500.8L999.2,488.1L999.6,513.5L999.9,500.8L1000.3,488.1L1000.7,500.8L1001,488.1L1001.4,513.5L1001.7,488.1L1002.1,500.8L1002.5,513.5L1002.8,488.1L1003.2,488.1L1003.6,488.1L1003.9,475.4L1004.3,488.1L1004.6,500.8L1005,488.1L1005.4,488.1L1005.7,488.1L1006.1,488.1L1006.4,488.1L1006.8,475.4L1007.2,488.1L1007.5,462.8L1007.9,462.8L1008.2,488.1L1008.6,488.1L1009,488.1L1009.3,488.1L1009.7,475.4L1010,488.1L1010.4,488.1L1010.8,475.4L1011.1,475.4L1011.5,475.4L1011.9,475.4L1012.2,462.8L1012.6,475.4L1012.9,475.4L1013.3,462.8L1013.7,475.4L1014,475.4L1014.4,475.4L1014.7,462.8L1015.1,462.8L1015.5,475.4L1015.8,462.8L1016.2,475.4L1016.5,462.8L1016.9,462.8L1017.3,475.4L1017.6,475.4L1018,462.8L1018.3,462.8L1018.7,462.8L1019.1,462.8L1019.4,475.4L1019.8,462.8L1020.1,462.8L1020.5,475.4L1020.9,450.1L1021.2,462.8L1021.6,475.4L1022,462.8L1022.3,462.8L1022.7,450.1L1023,462.8L1023.4,437.4L1023.8,437.4L1024.1,437.4L1024.5,437.4L1024.8,450.1L1025.2,450.1L1025.6,450.1L1025.9,437.4L1026.3,450.1L1026.6,450.1L1027,462.8L1027.4,437.4L1027.7,437.4L1028.1,450.1L1028.4,437.4L1028.8,437.4L1029.2,450.1L1029.5,437.4L1029.9,437.4L1030.3,450.1L1030.6,437.4L1031,437.4L1031.3,437.4L1031.7,424.7L1032.1,450.1L1032.4,437.4L1032.8,424.7L1033.1,424.7L1033.5,424.7L1033.9,437.4L1034.2,437.4L1034.6,437.4L1034.9,424.7L1035.3,437.4L1035.7,424.7L1036,424.7L1036.4,424.7L1036.7,450.1L1037.1,437.4L1037.5,424.7L1037.8,437.4L1038.2,424.7L1038.5,424.7L1038.9,424.7L1039.3,424.7L1039.6,424.7L1040,424.7L1040.4,424.7L1040.7,424.7L1041.1,412L1041.4,424.7L1041.8,412L1042.2,437.4L1042.5,412L1042.9,424.7L1043.2,412L1043.6,412L1044,412L1044.3,399.3L1044.7,424.7L1045,412L1045.4,412L1045.8,412L1046.1,424.7L1046.5,412L1046.8,412L1047.2,424.7L1047.6,412L1047.9,424.7L1048.3,399.3L1048.7,412L1049,399.3L1049.4,412L1049.7,412L1050.1,399.3L1050.5,424.7L1050.8,399.3L1051.2,412L1051.5,412L1051.9,399.3L1052.3,399.3L1052.6,386.6L1053,399.3L1053.3,412L1053.7,399.3L1054.1,412L1054.4,399.3L1054.8,412L1055.1,412L1055.5,386.6L1055.9,399.3L1056.2,399.3L1056.6,399.3L1057,399.3L1057.3,386.6L1057.7,399.3L1058,399.3L1058.4,386.6L1058.8,412L1059.1,399.3L1059.5,386.6L1059.8,386.6L1060.2,399.3L1060.6,399.3L1060.9,399.3L1061.3,399.3L1061.6,386.6L1062,373.9L1062.4,373.9L1062.7,386.6L1063.1,399.3L1063.4,386.6L1063.8,399.3L1064.2,386.6L1064.5,386.6L1064.9,399.3L1065.2,386.6L1065.6,386.6L1066,399.3L1066.3,386.6L1066.7,386.6L1067.1,386.6L1067.4,399.3L1067.8,373.9L1068.1,386.6L1068.5,386.6L1068.9,386.6L1069.2,386.6L1069.6,386.6L1069.9,373.9L1070.3,386.6L1070.7,386.6L1071,373.9L1071.4,386.6L1071.7,373.9L1072.1,386.6L1072.5,386.6L1072.8,373.9L1073.2,399.3L1073.5,373.9L1073.9,386.6L1074.3,373.9L1074.6,373.9L1075,373.9L1075.4,386.6L1075.7,386.6L1076.1,386.6L1076.4,386.6L1076.8,386.6L1077.2,386.6L1077.5,373.9L1077.9,399.3L1078.2,386.6L1078.6,373.9L1079,386.6L1079.3,386.6L1079.7,373.9L1080,399.3L1080.4,373.9L1080.8,373.9L1081.1,399.3L1081.5,373.9L1081.8,373.9L1082.2,386.6L1082.6,386.6L1082.9,386.6L1083.3,399.3L1083.6,386.6L1084,373.9L1084.4,386.6L1084.7,386.6L1085.1,386.6L1085.5,386.6L1085.8,386.6L1086.2,386.6L1086.5,386.6L1086.9,399.3L1087.3,412L1087.6,373.9L1088,373.9L1088.3,399.3L1088.7,386.6L1089.1,373.9L1089.4,373.9L1089.8,373.9L1090.1,373.9L1090.5,386.6L1090.9,373.9L1091.2,373.9L1091.6,386.6L1091.9,373.9L1092.3,373.9L1092.7,373.9L1093,386.6L1093.4,373.9L1093.8,386.6L1094.1,373.9L1094.5,399.3L1094.8,386.6L1095.2,373.9L1095.6,386.6L1095.9,386.6L1096.3,399.3L1096.6,373.9L1097,373.9L1097.4,386.6L1097.7,373.9L1098.1,373.9L1098.4,373.9L1098.8,386.6L1099.2,399.3L1099.5,386.6L1099.9,373.9L1100.2,373.9L1100.6,386.6L1101,373.9L1101.3,386.6L1101.7,373.9L1102.1,399.3L1102.4,386.6L1102.8,373.9L1103.1,386.6L1103.5,373.9L1103.9,361.2L1104.2,386.6L1104.6,386.6L1104.9,386.6L1105.3,386.6L1105.7,386.6L1106,399.3L1106.4,399.3L1106.7,373.9L1107.1,386.6L1107.5,373.9L1107.8,386.6L1108.2,386.6L1108.5,373.9L1108.9,373.9L1109.3,399.3L1109.6,373.9L1110,386.6L1110.3,386.6L1110.7,361.2L1111.1,386.6L1111.4,373.9L1111.8,386.6L1112.2,373.9L1112.5,386.6L1112.9,373.9L1113.2,386.6L1113.6,386.6L1114,373.9L1114.3,399.3L1114.7,386.6L1115,373.9L1115.4,386.6L1115.8,386.6L1116.1,386.6L1116.5,386.6L1116.8,386.6L1117.2,386.6L1117.6,386.6L1117.9,361.2L1118.3,386.6L1118.6,399.3L1119,386.6L1119.4,386.6L1119.7,386.6L1120.1,399.3L1120.5,373.9L1120.8,386.6L1121.2,386.6L1121.5,399.3L1121.9,373.9L1122.3,386.6L1122.6,373.9L1123,386.6L1123.3,399.3L1123.7,386.6L1124.1,386.6L1124.4,373.9L1124.8,386.6L1125.1,386.6L1125.5,386.6L1125.9,386.6L1126.2,386.6L1126.6,386.6L1126.9,386.6L1127.3,386.6L1127.7,386.6L1128,386.6L1128.4,399.3L1128.7,386.6L1129.1,373.9L1129.5,373.9L1129.8,373.9L1130.2,373.9L1130.6,386.6L1130.9,399.3L1131.3,373.9L1131.6,373.9L1132,373.9L1132.4,373.9L1132.7,373.9L1133.1,386.6L1133.4,373.9L1133.8,386.6L1134.2,373.9L1134.5,386.6L1134.9,386.6L1135.2,373.9L1135.6,386.6L1136,399.3L1136.3,386.6L1136.7,399.3L1137,361.2L1137.4,373.9L1137.8,373.9L1138.1,386.6L1138.5,386.6L1138.9,386.6L1139.2,386.6L1139.6,386.6L1139.9,386.6L1140.3,373.9L1140.7,373.9L1141,386.6L1141.4,399.3L1141.7,386.6L1142.1,386.6L1142.5,386.6L1142.8,373.9L1143.2,373.9L1143.5,386.6L1143.9,373.9L1144.3,373.9L1144.6,386.6L1145,386.6L1145.3,373.9L1145.7,386.6L1146.1,386.6L1146.4,386.6L1146.8,386.6L1147.2,386.6L1147.5,386.6L1147.9,386.6L1148.2,373.9L1148.6,373.9L1149,399.3L1149.3,373.9L1149.7,386.6L1150,373.9L1150.4,386.6L1150.8,386.6L1151.1,386.6L1151.5,399.3L1151.8,386.6L1152.2,386.6L1152.6,386.6L1152.9,386.6L1153.3,399.3L1153.6,386.6L1154,399.3L1154.4,386.6L1154.7,386.6L1155.1,386.6L1155.4,399.3L1155.8,373.9L1156.2,399.3L1156.5,386.6L1156.9,399.3L1157.3,386.6L1157.6,399.3L1158,386.6L1158.3,399.3L1158.7,386.6L1159.1,399.3L1159.4,386.6L1159.8,399.3L1160.1,399.3L1160.5,386.6L1160.9,399.3L1161.2,399.3L1161.6,386.6L1161.9,412L1162.3,386.6L1162.7,399.3L1163,399.3L1163.4,399.3L1163.7,386.6L1164.1,399.3L1164.5,399.3L1164.8,386.6L1165.2,399.3L1165.6,399.3L1165.9,399.3L1166.3,412L1166.6,399.3L1167,399.3L1167.4,399.3L1167.7,399.3L1168.1,386.6L1168.4,399.3L1168.8,399.3L1169.2,399.3L1169.5,386.6L1169.9,424.7L1170.2,399.3L1170.6,399.3L1171,399.3L1171.3,386.6L1171.7,399.3L1172,399.3L1172.4,412L1172.8,399.3L1173.1,412L1173.5,412L1173.8,399.3L1174.2,412L1174.6,399.3L1174.9,399.3L1175.3,399.3L1175.7,412L1176,424.7L1176.4,399.3L1176.7,399.3L1177.1,412L1177.5,412L1177.8,412L1178.2,412L1178.5,399.3L1178.9,424.7L1179.3,424.7L1179.6,412L1180,424.7L1180.3,412L1180.7,412L1181.1,424.7L1181.4,412L1181.8,424.7L1182.1,412L1182.5,412L1182.9,424.7L1183.2,424.7L1183.6,424.7L1184,424.7L1184.3,424.7L1184.7,399.3L1185,412L1185.4,424.7L1185.8,412L1186.1,412L1186.5,424.7L1186.8,412L1187.2,412L1187.6,424.7L1187.9,424.7L1188.3,424.7L1188.6,424.7L1189,424.7L1189.4,424.7L1189.7,424.7L1190.1,424.7L1190.4,424.7L1190.8,412L1191.2,424.7L1191.5,437.4L1191.9,424.7L1192.3,424.7L1192.6,424.7L1193,412L1193.3,437.4L1193.7,424.7L1194.1,437.4L1194.4,437.4L1194.8,412L1195.1,424.7L1195.5,437.4L1195.9,424.7L1196.2,437.4L1196.6,424.7L1196.9,424.7L1197.3,437.4L1197.7,424.7L1198,424.7L1198.4,437.4L1198.7,437.4L1199.1,437.4L1199.5,424.7L1199.8,437.4L1200.2,437.4L1200.5,437.4L1200.9,437.4L1201.3,424.7L1201.6,450.1L1202,437.4L1202.4,450.1L1202.7,437.4L1203.1,437.4L1203.4,437.4L1203.8,437.4L1204.2,450.1L1204.5,437.4L1204.9,450.1L1205.2,437.4L1205.6,437.4L1206,437.4L1206.3,437.4L1206.7,424.7L1207,437.4L1207.4,450.1L1207.8,450.1L1208.1,437.4L1208.5,437.4L1208.8,437.4L1209.2,450.1L1209.6,450.1L1209.9,450.1L1210.3,450.1L1210.7,450.1L1211,462.8L1211.4,450.1L1211.7,437.4L1212.1,450.1L1212.5,462.8L1212.8,450.1L1213.2,462.8L1213.5,437.4L1213.9,450.1L1214.3,462.8L1214.6,450.1L1215,462.8L1215.3,450.1L1215.7,450.1L1216.1,462.8L1216.4,450.1L1216.8,462.8L1217.1,450.1L1217.5,462.8L1217.9,462.8L1218.2,475.4L1218.6,450.1L1218.9,450.1L1219.3,475.4L1219.7,450.1L1220,462.8L1220.4,462.8L1220.8,462.8L1221.1,462.8L1221.5,450.1L1221.8,462.8L1222.2,475.4L1222.6,450.1L1222.9,462.8L1223.3,475.4L1223.6,475.4L1224,475.4L1224.4,475.4L1224.7,462.8L1225.1,475.4L1225.4,475.4L1225.8,475.4L1226.2,462.8L1226.5,475.4L1226.9,462.8L1227.2,488.1L1227.6,475.4L1228,475.4L1228.3,488.1L1228.7,462.8L1229.1,475.4L1229.4,488.1L1229.8,488.1L1230.1,475.4L1230.5,488.1L1230.9,475.4L1231.2,475.4L1231.6,488.1L1231.9,475.4L1232.3,475.4L1232.7,475.4L1233,488.1L1233.4,475.4L1233.7,475.4L1234.1,500.8L1234.5,488.1L1234.8,488.1L1235.2,488.1L1235.5,500.8L1235.9,488.1L1236.3,488.1L1236.6,488.1L1237,488.1L1237.4,500.8L1237.7,488.1L1238.1,488.1L1238.4,500.8L1238.8,500.8L1239.2,488.1L1239.5,500.8L1239.9,488.1L1240.2,500.8L1240.6,500.8L1241,513.5L1241.3,500.8L1241.7,500.8L1242,488.1L1242.4,500.8L1242.8,500.8L1243.1,488.1L1243.5,488.1L1243.8,500.8L1244.2,513.5L1244.6,513.5L1244.9,500.8L1245.3,513.5L1245.6,513.5L1246,513.5L1246.4,526.2L1246.7,500.8L1247.1,513.5L1247.5,513.5L1247.8,500.8L1248.2,526.2L1248.5,500.8L1248.9,500.8L1249.3,513.5L1249.6,526.2L1250,513.5L1250.3,526.2L1250.7,500.8L1251.1,513.5L1251.4,526.2L1251.8,526.2L1252.1,513.5L1252.5,513.5L1252.9,526.2L1253.2,526.2L1253.6,538.9L1253.9,513.5L1254.3,526.2L1254.7,500.8L1255,526.2L1255.4,526.2L1255.8,526.2L1256.1,513.5L1256.5,538.9L1256.8,526.2L1257.2,526.2L1257.6,526.2L1257.9,538.9L1258.3,526.2L1258.6,513.5L1259,538.9L1259.4,526.2L1259.7,513.5L1260.1,538.9L1260.4,538.9L1260.8,538.9L1261.2,538.9L1261.5,538.9L1261.9,538.9L1262.2,538.9L1262.6,551.6L1263,551.6L1263.3,551.6L1263.7,538.9L1264,538.9L1264.4,551.6L1264.8,538.9L1265.1,538.9L1265.5,551.6L1265.9,551.6L1266.2,538.9L1266.6,538.9L1266.9,551.6L1267.3,538.9L1267.7,551.6L1268,538.9L1268.4,551.6L1268.7,538.9L1269.1,551.6L1269.5,551.6L1269.8,538.9L1270.2,538.9L1270.5,564.3L1270.9,538.9L1271.3,564.3L1271.6,564.3L1272,551.6L1272.3,551.6L1272.7,551.6L1273.1,551.6L1273.4,551.6L1273.8,551.6L1274.2,551.6L1274.5,538.9L1274.9,564.3L1275.2,577L1275.6,564.3L1276,564.3L1276.3,564.3L1276.7,564.3L1277,577L1277.4,577L1277.8,564.3L1278.1,564.3L1278.5,589.7L1278.8,564.3L1279.2,564.3L1279.6,564.3L1279.9,564.3L1280.3,577L1280.6,577L1281,564.3L1281.4,564.3L1281.7,564.3L1282.1,577L1282.5,577L1282.8,564.3L1283.2,577L1283.5,577L1283.9,589.7L1284.3,589.7L1284.6,589.7L1285,564.3L1285.3,577L1285.7,589.7L1286.1,589.7L1286.4,564.3L1286.8,577L1287.1,589.7L1287.5,589.7L1287.9,589.7L1288.2,602.4L1288.6,589.7L1288.9,564.3L1289.3,577L1289.7,589.7L1290,589.7L1290.4,589.7L1290.7,577L1291.1,602.4L1291.5,602.4L1291.8,577L1292.2,589.7L1292.6,577L1292.9,589.7L1293.3,589.7L1293.6,602.4L1294,589.7L1294.4,589.7L1294.7,589.7L1295.1,602.4L1295.4,589.7L1295.8,602.4L1296.2,615.1L1296.5,602.4L1296.9,589.7L1297.2,602.4L1297.6,615.1L1298,602.4L1298.3,602.4L1298.7,615.1L1299,627.8L1299.4,602.4L1299.8,602.4L1300.1,602.4L1300.5,627.8L1300.9,627.8L1301.2,602.4L1301.6,602.4L1301.9,602.4L1302.3,615.1L1302.7,615.1L1303,615.1L1303.4,615.1L1303.7,627.8L1304.1,615.1L1304.5,615.1L1304.8,615.1L1305.2,615.1L1305.5,627.8L1305.9,602.4L1306.3,627.8L1306.6,615.1L1307,615.1L1307.3,615.1L1307.7,640.5L1308.1,615.1L1308.4,615.1L1308.8,615.1L1309.1,640.5L1309.5,627.8L1309.9,627.8L1310.2,627.8L1310.6,615.1L1311,640.5L1311.3,627.8L1311.7,627.8L1312,640.5L1312.4,640.5L1312.8,640.5L1313.1,640.5L1313.5,627.8L1313.8,640.5L1314.2,627.8L1314.6,653.2L1314.9,665.9L1315.3,640.5L1315.6,640.5L1316,640.5L1316.4,653.2L1316.7,640.5L1317.1,627.8L1317.4,640.5L1317.8,653.2L1318.2,653.2L1318.5,627.8L1318.9,653.2L1319.3,640.5L1319.6,640.5L1320,640.5L1320.3,653.2L1320.7,640.5L1321.1,640.5L1321.4,653.2L1321.8,640.5L1322.1,653.2L1322.5,653.2L1322.9,665.9L1323.2,653.2L1323.6,665.9L1323.9,653.2L1324.3,665.9L1324.7,665.9L1325,665.9L1325.4,665.9L1325.7,665.9L1326.1,665.9L1326.5,665.9L1326.8,678.6L1327.2,653.2L1327.6,665.9L1327.9,665.9L1328.3,678.6L1328.6,653.2L1329,678.6L1329.4,665.9L1329.7,653.2L1330.1,653.2L1330.4,665.9L1330.8,665.9L1331.2,678.6L1331.5,665.9L1331.9,665.9L1332.2,665.9L1332.6,665.9L1333,678.6L1333.3,678.6L1333.7,665.9L1334,665.9L1334.4,691.2L1334.8,665.9L1335.1,678.6L1335.5,678.6L1335.8,678.6L1336.2,678.6L1336.6,678.6L1336.9,678.6L1337.3,691.2L1337.7,678.6L1338,691.2L1338.4,691.2L1338.7,678.6L1339.1,703.9L1339.5,678.6L1339.8,678.6L1340.2,691.2L1340.5,678.6L1340.9,691.2L1341.3,691.2L1341.6,703.9L1342,691.2L1342.3,691.2L1342.7,691.2L1343.1,691.2L1343.4,691.2L1343.8,691.2L1344.1,691.2L1344.5,691.2L1344.9,703.9L1345.2,691.2L1345.6,703.9L1346,703.9L1346.3,703.9L1346.7,703.9L1347,691.2L1347.4,703.9L1347.8,703.9L1348.1,703.9L1348.5,716.6L1348.8,703.9L1349.2,703.9L1349.6,716.6L1349.9,729.3L1350.3,716.6L1350.6,716.6L1351,703.9L1351.4,716.6L1351.7,716.6L1352.1,729.3L1352.4,716.6L1352.8,729.3L1353.2,729.3L1353.5,716.6L1353.9,729.3L1354.2,716.6L1354.6,729.3L1355,729.3L1355.3,729.3L1355.7,742L1356.1,716.6L1356.4,742L1356.8,716.6L1357.1,742L1357.5,729.3L1357.9,716.6L1358.2,754.7L1358.6,742L1358.9,729.3L1359.3,729.3L1359.7,742L1360,742L1360.4,742L1360.7,742L1361.1,729.3L1361.5,742L1361.8,742L1362.2,729.3L1362.5,729.3L1362.9,754.7L1363.3,742L1363.6,754.7L1364,754.7L1364.4,754.7L1364.7,754.7L1365.1,767.4L1365.4,767.4L1365.8,754.7L1366.2,754.7L1366.5,742L1366.9,754.7L1367.2,754.7L1367.6,754.7L1368,754.7L1368.3,754.7L1368.7,754.7L1369,742L1369.4,767.4L1369.8,767.4L1370.1,780.1L1370.5,754.7L1370.8,767.4L1371.2,742L1371.6,767.4L1371.9,754.7L1372.3,754.7L1372.7,754.7L1373,780.1L1373.4,754.7L1373.7,767.4L1374.1,767.4L1374.5,767.4L1374.8,780.1L1375.2,780.1L1375.5,792.8L1375.9,767.4L1376.3,780.1L1376.6,780.1L1377,780.1L1377.3,754.7L1377.7,780.1L1378.1,780.1L1378.4,767.4L1378.8,792.8L1379.1,780.1L1379.5,780.1L1379.9,780.1L1380.2,780.1L1380.6,780.1L1380.9,792.8L1381.3,792.8L1381.7,780.1L1382,792.8L1382.4,792.8L1382.8,792.8L1383.1,792.8L1383.5,792.8L1383.8,805.5L1384.2,792.8L1384.6,792.8L1384.9,805.5L1385.3,805.5L1385.6,792.8L1386,792.8L1386.4,792.8L1386.7,792.8L1387.1,805.5L1387.4,792.8L1387.8,792.8L1388.2,805.5L1388.5,792.8L1388.9,805.5L1389.2,805.5L1389.6,805.5L1390,780.1L1390.3,792.8L1390.7,792.8L1391.1,805.5L1391.4,805.5L1391.8,792.8L1392.1,805.5L1392.5,805.5L1392.9,805.5L1393.2,805.5L1393.6,805.5L1393.9,805.5L1394.3,805.5L1394.7,818.2L1395,792.8L1395.4,818.2L1395.7,818.2L1396.1,805.5L1396.5,818.2L1396.8,818.2L1397.2,830.9L1397.5,818.2L1397.9,818.2L1398.3,818.2L1398.6,818.2L1399,830.9L1399.3,830.9L1399.7,830.9L1400.1,830.9L1400.4,818.2L1400.8,818.2L1401.2,830.9L1401.5,843.6L1401.9,830.9L1402.2,843.6L1402.6,830.9L1403,830.9L1403.3,843.6L1403.7,843.6L1404,843.6L1404.4,818.2L1404.8,843.6L1405.1,843.6L1405.5,830.9L1405.8,830.9L1406.2,830.9L1406.6,843.6L1406.9,843.6L1407.3,818.2L1407.6,843.6L1408,843.6L1408.4,843.6L1408.7,830.9L1409.1,856.3L1409.5,843.6L1409.8,843.6L1410.2,843.6L1410.5,843.6L1410.9,856.3L1411.3,856.3L1411.6,869L1412,843.6L1412.3,869L1412.7,856.3L1413.1,843.6L1413.4,856.3L1413.8,856.3L1414.1,856.3L1414.5,856.3L1414.9,856.3L1415.2,869L1415.6,843.6L1415.9,856.3L1416.3,869L1416.7,869L1417,856.3L1417.4,869L1417.8,856.3L1418.1,856.3L1418.5,843.6L1418.8,869L1419.2,856.3L1419.6,881.7L1419.9,869L1420.3,869L1420.6,869L1421,869L1421.4,869L1421.7,881.7L1422.1,881.7L1422.4,869L1422.8,869L1423.2,869L1423.5,869L1423.9,869L1424.2,894.4L1424.6,881.7L1425,881.7L1425.3,881.7L1425.7,869L1426,881.7L1426.4,881.7L1426.8,881.7L1427.1,869L1427.5,881.7L1427.9,894.4L1428.2,881.7L1428.6,881.7L1428.9,881.7L1429.3,881.7L1429.7,881.7L1430,894.4L1430.4,894.4L1430.7,894.4L1431.1,919.8L1431.5,894.4L1431.8,881.7L1432.2,894.4L1432.5,894.4L1432.9,894.4L1433.3,894.4L1433.6,894.4L1434,881.7L1434.3,894.4L1434.7,894.4L1435.1,894.4L1435.4,894.4L1435.8,907.1L1436.2,907.1L1436.5,894.4L1436.9,919.8L1437.2,907.1L1437.6,907.1L1438,919.8L1438.3,907.1L1438.7,919.8L1439,907.1L1439.4,907.1L1439.8,907.1L1440.1,907.1L1440.5,919.8L1440.8,907.1L1441.2,907.1L1441.6,907.1L1441.9,932.4L1442.3,919.8L1442.6,932.4L1443,919.8L1443.4,919.8L1443.7,919.8L1444.1,919.8L1444.4,919.8L1444.8,932.4L1445.2,919.8L1445.5,919.8L1445.9,932.4L1446.3,932.4L1446.6,932.4L1447,919.8L1447.3,932.4L1447.7,932.4L1448.1,932.4L1448.4,932.4L1448.8,932.4L1449.1,919.8L1449.5,932.4L1449.9,919.8L1450.2,919.8L1450.6,945.1L1450.9,932.4L1451.3,919.8L1451.7,919.8L1452,945.1L1452.4,945.1L1452.7,932.4L1453.1,945.1L1453.5,945.1L1453.8,945.1L1454.2,945.1L1454.6,957.8L1454.9,945.1L1455.3,945.1L1455.6,945.1L1456,945.1L1456.4,945.1L1456.7,945.1L1457.1,957.8L1457.4,957.8L1457.8,957.8L1458.2,945.1L1458.5,945.1L1458.9,932.4L1459.2,957.8L1459.6,970.5L1460,945.1L1460.3,945.1L1460.7,970.5L1461,970.5L1461.4,957.8L1461.8,957.8L1462.1,970.5L1462.5,970.5L1462.9,970.5L1463.2,970.5L1463.6,970.5L1463.9,957.8L1464.3,970.5L1464.7,970.5L1465,983.2L1465.4,957.8L1465.7,970.5L1466.1,970.5L1466.5,983.2L1466.8,970.5L1467.2,983.2L1467.5,970.5L1467.9,970.5L1468.3,970.5L1468.6,983.2L1469,983.2L1469.3,983.2L1469.7,957.8L1470.1,983.2L1470.4,970.5L1470.8,983.2L1471.1,983.2L1471.5,970.5L1471.9,983.2L1472.2,983.2L1472.6,983.2L1473,983.2L1473.3,983.2L1473.7,995.9L1474,983.2L1474.4,995.9L1474.8,995.9L1475.1,983.2L1475.5,983.2L1475.8,983.2L1476.2,983.2L1476.6,1008.6L1476.9,983.2L1477.3,995.9L1477.6,995.9L1478,1008.6L1478.4,995.9L1478.7,983.2L1479.1,983.2L1479.4,995.9L1479.8,995.9L1480.2,995.9L1480.5,983.2L1480.9,995.9L1481.3,995.9L1481.6,995.9L1482,995.9L1482.3,995.9L1482.7,1008.6L1483.1,995.9L1483.4,1008.6L1483.8,1008.6L1484.1,1008.6L1484.5,1008.6L1484.9,1008.6L1485.2,1021.3L1485.6,1008.6L1485.9,1008.6L1486.3,1008.6L1486.7,1008.6L1487,1008.6L1487.4,1021.3L1487.7,995.9L1488.1,1021.3L1488.5,1008.6L1488.8,1008.6L1489.2,1021.3L1489.5,1021.3L1489.9,1021.3L1490.3,1008.6L1490.6,1021.3L1491,1034L1491.4,1008.6L1491.7,1021.3L1492.1,1034L1492.4,1021.3L1492.8,1021.3L1493.2,1008.6L1493.5,1008.6L1493.9,1034L1494.2,1034L1494.6,1034L1495,1034L1495.3,1034L1495.7,1021.3L1496,1034L1496.4,1046.7L1496.8,1034L1497.1,1021.3L1497.5,1021.3L1497.8,1034L1498.2,1034L1498.6,1034L1498.9,1034L1499.3,1046.7L1499.7,1034L1500,1046.7L1500.4,1034L1500.7,1059.4L1501.1,1046.7L1501.5,1034L1501.8,1059.4L1502.2,1034L1502.5,1046.7L1502.9,1046.7L1503.3,1059.4L1503.6,1034L1504,1046.7L1504.3,1046.7L1504.7,1046.7L1505.1,1059.4L1505.4,1046.7L1505.8,1059.4L1506.1,1046.7L1506.5,1072.1L1506.9,1059.4L1507.2,1072.1L1507.6,1046.7L1508,1072.1L1508.3,1059.4L1508.7,1046.7L1509,1059.4L1509.4,1046.7L1509.8,1046.7L1510.1,1059.4L1510.5,1059.4L1510.8,1072.1L1511.2,1072.1L1511.6,1059.4L1511.9,1059.4L1512.3,1072.1L1512.6,1072.1L1513,1072.1L1513.4,1059.4L1513.7,1059.4L1514.1,1072.1L1514.4,1072.1L1514.8,1072.1L1515.2,1072.1L1515.5,1072.1L1515.9,1084.8L1516.2,1072.1L1516.6,1059.4L1517,1072.1L1517.3,1072.1L1517.7,1072.1L1518.1,1059.4L1518.4,1072.1L1518.8,1084.8L1519.1,1084.8L1519.5,1072.1L1519.9,1072.1L1520.2,1072.1L1520.6,1072.1L1520.9,1084.8L1521.3,1097.5L1521.7,1084.8L1522,1097.5L1522.4,1084.8L1522.7,1097.5L1523.1,1084.8L1523.5,1084.8L1523.8,1097.5L1524.2,1084.8L1524.5,1084.8L1524.9,1097.5L1525.3,1084.8L1525.6,1084.8L1526,1097.5L1526.4,1084.8L1526.7,1084.8L1527.1,1084.8L1527.4,1084.8L1527.8,1097.5L1528.2,1084.8L1528.5,1084.8L1528.9,1097.5L1529.2,1097.5L1529.6,1097.5L1530,1097.5L1530.3,1097.5L1530.7,1097.5L1531,1097.5L1531.4,1097.5L1531.8,1097.5L1532.1,1097.5L1532.5,1084.8L1532.8,1097.5L1533.2,1110.2L1533.6,1097.5L1533.9,1110.2L1534.3,1110.2L1534.6,1110.2L1535,1110.2L1535.4,1110.2L1535.7,1122.9L1536.1,1110.2L1536.5,1097.5L1536.8,1110.2L1537.2,1110.2L1537.5,1110.2L1537.9,1110.2L1538.3,1110.2L1538.6,1110.2L1539,1110.2L1539.3,1135.6L1539.7,1110.2L1540.1,1110.2L1540.4,1135.6L1540.8,1110.2L1541.1,1110.2L1541.5,1110.2L1541.9,1110.2L1542.2,1122.9L1542.6,1122.9L1542.9,1122.9L1543.3,1122.9L1543.7,1097.5L1544,1110.2L1544.4,1122.9L1544.8,1122.9L1545.1,1122.9L1545.5,1122.9L1545.8,1122.9L1546.2,1135.6L1546.6,1110.2L1546.9,1110.2L1547.3,1135.6L1547.6,1135.6L1548,1135.6L1548.4,1122.9L1548.7,1122.9L1549.1,1135.6L1549.4,1135.6L1549.8,1122.9L1550.2,1122.9L1550.5,1135.6L1550.9,1135.6L1551.2,1122.9L1551.6,1135.6L1552,1148.2L1552.3,1135.6L1552.7,1148.2L1553.1,1122.9L1553.4,1135.6L1553.8,1148.2L1554.1,1135.6L1554.5,1122.9L1554.9,1160.9L1555.2,1135.6L1555.6,1122.9L1555.9,1148.2L1556.3,1148.2L1556.7,1148.2L1557,1148.2L1557.4,1160.9L1557.7,1160.9L1558.1,1148.2L1558.5,1148.2L1558.8,1148.2L1559.2,1148.2L1559.5,1135.6L1559.9,1148.2L1560.3,1148.2L1560.6,1160.9L1561,1148.2L1561.3,1122.9L1561.7,1135.6L1562.1,1148.2L1562.4,1148.2L1562.8,1148.2L1563.2,1160.9L1563.5,1135.6L1563.9,1160.9L1564.2,1160.9L1564.6,1135.6L1565,1173.6L1565.3,1160.9L1565.7,1173.6L1566,1160.9L1566.4,1160.9L1566.8,1160.9L1567.1,1160.9L1567.5,1173.6L1567.8,1160.9L1568.2,1173.6L1568.6,1160.9L1568.9,1173.6L1569.3,1160.9L1569.6,1173.6L1570,1160.9L1570.4,1173.6L1570.7,1173.6L1571.1,1160.9L1571.5,1173.6L1571.8,1186.3L1572.2,1160.9L1572.5,1199L1572.9,1173.6L1573.3,1173.6L1573.6,1186.3L1574,1173.6L1574.3,1173.6L1574.7,1160.9L1575.1,1186.3L1575.4,1160.9L1575.8,1160.9L1576.1,1186.3L1576.5,1186.3L1576.9,1173.6L1577.2,1186.3L1577.6,1186.3L1577.9,1186.3L1578.3,1186.3L1578.7,1186.3L1579,1186.3L1579.4,1199L1579.7,1186.3L1580.1,1173.6L1580.5,1173.6L1580.8,1186.3L1581.2,1186.3L1581.6,1186.3L1581.9,1173.6L1582.3,1186.3L1582.6,1199L1583,1199L1583.4,1186.3L1583.7,1173.6L1584.1,1199L1584.4,1211.7L1584.8,1186.3L1585.2,1199L1585.5,1199L1585.9,1186.3L1586.2,1199L1586.6,1211.7L1587,1211.7L1587.3,1199L1587.7,1211.7L1588,1199L1588.4,1211.7L1588.8,1211.7L1589.1,1211.7L1589.5,1211.7L1589.9,1211.7L1590.2,1199L1590.6,1199L1590.9,1211.7L1591.3,1211.7L1591.7,1186.3L1592,1211.7L1592.4,1199L1592.7,1211.7L1593.1,1199L1593.5,1199L1593.8,1211.7L1594.2,1211.7L1594.5,1224.4L1594.9,1224.4L1595.3,1211.7L1595.6,1211.7L1596,1211.7L1596.3,1211.7L1596.7,1224.4L1597.1,1224.4L1597.4,1237.1L1597.8,1211.7L1598.2,1211.7L1598.5,1224.4L1598.9,1224.4L1599.2,1224.4L1599.6,1224.4L1600,1237.1L1600.3,1237.1L1600.7,1237.1L1601,1211.7L1601.4,1237.1L1601.8,1237.1L1602.1,1237.1L1602.5,1237.1L1602.8,1224.4L1603.2,1249.8L1603.6,1249.8L1603.9,1224.4L1604.3,1237.1L1604.6,1237.1L1605,1224.4L1605.4,1224.4L1605.7,1249.8L1606.1,1237.1L1606.4,1224.4L1606.8,1249.8L1607.2,1237.1L1607.5,1237.1L1607.9,1237.1L1608.3,1249.8L1608.6,1249.8L1609,1249.8L1609.3,1237.1L1609.7,1262.5L1610.1,1237.1L1610.4,1262.5L1610.8,1249.8L1611.1,1262.5L1611.5,1249.8L1611.9,1237.1L1612.2,1237.1L1612.6,1237.1L1612.9,1249.8L1613.3,1249.8L1613.7,1249.8L1614,1249.8L1614.4,1262.5L1614.7,1249.8L1615.1,1249.8L1615.5,1249.8L1615.8,1249.8L1616.2,1249.8L1616.6,1262.5L1616.9,1262.5L1617.3,1275.2L1617.6,1262.5L1618,1262.5L1618.4,1249.8L1618.7,1275.2L1619.1,1237.1L1619.4,1262.5L1619.8,1249.8L1620.2,1249.8L1620.5,1287.9L1620.9,1262.5L1621.2,1249.8L1621.6,1287.9L1622,1262.5L1622.3,1275.2L1622.7,1275.2L1623,1262.5L1623.4,1287.9L1623.8,1275.2L1624.1,1275.2L1624.5,1275.2L1624.8,1262.5L1625.2,1249.8L1625.6,1275.2L1625.9,1275.2L1626.3,1275.2L1626.7,1287.9L1627,1275.2L1627.4,1262.5L1627.7,1275.2L1628.1,1275.2L1628.5,1287.9L1628.8,1262.5L1629.2,1300.6L1629.5,1275.2L1629.9,1275.2L1630.3,1275.2L1630.6,1287.9L1631,1287.9L1631.3,1287.9L1631.7,1287.9L1632.1,1300.6L1632.4,1300.6L1632.8,1287.9L1633.1,1275.2L1633.5,1287.9L1633.9,1300.6L1634.2,1300.6L1634.6,1275.2L1635,1287.9L1635.3,1287.9L1635.7,1287.9L1636,1275.2L1636.4,1287.9L1636.8,1300.6L1637.1,1300.6L1637.5,1300.6L1637.8,1300.6L1638.2,1300.6L1638.6,1300.6L1638.9,1300.6L1639.3,1300.6L1639.6,1300.6L1640,1313.3L1640.4,1313.3L1640.7,1300.6L1641.1,1300.6L1641.4,1300.6L1641.8,1300.6L1642.2,1326L1642.5,1313.3L1642.9,1313.3L1643.3,1313.3L1643.6,1313.3L1644,1313.3L1644.3,1313.3L1644.7,1287.9L1645.1,1300.6L1645.4,1313.3L1645.8,1313.3L1646.1,1313.3L1646.5,1313.3L1646.9,1313.3L1647.2,1313.3L1647.6,1300.6L1647.9,1300.6L1648.3,1313.3L1648.7,1300.6L1649,1313.3L1649.4,1326L1649.7,1326L1650.1,1326L1650.5,1313.3L1650.8,1313.3L1651.2,1313.3L1651.5,1326L1651.9,1326L1652.3,1313.3L1652.6,1313.3L1653,1326L1653.4,1313.3L1653.7,1313.3L1654.1,1326L1654.4,1326L1654.8,1338.7L1655.2,1313.3L1655.5,1326L1655.9,1326L1656.2,1326L1656.6,1338.7L1657,1326L1657.3,1326L1657.7,1326L1658,1338.7L1658.4,1313.3L1658.8,1326L1659.1,1326L1659.5,1338.7L1659.8,1326L1660.2,1326L1660.6,1338.7L1660.9,1351.4L1661.3,1338.7L1661.7,1326L1662,1351.4L1662.4,1351.4L1662.7,1338.7L1663.1,1351.4L1663.5,1338.7L1663.8,1351.4L1664.2,1351.4L1664.5,1351.4L1664.9,1326L1665.3,1351.4L1665.6,1338.7L1666,1338.7L1666.3,1351.4L1666.7,1338.7L1667.1,1338.7L1667.4,1338.7L1667.8,1364.1L1668.1,1364.1L1668.5,1364.1L1668.9,1351.4L1669.2,1351.4L1669.6,1338.7L1669.9,1338.7L1670.3,1351.4L1670.7,1351.4L1671,1351.4L1671.4,1338.7L1671.8,1364.1L1672.1,1351.4L1672.5,1351.4L1672.8,1351.4L1673.2,1351.4L1673.6,1364.1L1673.9,1364.1L1674.3,1351.4L1674.6,1351.4L1675,1364.1L1675.4,1364.1L1675.7,1351.4L1676.1,1364.1L1676.4,1351.4L1676.8,1351.4L1677.2,1351.4L1677.5,1351.4L1677.9,1351.4L1678.2,1364.1L1678.6,1364.1L1679,1364.1L1679.3,1338.7L1679.7,1364.1L1680.1,1364.1L1680.4,1351.4L1680.8,1376.8L1681.1,1376.8L1681.5,1364.1L1681.9,1376.8L1682.2,1376.8L1682.6,1376.8L1682.9,1364.1L1683.3,1364.1L1683.7,1364.1L1684,1364.1L1684.4,1389.4L1684.7,1364.1L1685.1,1364.1L1685.5,1376.8L1685.8,1376.8L1686.2,1376.8L1686.5,1376.8L1686.9,1376.8L1687.3,1376.8L1687.6,1389.4L1688,1376.8L1688.4,1376.8L1688.7,1376.8L1689.1,1376.8L1689.4,1376.8L1689.8,1364.1L1690.2,1389.4L1690.5,1364.1L1690.9,1376.8L1691.2,1376.8L1691.6,1389.4L1692,1389.4L1692.3,1389.4L1692.7,1389.4L1693,1389.4L1693.4,1402.1L1693.8,1376.8L1694.1,1376.8L1694.5,1414.8L1694.8,1402.1L1695.2,1389.4L1695.6,1389.4L1695.9,1389.4L1696.3,1389.4L1696.6,1376.8L1697,1376.8L1697.4,1376.8L1697.7,1389.4L1698.1,1389.4L1698.5,1402.1L1698.8,1389.4L1699.2,1402.1L1699.5,1376.8L1699.9,1376.8L1700.3,1389.4L1700.6,1402.1L1701,1389.4L1701.3,1389.4L1701.7,1389.4L1702.1,1389.4L1702.4,1389.4L1702.8,1414.8L1703.1,1389.4L1703.5,1402.1L1703.9,1402.1L1704.2,1389.4L1704.6,1402.1L1704.9,1414.8L1705.3,1414.8L1705.7,1402.1L1706,1389.4L1706.4,1389.4L1706.8,1402.1L1707.1,1402.1L1707.5,1389.4L1707.8,1402.1L1708.2,1389.4L1708.6,1402.1L1708.9,1402.1L1709.3,1402.1L1709.6,1402.1L1710,1414.8L1710.4,1414.8L1710.7,1414.8L1711.1,1414.8L1711.4,1402.1L1711.8,1414.8L1712.2,1414.8L1712.5,1414.8L1712.9,1414.8L1713.2,1402.1L1713.6,1414.8L1714,1414.8L1714.3,1414.8L1714.7,1402.1L1715,1414.8L1715.4,1414.8L1715.8,1414.8L1716.1,1414.8L1716.5,1414.8L1716.9,1414.8L1717.2,1427.5L1717.6,1427.5L1717.9,1440.2L1718.3,1414.8L1718.7,1414.8L1719,1414.8L1719.4,1414.8L1719.7,1414.8L1720.1,1427.5L1720.5,1427.5L1720.8,1440.2L1721.2,1427.5L1721.5,1427.5L1721.9,1414.8L1722.3,1414.8L1722.6,1427.5L1723,1427.5L1723.3,1427.5L1723.7,1427.5L1724.1,1440.2L1724.4,1427.5L1724.8,1440.2L1725.2,1427.5L1725.5,1427.5L1725.9,1427.5L1726.2,1427.5L1726.6,1427.5L1727,1440.2L1727.3,1427.5L1727.7,1440.2L1728,1427.5L1728.4,1427.5L1728.8,1440.2L1729.1,1452.9L1729.5,1427.5L1729.8,1440.2L1730.2,1427.5L1730.6,1427.5L1730.9,1440.2L1731.3,1440.2L1731.6,1427.5L1732,1440.2L1732.4,1440.2L1732.7,1440.2L1733.1,1440.2L1733.5,1440.2L1733.8,1440.2L1734.2,1440.2L1734.5,1440.2L1734.9,1452.9L1735.3,1452.9L1735.6,1427.5L1736,1452.9L1736.3,1440.2L1736.7,1452.9L1737.1,1440.2L1737.4,1452.9L1737.8,1427.5L1738.1,1452.9L1738.5,1452.9L1738.9,1440.2L1739.2,1440.2L1739.6,1465.6L1739.9,1440.2L1740.3,1440.2L1740.7,1452.9L1741,1440.2L1741.4,1452.9L1741.7,1452.9L1742.1,1452.9L1742.5,1452.9L1742.8,1465.6L1743.2,1440.2L1743.6,1452.9L1743.9,1452.9L1744.3,1452.9L1744.6,1452.9L1745,1440.2L1745.4,1452.9L1745.7,1452.9L1746.1,1452.9L1746.4,1452.9L1746.8,1452.9L1747.2,1452.9L1747.5,1440.2L1747.9,1465.6L1748.2,1465.6L1748.6,1465.6L1749,1452.9L1749.3,1452.9L1749.7,1452.9L1750,1465.6L1750.4,1452.9L1750.8,1465.6L1751.1,1465.6L1751.5,1465.6L1751.9,1478.3L1752.2,1465.6L1752.6,1465.6L1752.9,1478.3L1753.3,1465.6L1753.7,1452.9L1754,1465.6L1754.4,1465.6L1754.7,1465.6L1755.1,1478.3L1755.5,1478.3L1755.8,1465.6L1756.2,1452.9L1756.5,1465.6L1756.9,1478.3L1757.3,1465.6L1757.6,1465.6L1758,1478.3L1758.3,1465.6L1758.7,1478.3L1759.1,1478.3L1759.4,1465.6L1759.8,1491L1760.1,1465.6L1760.5,1478.3L1760.9,1478.3L1761.2,1478.3L1761.6,1478.3L1762,1491L1762.3,1478.3L1762.7,1478.3L1763,1478.3L1763.4,1478.3L1763.8,1465.6L1764.1,1478.3L1764.5,1478.3L1764.8,1491L1765.2,1478.3L1765.6,1478.3L1765.9,1452.9L1766.3,1465.6L1766.6,1478.3L1767,1465.6L1767.4,1491L1767.7,1465.6L1768.1,1491L1768.4,1491L1768.8,1478.3L1769.2,1478.3L1769.5,1465.6L1769.9,1491L1770.3,1478.3L1770.6,1491L1771,1491L1771.3,1503.7L1771.7,1478.3L1772.1,1478.3L1772.4,1491L1772.8,1491L1773.1,1491L1773.5,1478.3L1773.9,1491L1774.2,1491L1774.6,1478.3L1774.9,1491L1775.3,1491L1775.7,1478.3L1776,1491L1776.4,1478.3L1776.7,1503.7L1777.1,1491L1777.5,1491L1777.8,1491L1778.2,1491L1778.6,1491L1778.9,1491L1779.3,1478.3L1779.6,1491L1780,1503.7L1780.4,1491L1780.7,1491L1781.1,1491L1781.4,1491L1781.8,1503.7L1782.2,1491L1782.5,1491L1782.9,1491L1783.2,1491L1783.6,1491L1784,1503.7L1784.3,1491L1784.7,1491L1785,1491L1785.4,1478.3L1785.8,1491L1786.1,1491L1786.5,1503.7L1786.8,1491L1787.2,1491L1787.6,1491L1787.9,1491L1788.3,1491L1788.7,1491L1789,1503.7L1789.4,1491L1789.7,1491L1790.1,1503.7L1790.5,1503.7L1790.8,1503.7L1791.2,1503.7L1791.5,1491L1791.9,1491L1792.3,1503.7L1792.6,1503.7L1793,1491L1793.3,1503.7L1793.7,1503.7L1794.1,1516.4L1794.4,1491L1794.8,1491L1795.1,1516.4L1795.5,1503.7L1795.9,1491L1796.2,1503.7L1796.6,1503.7L1797,1516.4L1797.3,1516.4L1797.7,1503.7L1798,1503.7L1798.4,1503.7L1798.8,1503.7L1799.1,1503.7L1799.5,1516.4L1799.8,1491L1800.2,1503.7L1800.6,1516.4L1800.9,1491L1801.3,1503.7L1801.6,1503.7L1802,1491L1802.4,1529.1L1802.7,1516.4L1803.1,1503.7L1803.4,1503.7L1803.8,1516.4L1804.2,1491L1804.5,1503.7L1804.9,1516.4L1805.2,1516.4L1805.6,1503.7L1806,1491L1806.3,1516.4L1806.7,1503.7L1807.1,1516.4L1807.4,1516.4L1807.8,1503.7L1808.1,1516.4L1808.5,1516.4L1808.9,1503.7L1809.2,1503.7L1809.6,1503.7L1809.9,1503.7L1810.3,1503.7L1810.7,1503.7L1811,1516.4L1811.4,1516.4L1811.7,1503.7L1812.1,1516.4L1812.5,1516.4L1812.8,1503.7L1813.2,1503.7L1813.5,1516.4L1813.9,1516.4L1814.3,1503.7L1814.6,1503.7L1815,1516.4L1815.4,1503.7L1815.7,1503.7L1816.1,1503.7L1816.4,1491L1816.8,1503.7L1817.2,1503.7L1817.5,1503.7L1817.9,1491L1818.2,1503.7L1818.6,1516.4L1819,1503.7L1819.3,1516.4L1819.7,1516.4L1820,1503.7L1820.4,1503.7L1820.8,1516.4L1821.1,1516.4L1821.5,1503.7L1821.8,1516.4L1822.2,1503.7L1822.6,1516.4L1822.9,1503.7L1823.3,1529.1L1823.7,1503.7L1824,1529.1L1824.4,1516.4L1824.7,1503.7L1825.1,1516.4L1825.5,1516.4L1825.8,1529.1L1826.2,1516.4L1826.5,1516.4L1826.9,1503.7L1827.3,1516.4L1827.6,1516.4L1828,1503.7L1828.3,1516.4L1828.7,1516.4L1829.1,1503.7L1829.4,1516.4L1829.8,1503.7L1830.1,1516.4L1830.5,1503.7L1830.9,1516.4L1831.2,1503.7L1831.6,1503.7L1831.9,1516.4L1832.3,1503.7L1832.7,1516.4L1833,1516.4L1833.4,1516.4L1833.8,1503.7L1834.1,1516.4L1834.5,1516.4L1834.8,1516.4L1835.2,1516.4L1835.6,1516.4L1835.9,1503.7L1836.3,1503.7L1836.6,1503.7L1837,1516.4L1837.4,1516.4L1837.7,1503.7L1838.1,1516.4L1838.4,1503.7L1838.8,1516.4L1839.2,1516.4L1839.5,1516.4L1839.9,1516.4L1840.2,1516.4L1840.6,1516.4L1841,1516.4L1841.3,1503.7L1841.7,1516.4L1842.1,1529.1L1842.4,1503.7L1842.8,1516.4L1843.1,1541.8L1843.5,1516.4L1843.9,1503.7L1844.2,1503.7L1844.6,1503.7L1844.9,1516.4L1845.3,1503.7L1845.7,1516.4L1846,1516.4L1846.4,1503.7L1846.7,1503.7L1847.1,1516.4L1847.5,1529.1L1847.8,1516.4L1848.2,1516.4L1848.5,1503.7L1848.9,1516.4L1849.3,1503.7L1849.6,1516.4L1850,1503.7L1850.3,1516.4L1850.7,1516.4L1851.1,1491L1851.4,1516.4L1851.8,1516.4L1852.2,1503.7L1852.5,1503.7L1852.9,1503.7L1853.2,1529.1L1853.6,1516.4L1854,1529.1L1854.3,1503.7L1854.7,1516.4L1855,1516.4L1855.4,1503.7L1855.8,1503.7L1856.1,1516.4L1856.5,1503.7L1856.8,1516.4L1857.2,1529.1L1857.6,1503.7L1857.9,1503.7L1858.3,1503.7L1858.6,1503.7L1859,1516.4L1859.4,1503.7L1859.7,1503.7L1860.1,1503.7L1860.5,1503.7L1860.8,1516.4L1861.2,1503.7L1861.5,1503.7L1861.9,1516.4L1862.3,1529.1L1862.6,1516.4L1863,1516.4L1863.3,1503.7L1863.7,1516.4L1864.1,1516.4L1864.4,1516.4L1864.8,1516.4L1865.1,1503.7L1865.5,1503.7L1865.9,1516.4L1866.2,1516.4L1866.6,1516.4L1866.9,1503.7L1867.3,1516.4L1867.7,1503.7L1868,1516.4L1868.4,1516.4L1868.8,1516.4L1869.1,1516.4L1869.5,1516.4L1869.8,1516.4L1870.2,1516.4L1870.6,1516.4L1870.9,1516.4L1871.3,1516.4L1871.6,1503.7L1872,1503.7L1872.4,1516.4L1872.7,1529.1L1873.1,1516.4L1873.4,1529.1L1873.8,1516.4L1874.2,1503.7L1874.5,1503.7L1874.9,1516.4L1875.2,1516.4L1875.6,1516.4L1876,1529.1L1876.3,1503.7L1876.7,1516.4L1877,1503.7L1877.4,1516.4L1877.8,1503.7L1878.1,1516.4L1878.5,1503.7L1878.9,1516.4L1879.2,1503.7L1879.6,1516.4L1879.9,1516.4L1880.3,1516.4L1880.7,1503.7L1881,1503.7L1881.4,1503.7L1881.7,1503.7L1882.1,1529.1L1882.5,1516.4L1882.8,1529.1L1883.2,1516.4L1883.5,1503.7L1883.9,1516.4L1884.3,1516.4L1884.6,1516.4L1885,1516.4L1885.3,1503.7L1885.7,1503.7L1886.1,1503.7L1886.4,1503.7L1886.8,1516.4L1887.2,1516.4L1887.5,1516.4L1887.9,1516.4L1888.2,1503.7L1888.6,1503.7L1889,1516.4L1889.3,1516.4L1889.7,1516.4L1890,1516.4L1890.4,1516.4L1890.8,1503.7L1891.1,1529.1L1891.5,1529.1L1891.8,1503.7L1892.2,1529.1L1892.6,1503.7L1892.9,1516.4L1893.3,1503.7L1893.6,1503.7L1894,1516.4L1894.4,1503.7L1894.7,1516.4L1895.1,1503.7L1895.4,1503.7L1895.8,1503.7L1896.2,1516.4L1896.5,1516.4L1896.9,1516.4L1897.3,1516.4L1897.6,1516.4L1898,1516.4L1898.3,1503.7L1898.7,1516.4L1899.1,1503.7L1899.4,1516.4L1899.8,1503.7L1900.1,1516.4L1900.5,1503.7L1900.9,1503.7L1901.2,1503.7L1901.6,1503.7L1901.9,1503.7L1902.3,1503.7L1902.7,1516.4L1903,1516.4L1903.4,1529.1L1903.7,1516.4L1904.1,1516.4L1904.5,1516.4L1904.8,1491L1905.2,1529.1L1905.6,1516.4L1905.9,1503.7L1906.3,1503.7L1906.6,1503.7L1907,1516.4L1907.4,1516.4L1907.7,1503.7L1908.1,1516.4L1908.4,1503.7L1908.8,1516.4L1909.2,1516.4L1909.5,1503.7L1909.9,1516.4L1910.2,1516.4L1910.6,1516.4L1911,1516.4L1911.3,1516.4L1911.7,1516.4L1912,1516.4L1912.4,1516.4L1912.8,1503.7L1913.1,1516.4L1913.5,1516.4L1913.9,1516.4L1914.2,1516.4L1914.6,1503.7L1914.9,1529.1L1915.3,1503.7L1915.7,1516.4L1916,1503.7L1916.4,1516.4L1916.7,1516.4L1917.1,1503.7L1917.5,1503.7L1917.8,1516.4L1918.2,1516.4L1918.5,1491L1918.9,1503.7L1919.3,1516.4L1919.6,1516.4L1920,1503.7L1920.3,1516.4L1920.7,1503.7L1921.1,1516.4L1921.4,1516.4L1921.8,1516.4L1922.1,1503.7L1922.5,1503.7L1922.9,1516.4L1923.2,1503.7L1923.6,1503.7L1924,1516.4L1924.3,1516.4L1924.7,1503.7L1925,1503.7L1925.4,1516.4L1925.8,1503.7L1926.1,1516.4L1926.5,1529.1L1926.8,1503.7L1927.2,1516.4L1927.6,1503.7L1927.9,1516.4L1928.3,1516.4L1928.6,1503.7L1929,1516.4L1929.4,1516.4L1929.7,1516.4L1930.1,1516.4L1930.4,1503.7L1930.8,1491L1931.2,1516.4L1931.5,1516.4L1931.9,1516.4L1932.3,1516.4L1932.6,1516.4L1933,1516.4L1933.3,1503.7L1933.7,1516.4L1934.1,1529.1L1934.4,1529.1L1934.8,1503.7L1935.1,1503.7L1935.5,1529.1L1935.9,1529.1L1936.2,1516.4L1936.6,1503.7L1936.9,1503.7L1937.3,1516.4L1937.7,1503.7L1938,1503.7L1938.4,1516.4L1938.7,1503.7L1939.1,1516.4L1939.5,1516.4L1939.8,1516.4L1940.2,1529.1L1940.5,1516.4L1940.9,1503.7L1941.3,1516.4L1941.6,1503.7L1942,1491L1942.4,1503.7L1942.7,1516.4L1943.1,1516.4L1943.4,1516.4L1943.8,1516.4L1944.2,1516.4L1944.5,1516.4L1944.9,1516.4L1945.2,1503.7L1945.6,1516.4L1946,1503.7L1946.3,1503.7L1946.7,1503.7L1947,1516.4L1947.4,1503.7L1947.8,1516.4L1948.1,1503.7L1948.5,1503.7L1948.8,1516.4L1949.2,1516.4L1949.6,1503.7L1949.9,1503.7L1950.3,1516.4L1950.7,1516.4L1951,1516.4L1951.4,1516.4L1951.7,1516.4L1952.1,1516.4L1952.5,1516.4L1952.8,1503.7L1953.2,1516.4L1953.5,1503.7L1953.9,1516.4L1954.3,1503.7L1954.6,1503.7L1955,1503.7L1955.3,1503.7L1955.7,1503.7L1956.1,1516.4L1956.4,1503.7L1956.8,1516.4L1957.1,1516.4L1957.5,1503.7L1957.9,1516.4L1958.2,1503.7L1958.6,1516.4L1959,1503.7L1959.3,1516.4L1959.7,1503.7L1960,1516.4L1960.4,1503.7L1960.8,1516.4L1961.1,1516.4L1961.5,1529.1L1961.8,1516.4L1962.2,1516.4L1962.6,1503.7L1962.9,1503.7L1963.3,1529.1L1963.6,1516.4L1964,1503.7L1964.4,1503.7L1964.7,1503.7L1965.1,1503.7L1965.4,1503.7L1965.8,1503.7L1966.2,1503.7L1966.5,1503.7L1966.9,1516.4L1967.2,1516.4L1967.6,1516.4L1968,1516.4L1968.3,1516.4L1968.7,1516.4L1969.1,1516.4L1969.4,1503.7L1969.8,1516.4L1970.1,1516.4L1970.5,1516.4L1970.9,1516.4L1971.2,1491L1971.6,1503.7L1971.9,1503.7L1972.3,1503.7L1972.7,1529.1L1973,1503.7L1973.4,1516.4L1973.7,1516.4L1974.1,1516.4L1974.5,1503.7L1974.8,1529.1L1975.2,1516.4L1975.5,1503.7L1975.9,1503.7L1976.3,1529.1L1976.6,1516.4L1977,1516.4L1977.4,1516.4L1977.7,1503.7L1978.1,1516.4L1978.4,1516.4L1978.8,1503.7L1979.2,1529.1L1979.5,1516.4L1979.9,1503.7L1980.2,1516.4L1980.6,1516.4L1981,1516.4L1981.3,1516.4L1981.7,1516.4L1982,1503.7L1982.4,1503.7L1982.8,1516.4L1983.1,1516.4L1983.5,1503.7L1983.8,1516.4L1984.2,1516.4L1984.6,1503.7L1984.9,1516.4L1985.3,1503.7L1985.6,1516.4L1986,1503.7L1986.4,1491L1986.7,1503.7L1987.1,1516.4L1987.5,1516.4L1987.8,1516.4L1988.2,1516.4L1988.5,1516.4L1988.9,1503.7L1989.3,1516.4L1989.6,1516.4L1990,1516.4L1990.3,1516.4L1990.7,1503.7L1991.1,1516.4L1991.4,1503.7L1991.8,1516.4L1992.1,1516.4L1992.5,1516.4L1992.9,1503.7L1993.2,1516.4L1993.6,1503.7L1993.9,1516.4L1994.3,1516.4L1994.7,1503.7L1995,1503.7L1995.4,1516.4L1995.8,1516.4L1996.1,1503.7L1996.5,1516.4L1996.8,1503.7L1997.2,1516.4L1997.6,1516.4L1997.9,1491L1998.3,1503.7L1998.6,1503.7L1999,1516.4L1999.4,1503.7L1999.7,1516.4L2000.1,1516.4L2000.4,1503.7L2000.8,1529.1L2001.2,1503.7L2001.5,1516.4L2001.9,1516.4L2002.2,1503.7L2002.6,1516.4L2003,1516.4L2003.3,1516.4L2003.7,1529.1L2004.1,1516.4L2004.4,1516.4L2004.8,1503.7L2005.1,1503.7L2005.5,1503.7L2005.9,1516.4L2006.2,1529.1L2006.6,1516.4L2006.9,1516.4L2007.3,1503.7L2007.7,1503.7L2008,1491L2008.4,1503.7L2008.7,1503.7L2009.1,1516.4L2009.5,1516.4L2009.8,1516.4L2010.2,1503.7L2010.5,1516.4L2010.9,1516.4L2011.3,1516.4L2011.6,1516.4L2012,1503.7L2012.3,1516.4L2012.7,1516.4L2013.1,1516.4L2013.4,1503.7L2013.8,1516.4L2014.2,1503.7L2014.5,1491L2014.9,1529.1L2015.2,1516.4L2015.6,1516.4L2016,1503.7L2016.3,1516.4L2016.7,1503.7L2017,1516.4L2017.4,1503.7L2017.8,1516.4L2018.1,1503.7L2018.5,1529.1L2018.8,1529.1L2019.2,1503.7L2019.6,1516.4L2019.9,1516.4L2020.3,1491L2020.6,1503.7L2021,1503.7L2021.4,1516.4L2021.7,1503.7L2022.1,1503.7L2022.5,1529.1L2022.8,1503.7L2023.2,1516.4L2023.5,1503.7L2023.9,1503.7L2024.3,1516.4L2024.6,1516.4L2025,1516.4L2025.3,1503.7L2025.7,1516.4L2026.1,1516.4L2026.4,1503.7L2026.8,1503.7L2027.1,1503.7L2027.5,1516.4L2027.9,1516.4L2028.2,1529.1L2028.6,1503.7L2028.9,1516.4L2029.3,1516.4L2029.7,1516.4L2030,1529.1L2030.4,1516.4L2030.7,1529.1L2031.1,1516.4L2031.5,1516.4L2031.8,1503.7L2032.2,1503.7L2032.6,1516.4L2032.9,1516.4L2033.3,1503.7L2033.6,1516.4L2034,1516.4L2034.4,1516.4L2034.7,1491L2035.1,1516.4L2035.4,1529.1L2035.8,1503.7L2036.2,1491L2036.5,1516.4L2036.9,1491L2037.2,1516.4L2037.6,1503.7L2038,1516.4L2038.3,1516.4L2038.7,1516.4L2039,1516.4L2039.4,1529.1L2039.8,1503.7L2040.1,1516.4L2040.5,1503.7L2040.9,1503.7L2041.2,1516.4L2041.6,1516.4L2041.9,1516.4L2042.3,1516.4L2042.7,1516.4L2043,1516.4L2043.4,1516.4L2043.7,1516.4L2044.1,1516.4L2044.5,1516.4L2044.8,1503.7L2045.2,1503.7L2045.5,1503.7L2045.9,1503.7L2046.3,1516.4L2046.6,1503.7L2047,1516.4L2047.3,1503.7L2047.7,1516.4L2048.1,1516.4L2048.4,1503.7L2048.8,1516.4L2049.2,1516.4L2049.5,1516.4L2049.9,1503.7L2050.2,1503.7L2050.6,1516.4L2051,1529.1L2051.3,1503.7L2051.7,1503.7L2052,1529.1L2052.4,1516.4L2052.8,1516.4L2053.1,1529.1L2053.5,1503.7L2053.8,1503.7L2054.2,1516.4L2054.6,1516.4L2054.9,1516.4L2055.3,1516.4L2055.6,1503.7L2056,1516.4L2056.4,1503.7L2056.7,1503.7L2057.1,1529.1L2057.4,1503.7L2057.8,1516.4L2058.2,1516.4L2058.5,1516.4L2058.9,1529.1L2059.3,1516.4L2059.6,1529.1L2060,1516.4L2060.3,1503.7L2060.7,1503.7L2061.1,1516.4L2061.4,1516.4L2061.8,1503.7L2062.1,1516.4"/>
</g>
<g font-size="50" fill="#0072bd" stroke="#0072bd" stroke-width="1.1" letter-spacing="0.7" text-anchor="end">
<text x="236.4" y="1408.9">0</text>
<text x="236.4" y="1155.1">500</text>
<text x="236.4" y="901.2">1000</text>
<text x="236.4" y="647.3">1500</text>
<text x="236.4" y="393.4">2000</text>
<text x="236.4" y="139.5">2500</text>
</g>
<g font-size="50" fill="#d95319" stroke="#d95319" stroke-width="1.1" letter-spacing="0.3" text-anchor="start">
<text x="2083.4" y="1408.8">0</text>
<text x="2083.4" y="1155">200</text>
<text x="2083.4" y="901.1">400</text>
<text x="2083.4" y="647.2">600</text>
<text x="2083.4" y="393.3">800</text>
</g>
<g font-size="50" fill="#262626" stroke="#262626" stroke-width="0.9" letter-spacing="0.6" text-anchor="middle">
<text x="257.6" y="1564.4">0</text>
<text x="438" y="1564.4">5</text>
<text x="618.4" y="1564.4">10</text>
<text x="798.8" y="1564.4">15</text>
<text x="979.2" y="1564.4">20</text>
<text x="1159.6" y="1564.4">25</text>
<text x="1340" y="1564.4">30</text>
<text x="1520.4" y="1564.4">35</text>
<text x="1700.8" y="1564.4">40</text>
<text x="1881.2" y="1564.4">45</text>
<text x="2061.6" y="1564.4">50</text>
</g>
<g font-size="55" fill="#262626" stroke="#262626" stroke-width="1.0">
<text x="1038.1" y="1641.4" letter-spacing="0.3" xml:space="preserve">Time (</text>
<text transform="translate(1200.3 1641.4) scale(1.27 1)" x="0" y="0" font-size="52" class="mu" style="stroke-width:0.7px">μ</text>
<text x="1234.9" y="1641.4" letter-spacing="0.3">s)</text>
</g>
<g transform="translate(67.6 924) rotate(-90)" fill="#0072bd" stroke="#0072bd" stroke-width="0.9">
<text x="0" y="0" font-size="55">V</text>
<text x="39.5" y="28.6" font-size="44" letter-spacing="0.9">IGBT</text>
<text x="162.5" y="0" font-size="55" letter-spacing="0.5">(V)</text>
</g>
<g transform="translate(2241.8 912) rotate(-90)" fill="#d95319" stroke="#d95319" stroke-width="0.9">
<text x="0" y="0" font-size="55">I</text>
<text x="19" y="29.2" font-size="44" letter-spacing="0.8">Fault</text>
<text x="136.5" y="0" font-size="55" letter-spacing="0.6">(A)</text>
</g>
<g font-weight="bold" fill="#000000" stroke="#000000" stroke-width="0.3">
<text y="73.2" font-size="55.5" xml:space="preserve"><tspan x="136.9">Fault </tspan><tspan x="284.6">aperture </tspan><tspan x="526">of </tspan><tspan x="595.6">the </tspan><tspan x="694">SSCB </tspan><tspan x="866.4">prototype </tspan><tspan x="1141">vs </tspan><tspan x="1218.2">simulation </tspan><tspan x="1514.6">(V</tspan></text>
<text x="1573.6" y="101.0" font-size="45.6">BUS</text>
<text y="73.2" font-size="55.5" xml:space="preserve"><tspan x="1671"> = </tspan><tspan x="1736">1 </tspan><tspan x="1782.6">kV </tspan><tspan x="1866">&amp; </tspan><tspan x="1923">L </tspan><tspan x="1971.2">= </tspan><tspan x="2020.8">17</tspan></text>
<text transform="translate(2088.6 73.2) scale(1.27 1)" x="0" y="0" font-size="52" class="mu" style="stroke-width:0.9px">μ</text>
<text x="2123.8" y="73.2" font-size="55.5">H)</text>
</g>
<g>
<rect x="300" y="161" width="582" height="347" fill="#ffffff" stroke="#262626" stroke-width="3.6"/>
<line x1="314" y1="208.6" x2="469" y2="208.6" stroke="#0072bd" stroke-width="3.6"/>
<line x1="314" y1="292" x2="469" y2="292" stroke="#0000ff" stroke-width="3.6"/>
<line x1="314" y1="375.7" x2="469" y2="375.7" stroke="#d95319" stroke-width="3.6"/>
<line x1="314" y1="459.4" x2="469" y2="459.4" stroke="#ff00ff" stroke-width="3.6"/>
<g fill="#000000" stroke="#000000" stroke-width="1.1">
<text x="481.6" y="214.7" font-size="44">V</text>
<text x="514" y="238.3" font-size="35" letter-spacing="2.3">IGBT</text>
<text x="617" y="214.7" font-size="44" letter-spacing="0.95">(simulation)</text>
<text x="481.6" y="298.1" font-size="44">V</text>
<text x="514" y="321.7" font-size="35" letter-spacing="2.3">IGBT</text>
<text x="629" y="298.1" font-size="44" letter-spacing="0.95">(measured)</text>
<text x="481.3" y="381.8" font-size="44">I</text>
<text x="496.3" y="405.4" font-size="35" letter-spacing="1.3">fault</text>
<text x="581" y="381.8" font-size="44" letter-spacing="0.95">(simulation)</text>
<text x="481.3" y="465.5" font-size="44">I</text>
<text x="496.3" y="489.1" font-size="35" letter-spacing="1.3">fault</text>
<text x="581" y="465.5" font-size="44" letter-spacing="0.95">(measured)</text>
</g></g>
</svg>
</body></html>
